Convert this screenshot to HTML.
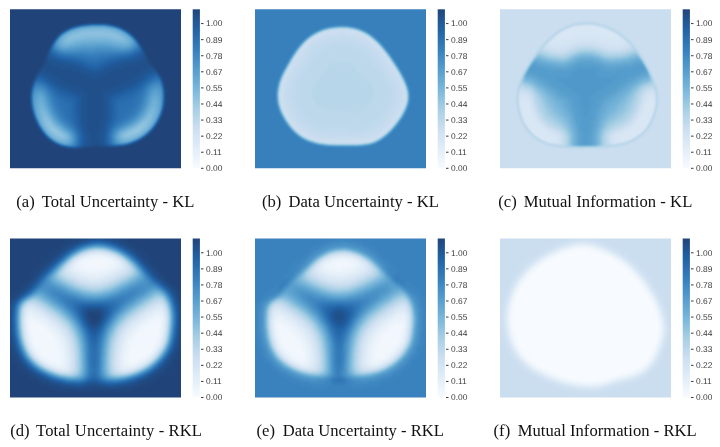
<!DOCTYPE html>
<html lang="en"><head><meta charset="utf-8"><title>Uncertainty heatmaps</title>
<style>
html,body{margin:0;padding:0;background:#fff}
svg{display:block}
.t{font-family:"Liberation Sans",sans-serif;font-size:8.4px;fill:#3a3a3a;text-rendering:geometricPrecision}
text{opacity:.999}
.c{font-family:"Liberation Serif",serif;font-size:16.6px;fill:#111}
</style></head>
<body>
<svg width="720" height="447" viewBox="0 0 720 447">
<defs>
<filter id="cm" filterUnits="userSpaceOnUse" x="-20" y="-20" width="215" height="200" color-interpolation-filters="sRGB"><feGaussianBlur stdDeviation="1.7"/><feComponentTransfer><feFuncR type="table" tableValues="0.9718 0.8835 0.7988 0.6541 0.4741 0.3294 0.2129 0.1282 0.1282"/><feFuncG type="table" tableValues="0.9859 0.9294 0.8729 0.8129 0.7141 0.6118 0.4953 0.3824 0.2694"/><feFuncB type="table" tableValues="1.0000 0.9718 0.9435 0.8941 0.8553 0.7988 0.7353 0.6471 0.4776"/><feFuncA type="linear" slope="0" intercept="1"/></feComponentTransfer></filter>
<filter id="cm_a" filterUnits="userSpaceOnUse" x="-20" y="-20" width="215" height="200" color-interpolation-filters="sRGB"><feGaussianBlur stdDeviation="1.8"/><feComponentTransfer><feFuncR type="table" tableValues="0.9718 0.8835 0.7988 0.6541 0.4741 0.3294 0.2129 0.1282 0.1282"/><feFuncG type="table" tableValues="0.9859 0.9294 0.8729 0.8129 0.7141 0.6118 0.4953 0.3824 0.2694"/><feFuncB type="table" tableValues="1.0000 0.9718 0.9435 0.8941 0.8553 0.7988 0.7353 0.6471 0.4776"/><feFuncA type="linear" slope="0" intercept="1"/></feComponentTransfer></filter>
<filter id="cm_b" filterUnits="userSpaceOnUse" x="-20" y="-20" width="215" height="200" color-interpolation-filters="sRGB"><feGaussianBlur stdDeviation="1.5"/><feComponentTransfer><feFuncR type="table" tableValues="0.9718 0.8835 0.7988 0.6541 0.4741 0.3294 0.2129 0.1282 0.1282"/><feFuncG type="table" tableValues="0.9859 0.9294 0.8729 0.8129 0.7141 0.6118 0.4953 0.3824 0.2694"/><feFuncB type="table" tableValues="1.0000 0.9718 0.9435 0.8941 0.8553 0.7988 0.7353 0.6471 0.4776"/><feFuncA type="linear" slope="0" intercept="1"/></feComponentTransfer></filter>
<filter id="cm_c" filterUnits="userSpaceOnUse" x="-20" y="-20" width="215" height="200" color-interpolation-filters="sRGB"><feGaussianBlur stdDeviation="1.1"/><feComponentTransfer><feFuncR type="table" tableValues="0.9718 0.8835 0.7988 0.6541 0.4741 0.3294 0.2129 0.1282 0.1282"/><feFuncG type="table" tableValues="0.9859 0.9294 0.8729 0.8129 0.7141 0.6118 0.4953 0.3824 0.2694"/><feFuncB type="table" tableValues="1.0000 0.9718 0.9435 0.8941 0.8553 0.7988 0.7353 0.6471 0.4776"/><feFuncA type="linear" slope="0" intercept="1"/></feComponentTransfer></filter>
<filter id="cm_f" filterUnits="userSpaceOnUse" x="-20" y="-20" width="215" height="200" color-interpolation-filters="sRGB"><feGaussianBlur stdDeviation="3.6"/><feComponentTransfer><feFuncR type="table" tableValues="0.9718 0.8835 0.7988 0.6541 0.4741 0.3294 0.2129 0.1282 0.1282"/><feFuncG type="table" tableValues="0.9859 0.9294 0.8729 0.8129 0.7141 0.6118 0.4953 0.3824 0.2694"/><feFuncB type="table" tableValues="1.0000 0.9718 0.9435 0.8941 0.8553 0.7988 0.7353 0.6471 0.4776"/><feFuncA type="linear" slope="0" intercept="1"/></feComponentTransfer></filter>
<filter id="cellblur" filterUnits="userSpaceOnUse" x="-20" y="-20" width="215" height="200" color-interpolation-filters="sRGB"><feGaussianBlur stdDeviation="1.7"/></filter>
<linearGradient id="cb" x1="0" y1="0" x2="0" y2="1"><stop offset="0.0000" stop-color="rgb(33,69,122)"/><stop offset="0.1250" stop-color="rgb(33,98,165)"/><stop offset="0.2500" stop-color="rgb(54,126,188)"/><stop offset="0.3750" stop-color="rgb(84,156,204)"/><stop offset="0.5000" stop-color="rgb(121,182,218)"/><stop offset="0.6250" stop-color="rgb(167,207,228)"/><stop offset="0.7500" stop-color="rgb(204,223,241)"/><stop offset="0.8750" stop-color="rgb(225,237,248)"/><stop offset="1.0000" stop-color="rgb(248,251,255)"/></linearGradient>
<clipPath id="cp"><rect x="0" y="0" width="171.0" height="159.0"/></clipPath>
</defs>
<g transform="translate(10.0,9.3)">
<g clip-path="url(#cp)"><g transform="translate(-0,-0.3)">
<g filter="url(#cm_a)">
<rect x="-12" y="-12" width="195" height="183" fill="#ffffff"/>
<clipPath id="o_a"><path d="M152.7 77.3L153.4 81.7L153.6 86.3L153.5 90.8L153 95.4L152.1 99.9L150.8 104.3L149 108.6L146.8 112.7L144.3 116.6L141.4 120.2L138.1 123.4L134.6 126.4L130.8 129L126.8 131.2L122.7 133L118.4 134.4L114.1 135.4L109.9 136.1L105.6 136.5L101.4 136.8L97.4 136.9L93.4 137L89.4 137L85.5 137.2L81.6 137.5L77.5 137.8L73.4 138.1L69.2 138.2L64.8 138.2L60.4 137.8L56 137.1L51.7 135.9L47.5 134.2L43.5 132L39.9 129.3L36.6 126.2L33.7 122.7L31.1 119L28.8 115.2L26.9 111.2L25.2 107L23.9 102.8L22.8 98.6L22.1 94.3L21.8 90L21.8 85.7L22.3 81.4L23.2 77.3L24.5 73.3L26 69.5L27.7 65.8L29.7 62.3L32 59.2L34.1 56L35.5 52.7L36.7 49.1L38.1 45.6L39.7 42.2L41.5 38.7L43.5 35.3L45.7 31.9L48.2 28.7L51.1 25.8L54.4 23.4L57.9 21.4L61.7 19.8L65.6 18.6L69.5 17.6L73.5 16.9L77.5 16.4L81.5 16.1L85.5 15.9L89.5 15.9L93.6 16.1L97.6 16.5L101.6 17.2L105.6 18.2L109.4 19.6L113.1 21.3L116.6 23.4L119.9 25.8L122.9 28.6L125.6 31.5L128.1 34.7L130.4 37.9L132.5 41.2L134.5 44.6L136.2 48L137.8 51.5L139.8 54.8L142.6 57.9L145.5 61.2L148 64.9L150 68.8L151.6 73Z"/></clipPath>
<g clip-path="url(#o_a)"><g filter="url(#cellblur)">
<g fill="none" stroke-width="3.6"><rect x="-11" y="-11" width="196" height="184" stroke="none" fill="#f3f3f3"/>
<path stroke="#646464" d="M41.7 121.5h3.6M125.7 121.5h3.6"/>
<path stroke="#686868" d="M131.7 115.5h3.6M38.7 118.5h3.6M128.7 118.5h3.6M44.7 121.5h3.6M122.7 121.5h3.6M44.7 124.5h6.6M116.7 124.5h9.6"/>
<path stroke="#6c6c6c" d="M65.7 25.5h3.6M35.7 112.5h3.6M134.7 112.5h3.6M35.7 115.5h6.6M41.7 118.5h3.6M125.7 118.5h3.6M131.7 118.5h3.6M119.7 121.5h3.6M128.7 121.5h3.6M47.7 127.5h6.6M113.7 127.5h6.6"/>
<path stroke="#707070" d="M71.7 22.5h27.6M62.7 25.5h3.6M68.7 25.5h39.6M56.7 28.5h9.6M104.7 28.5h6.6M32.7 109.5h3.6M137.7 109.5h3.6M128.7 115.5h3.6M134.7 115.5h3.6M38.7 121.5h3.6M41.7 124.5h3.6M50.7 124.5h3.6M113.7 124.5h3.6M125.7 124.5h3.6M53.7 127.5h3.6"/>
<path stroke="#747474" d="M68.7 22.5h3.6M98.7 22.5h3.6M59.7 25.5h3.6M107.7 25.5h3.6M65.7 28.5h9.6M98.7 28.5h6.6M110.7 28.5h3.6M53.7 31.5h9.6M110.7 31.5h3.6M32.7 106.5h3.6M137.7 106.5h3.6M35.7 109.5h3.6M134.7 109.5h3.6M32.7 112.5h3.6M38.7 112.5h3.6M131.7 112.5h3.6M137.7 112.5h3.6M35.7 118.5h3.6M122.7 118.5h3.6M47.7 121.5h3.6M44.7 127.5h3.6M110.7 127.5h3.6M119.7 127.5h3.6"/>
<path stroke="#787878" d="M101.7 22.5h3.6M74.7 28.5h24.6M62.7 31.5h3.6M104.7 31.5h6.6M113.7 31.5h3.6M32.7 103.5h3.6M140.7 103.5h3.6M140.7 106.5h3.6M41.7 115.5h3.6M44.7 118.5h3.6M134.7 118.5h3.6M116.7 121.5h3.6M131.7 121.5h3.6M110.7 124.5h3.6M122.7 127.5h3.6M50.7 130.5h6.6"/>
<path stroke="#7c7c7c" d="M65.7 22.5h3.6M53.7 28.5h3.6M113.7 28.5h3.6M65.7 31.5h6.6M101.7 31.5h3.6M53.7 34.5h6.6M29.7 97.5h3.6M29.7 100.5h3.6M140.7 100.5h3.6M29.7 103.5h3.6M137.7 103.5h3.6M29.7 106.5h3.6M35.7 106.5h3.6M140.7 109.5h3.6M32.7 115.5h3.6M125.7 115.5h3.6M137.7 115.5h3.6M35.7 121.5h3.6M38.7 124.5h3.6M53.7 124.5h3.6M128.7 124.5h3.6M41.7 127.5h3.6M47.7 130.5h3.6M113.7 130.5h3.6"/>
<path stroke="#808080" d="M77.7 19.5h18.6M62.7 22.5h3.6M104.7 22.5h3.6M56.7 25.5h3.6M110.7 25.5h3.6M50.7 31.5h3.6M71.7 31.5h9.6M95.7 31.5h6.6M116.7 31.5h3.6M50.7 34.5h3.6M59.7 34.5h3.6M110.7 34.5h6.6M140.7 97.5h6.6M32.7 100.5h3.6M143.7 100.5h3.6M134.7 106.5h3.6M29.7 109.5h3.6M38.7 109.5h3.6M131.7 109.5h3.6M128.7 112.5h3.6M32.7 118.5h3.6M119.7 118.5h3.6M50.7 121.5h3.6M113.7 121.5h3.6M56.7 127.5h3.6M107.7 127.5h3.6M125.7 127.5h3.6M56.7 130.5h3.6M110.7 130.5h3.6M116.7 130.5h3.6"/>
<path stroke="#838383" d="M71.7 19.5h6.6M95.7 19.5h3.6M80.7 31.5h15.6M62.7 34.5h3.6M107.7 34.5h3.6M116.7 34.5h3.6M143.7 91.5h3.6M29.7 94.5h3.6M140.7 94.5h6.6M137.7 100.5h3.6M35.7 103.5h3.6M143.7 103.5h3.6M29.7 112.5h3.6M41.7 112.5h3.6M140.7 112.5h3.6M47.7 118.5h3.6M137.7 118.5h3.6M134.7 121.5h3.6M44.7 130.5h3.6M119.7 130.5h3.6"/>
<path stroke="#878787" d="M68.7 19.5h3.6M98.7 19.5h3.6M59.7 22.5h3.6M107.7 22.5h3.6M53.7 25.5h3.6M50.7 28.5h3.6M116.7 28.5h3.6M65.7 34.5h3.6M101.7 34.5h6.6M53.7 37.5h3.6M143.7 88.5h3.6M29.7 91.5h3.6M140.7 91.5h3.6M26.7 94.5h3.6M26.7 97.5h3.6M32.7 97.5h3.6M26.7 100.5h3.6M26.7 103.5h3.6M134.7 103.5h3.6M143.7 106.5h3.6M29.7 115.5h3.6M44.7 115.5h3.6M122.7 115.5h3.6M35.7 124.5h3.6M107.7 124.5h3.6M131.7 124.5h3.6M38.7 127.5h3.6M107.7 130.5h3.6M50.7 133.5h6.6"/>
<path stroke="#8b8b8b" d="M101.7 19.5h3.6M113.7 25.5h3.6M47.7 34.5h3.6M68.7 34.5h9.6M98.7 34.5h3.6M50.7 37.5h3.6M56.7 37.5h3.6M29.7 88.5h3.6M26.7 91.5h3.6M32.7 94.5h3.6M137.7 97.5h3.6M26.7 106.5h3.6M38.7 106.5h3.6M143.7 109.5h3.6M140.7 115.5h3.6M116.7 118.5h3.6M32.7 121.5h3.6M110.7 121.5h3.6M56.7 124.5h3.6M128.7 127.5h3.6M41.7 130.5h3.6M122.7 130.5h3.6M47.7 133.5h3.6M56.7 133.5h3.6"/>
<path stroke="#8f8f8f" d="M65.7 19.5h3.6M104.7 19.5h3.6M56.7 22.5h3.6M110.7 22.5h3.6M47.7 31.5h3.6M119.7 31.5h3.6M77.7 34.5h21.6M119.7 34.5h3.6M59.7 37.5h3.6M110.7 37.5h9.6M143.7 85.5h3.6M26.7 88.5h3.6M140.7 88.5h3.6M146.7 91.5h3.6M146.7 94.5h3.6M146.7 97.5h3.6M35.7 100.5h3.6M146.7 100.5h3.6M146.7 103.5h3.6M131.7 106.5h3.6M26.7 109.5h3.6M128.7 109.5h3.6M125.7 112.5h3.6M143.7 112.5h3.6M29.7 118.5h3.6M140.7 118.5h3.6M53.7 121.5h3.6M137.7 121.5h3.6M134.7 124.5h3.6M131.7 127.5h3.6M59.7 130.5h3.6M125.7 130.5h3.6M44.7 133.5h3.6M110.7 133.5h9.6"/>
<path stroke="#939393" d="M74.7 16.5h24.6M62.7 19.5h3.6M50.7 25.5h3.6M116.7 25.5h3.6M47.7 37.5h3.6M62.7 37.5h3.6M104.7 37.5h6.6M143.7 82.5h3.6M26.7 85.5h6.6M140.7 85.5h3.6M146.7 88.5h3.6M32.7 91.5h3.6M23.7 94.5h3.6M137.7 94.5h3.6M23.7 97.5h3.6M23.7 100.5h3.6M134.7 100.5h3.6M146.7 106.5h3.6M41.7 109.5h3.6M26.7 112.5h3.6M26.7 115.5h3.6M143.7 115.5h3.6M20.7 118.5h9.6M50.7 118.5h3.6M143.7 118.5h9.6M23.7 121.5h9.6M140.7 121.5h9.6M26.7 124.5h9.6M137.7 124.5h9.6M26.7 127.5h12.6M59.7 127.5h3.6M104.7 127.5h3.6M134.7 127.5h9.6M29.7 130.5h12.6M128.7 130.5h12.6M32.7 133.5h12.6M119.7 133.5h18.6M35.7 136.5h18.6M116.7 136.5h15.6M41.7 139.5h9.6M116.7 139.5h9.6M47.7 142.5h3.6"/>
<path stroke="#979797" d="M65.7 10.5h39.6M56.7 13.5h57.6M50.7 16.5h24.6M98.7 16.5h21.6M47.7 19.5h15.6M107.7 19.5h15.6M44.7 22.5h12.6M113.7 22.5h9.6M47.7 28.5h3.6M119.7 28.5h3.6M65.7 37.5h6.6M101.7 37.5h3.6M119.7 37.5h3.6M146.7 85.5h3.6M23.7 88.5h3.6M32.7 88.5h3.6M23.7 91.5h3.6M137.7 91.5h3.6M35.7 97.5h3.6M23.7 103.5h3.6M38.7 103.5h3.6M23.7 106.5h3.6M17.7 109.5h9.6M146.7 109.5h9.6M17.7 112.5h9.6M44.7 112.5h3.6M146.7 112.5h9.6M20.7 115.5h6.6M47.7 115.5h3.6M119.7 115.5h3.6M146.7 115.5h6.6M113.7 118.5h3.6M104.7 130.5h3.6M107.7 133.5h3.6M53.7 136.5h3.6M113.7 136.5h3.6M50.7 139.5h3.6M113.7 139.5h3.6M50.7 142.5h3.6M113.7 142.5h3.6"/>
<path stroke="#9b9b9b" d="M122.7 22.5h3.6M41.7 25.5h9.6M119.7 25.5h9.6M44.7 28.5h3.6M71.7 37.5h15.6M95.7 37.5h6.6M53.7 40.5h3.6M140.7 82.5h3.6M146.7 82.5h3.6M137.7 88.5h3.6M149.7 91.5h3.6M35.7 94.5h3.6M149.7 94.5h3.6M134.7 97.5h3.6M149.7 97.5h3.6M149.7 100.5h3.6M14.7 103.5h9.6M131.7 103.5h3.6M149.7 103.5h9.6M17.7 106.5h6.6M149.7 106.5h9.6M107.7 121.5h3.6M104.7 124.5h3.6M59.7 133.5h3.6M56.7 136.5h3.6M110.7 136.5h3.6M53.7 139.5h3.6M110.7 139.5h3.6M53.7 142.5h3.6M110.7 142.5h3.6"/>
<path stroke="#9f9f9f" d="M38.7 28.5h6.6M122.7 28.5h6.6M44.7 31.5h3.6M122.7 31.5h3.6M44.7 34.5h3.6M122.7 34.5h3.6M86.7 37.5h9.6M50.7 40.5h3.6M56.7 40.5h6.6M143.7 79.5h3.6M26.7 82.5h6.6M23.7 85.5h3.6M32.7 85.5h3.6M149.7 85.5h3.6M149.7 88.5h3.6M20.7 94.5h3.6M14.7 97.5h9.6M152.7 97.5h6.6M14.7 100.5h9.6M38.7 100.5h3.6M152.7 100.5h6.6M41.7 106.5h3.6M128.7 106.5h3.6M125.7 109.5h3.6M122.7 112.5h3.6M56.7 121.5h3.6M59.7 124.5h3.6M56.7 139.5h3.6M56.7 142.5h3.6"/>
<path stroke="#a3a3a3" d="M128.7 28.5h3.6M41.7 31.5h3.6M44.7 37.5h3.6M47.7 40.5h3.6M62.7 40.5h6.6M107.7 40.5h9.6M140.7 79.5h3.6M146.7 79.5h3.6M23.7 82.5h3.6M149.7 82.5h3.6M137.7 85.5h3.6M20.7 88.5h3.6M14.7 91.5h9.6M35.7 91.5h3.6M152.7 91.5h9.6M14.7 94.5h6.6M134.7 94.5h3.6M152.7 94.5h9.6M131.7 100.5h3.6M116.7 115.5h3.6M53.7 118.5h3.6M110.7 118.5h3.6M104.7 133.5h3.6M107.7 136.5h3.6M107.7 139.5h3.6M107.7 142.5h3.6"/>
<path stroke="#a7a7a7" d="M38.7 31.5h3.6M125.7 31.5h3.6M68.7 40.5h15.6M101.7 40.5h6.6M116.7 40.5h3.6M137.7 82.5h3.6M14.7 85.5h3.6M20.7 85.5h3.6M152.7 85.5h9.6M14.7 88.5h6.6M35.7 88.5h3.6M152.7 88.5h9.6M134.7 91.5h3.6M38.7 97.5h3.6M44.7 109.5h3.6M47.7 112.5h3.6M50.7 115.5h3.6M62.7 130.5h3.6M59.7 136.5h3.6"/>
<path stroke="#ababab" d="M35.7 31.5h3.6M128.7 31.5h3.6M41.7 34.5h3.6M122.7 37.5h3.6M83.7 40.5h18.6M143.7 76.5h6.6M26.7 79.5h6.6M149.7 79.5h3.6M158.7 79.5h3.6M14.7 82.5h9.6M32.7 82.5h3.6M152.7 82.5h9.6M17.7 85.5h3.6M134.7 88.5h3.6M131.7 97.5h3.6M41.7 103.5h3.6M128.7 103.5h3.6M119.7 112.5h3.6M113.7 115.5h3.6M104.7 121.5h3.6M62.7 127.5h3.6M101.7 127.5h3.6M59.7 139.5h3.6M59.7 142.5h3.6"/>
<path stroke="#afafaf" d="M131.7 31.5h3.6M125.7 34.5h3.6M119.7 40.5h3.6M140.7 76.5h3.6M149.7 76.5h3.6M155.7 76.5h3.6M14.7 79.5h6.6M23.7 79.5h3.6M137.7 79.5h3.6M152.7 79.5h6.6M35.7 85.5h3.6M38.7 94.5h3.6M44.7 106.5h3.6M125.7 106.5h3.6M122.7 109.5h3.6M107.7 118.5h3.6M59.7 121.5h3.6M101.7 130.5h3.6M62.7 133.5h3.6M104.7 136.5h3.6M104.7 139.5h3.6M104.7 142.5h3.6"/>
<path stroke="#b3b3b3" d="M38.7 34.5h3.6M44.7 40.5h3.6M53.7 43.5h15.6M74.7 43.5h12.6M155.7 73.5h3.6M14.7 76.5h3.6M152.7 76.5h3.6M20.7 79.5h3.6M134.7 85.5h3.6M38.7 91.5h3.6M131.7 94.5h3.6M41.7 100.5h3.6M128.7 100.5h3.6M47.7 109.5h3.6M116.7 112.5h3.6M53.7 115.5h3.6M56.7 118.5h3.6M62.7 124.5h3.6M101.7 124.5h3.6"/>
<path stroke="#b7b7b7" d="M35.7 34.5h3.6M128.7 34.5h3.6M41.7 37.5h3.6M50.7 43.5h3.6M68.7 43.5h6.6M86.7 43.5h27.6M143.7 73.5h6.6M152.7 73.5h3.6M17.7 76.5h3.6M26.7 76.5h3.6M32.7 79.5h3.6M35.7 82.5h3.6M134.7 82.5h3.6M38.7 88.5h3.6M131.7 91.5h3.6M41.7 97.5h3.6M44.7 103.5h3.6M125.7 103.5h3.6M119.7 109.5h3.6M50.7 112.5h3.6M110.7 115.5h3.6M101.7 133.5h3.6M62.7 136.5h3.6"/>
<path stroke="#bbbbbb" d="M125.7 37.5h3.6M122.7 40.5h3.6M47.7 43.5h3.6M113.7 43.5h3.6M155.7 70.5h3.6M149.7 73.5h3.6M20.7 76.5h6.6M29.7 76.5h3.6M137.7 76.5h3.6M131.7 88.5h3.6M41.7 94.5h3.6M128.7 97.5h3.6M47.7 106.5h3.6M122.7 106.5h3.6M113.7 112.5h3.6M104.7 118.5h3.6M101.7 121.5h3.6M62.7 139.5h3.6M62.7 142.5h3.6"/>
<path stroke="#bfbfbf" d="M131.7 34.5h3.6M38.7 37.5h3.6M116.7 43.5h3.6M74.7 46.5h15.6M152.7 70.5h3.6M17.7 73.5h3.6M140.7 73.5h3.6M134.7 79.5h3.6M38.7 85.5h3.6M131.7 85.5h3.6M41.7 91.5h3.6M128.7 94.5h3.6M44.7 100.5h3.6M125.7 100.5h3.6M50.7 109.5h3.6M116.7 109.5h3.6M53.7 112.5h3.6M56.7 115.5h3.6M107.7 115.5h3.6M59.7 118.5h3.6M62.7 121.5h3.6M101.7 136.5h3.6M101.7 139.5h3.6M101.7 142.5h3.6"/>
<path stroke="#c3c3c3" d="M41.7 40.5h3.6M59.7 46.5h15.6M89.7 46.5h9.6M152.7 67.5h3.6M20.7 73.5h3.6M32.7 76.5h3.6M35.7 79.5h3.6M131.7 82.5h3.6M41.7 88.5h3.6M128.7 91.5h3.6M44.7 97.5h3.6M125.7 97.5h3.6M47.7 103.5h3.6M122.7 103.5h3.6M119.7 106.5h3.6M110.7 112.5h3.6M65.7 127.5h3.6M98.7 127.5h3.6M65.7 130.5h3.6"/>
<path stroke="#c7c7c7" d="M134.7 34.5h3.6M35.7 37.5h3.6M128.7 37.5h3.6M125.7 40.5h3.6M44.7 43.5h3.6M119.7 43.5h3.6M53.7 46.5h6.6M98.7 46.5h6.6M77.7 49.5h12.6M146.7 70.5h6.6M23.7 73.5h3.6M137.7 73.5h3.6M134.7 76.5h3.6M38.7 82.5h3.6M128.7 85.5h3.6M128.7 88.5h3.6M44.7 91.5h3.6M44.7 94.5h3.6M125.7 94.5h3.6M47.7 97.5h3.6M47.7 100.5h3.6M122.7 100.5h3.6M50.7 103.5h3.6M119.7 103.5h3.6M50.7 106.5h3.6M116.7 106.5h3.6M53.7 109.5h3.6M113.7 109.5h3.6M56.7 112.5h3.6M107.7 112.5h3.6M59.7 115.5h3.6M104.7 115.5h3.6M101.7 118.5h3.6M98.7 124.5h3.6M98.7 130.5h3.6M65.7 133.5h3.6"/>
<path stroke="#cbcbcb" d="M50.7 46.5h3.6M104.7 46.5h6.6M71.7 49.5h6.6M89.7 49.5h6.6M149.7 67.5h3.6M17.7 70.5h3.6M143.7 70.5h3.6M26.7 73.5h6.6M131.7 79.5h3.6M41.7 85.5h3.6M44.7 88.5h3.6M125.7 88.5h3.6M122.7 91.5h6.6M47.7 94.5h3.6M122.7 94.5h3.6M50.7 97.5h3.6M119.7 97.5h6.6M50.7 100.5h3.6M116.7 100.5h6.6M53.7 103.5h3.6M113.7 103.5h6.6M53.7 106.5h3.6M110.7 106.5h6.6M56.7 109.5h3.6M110.7 109.5h3.6M62.7 118.5h3.6M65.7 124.5h3.6M98.7 133.5h3.6M65.7 136.5h3.6"/>
<path stroke="#cfcfcf" d="M32.7 37.5h3.6M131.7 37.5h3.6M38.7 40.5h3.6M122.7 43.5h3.6M110.7 46.5h6.6M65.7 49.5h6.6M95.7 49.5h3.6M77.7 52.5h12.6M146.7 67.5h3.6M20.7 70.5h3.6M140.7 70.5h3.6M35.7 76.5h3.6M38.7 79.5h3.6M41.7 82.5h3.6M128.7 82.5h3.6M125.7 85.5h3.6M47.7 88.5h3.6M122.7 88.5h3.6M47.7 91.5h6.6M116.7 91.5h6.6M50.7 94.5h9.6M110.7 94.5h12.6M53.7 97.5h6.6M107.7 97.5h12.6M53.7 100.5h6.6M107.7 100.5h9.6M56.7 103.5h3.6M107.7 103.5h6.6M56.7 106.5h3.6M107.7 106.5h3.6M107.7 109.5h3.6M59.7 112.5h3.6M104.7 112.5h3.6M98.7 121.5h3.6M98.7 136.5h3.6M65.7 139.5h3.6M65.7 142.5h3.6"/>
<path stroke="#d3d3d3" d="M128.7 40.5h3.6M41.7 43.5h3.6M47.7 46.5h3.6M116.7 46.5h3.6M62.7 49.5h3.6M98.7 49.5h3.6M74.7 52.5h3.6M89.7 52.5h3.6M83.7 55.5h3.6M152.7 64.5h3.6M17.7 67.5h3.6M143.7 67.5h3.6M32.7 73.5h3.6M134.7 73.5h3.6M131.7 76.5h3.6M128.7 79.5h3.6M125.7 82.5h3.6M44.7 85.5h3.6M122.7 85.5h3.6M50.7 88.5h3.6M113.7 88.5h9.6M53.7 91.5h6.6M107.7 91.5h9.6M59.7 94.5h3.6M104.7 94.5h6.6M59.7 97.5h3.6M104.7 97.5h3.6M59.7 100.5h3.6M104.7 100.5h3.6M59.7 103.5h3.6M104.7 103.5h3.6M59.7 106.5h3.6M104.7 106.5h3.6M59.7 109.5h3.6M104.7 109.5h3.6M62.7 115.5h3.6M101.7 115.5h3.6M65.7 121.5h3.6M98.7 139.5h3.6M98.7 142.5h3.6"/>
<path stroke="#d7d7d7" d="M134.7 37.5h3.6M35.7 40.5h3.6M125.7 43.5h3.6M44.7 46.5h3.6M119.7 46.5h3.6M56.7 49.5h6.6M101.7 49.5h6.6M71.7 52.5h3.6M92.7 52.5h3.6M77.7 55.5h6.6M86.7 55.5h3.6M20.7 67.5h3.6M140.7 67.5h3.6M23.7 70.5h6.6M137.7 70.5h3.6M44.7 82.5h3.6M122.7 82.5h3.6M47.7 85.5h3.6M116.7 85.5h6.6M53.7 88.5h3.6M110.7 88.5h3.6M59.7 91.5h3.6M104.7 91.5h3.6M62.7 109.5h3.6M101.7 109.5h3.6M62.7 112.5h3.6M101.7 112.5h3.6M65.7 118.5h3.6M98.7 118.5h3.6M68.7 127.5h3.6M95.7 127.5h3.6M68.7 130.5h3.6"/>
<path stroke="#dbdbdb" d="M131.7 40.5h3.6M38.7 43.5h3.6M50.7 49.5h6.6M107.7 49.5h3.6M65.7 52.5h6.6M95.7 52.5h3.6M74.7 55.5h3.6M89.7 55.5h3.6M83.7 58.5h3.6M149.7 64.5h3.6M29.7 70.5h3.6M35.7 73.5h3.6M131.7 73.5h3.6M38.7 76.5h3.6M128.7 76.5h3.6M41.7 79.5h3.6M125.7 79.5h3.6M119.7 82.5h3.6M50.7 85.5h3.6M113.7 85.5h3.6M56.7 88.5h6.6M107.7 88.5h3.6M62.7 91.5h3.6M101.7 91.5h3.6M62.7 94.5h3.6M101.7 94.5h3.6M62.7 97.5h3.6M101.7 97.5h3.6M62.7 100.5h3.6M101.7 100.5h3.6M62.7 103.5h3.6M101.7 103.5h3.6M62.7 106.5h3.6M101.7 106.5h3.6M98.7 115.5h3.6M68.7 124.5h3.6M95.7 124.5h3.6M95.7 130.5h3.6M68.7 133.5h3.6M95.7 133.5h3.6M68.7 136.5h3.6"/>
<path stroke="#dfdfdf" d="M32.7 40.5h3.6M128.7 43.5h3.6M41.7 46.5h3.6M122.7 46.5h3.6M47.7 49.5h3.6M110.7 49.5h6.6M62.7 52.5h3.6M98.7 52.5h6.6M71.7 55.5h3.6M92.7 55.5h3.6M77.7 58.5h6.6M86.7 58.5h3.6M146.7 64.5h3.6M23.7 67.5h3.6M137.7 67.5h3.6M32.7 70.5h3.6M134.7 70.5h3.6M44.7 79.5h3.6M122.7 79.5h3.6M47.7 82.5h3.6M116.7 82.5h3.6M53.7 85.5h6.6M110.7 85.5h3.6M62.7 88.5h3.6M101.7 88.5h6.6M65.7 106.5h3.6M65.7 109.5h3.6M65.7 112.5h3.6M98.7 112.5h3.6M65.7 115.5h3.6M68.7 121.5h3.6M95.7 121.5h3.6M95.7 136.5h3.6M68.7 139.5h3.6M95.7 139.5h3.6M68.7 142.5h3.6M95.7 142.5h3.6"/>
<path stroke="#e3e3e3" d="M134.7 40.5h3.6M35.7 43.5h3.6M125.7 46.5h3.6M44.7 49.5h3.6M116.7 49.5h3.6M56.7 52.5h6.6M104.7 52.5h3.6M68.7 55.5h3.6M95.7 55.5h3.6M74.7 58.5h3.6M89.7 58.5h3.6M83.7 61.5h3.6M149.7 61.5h3.6M20.7 64.5h3.6M143.7 64.5h3.6M26.7 67.5h6.6M134.7 67.5h3.6M38.7 73.5h3.6M128.7 73.5h3.6M41.7 76.5h3.6M125.7 76.5h3.6M47.7 79.5h3.6M119.7 79.5h3.6M50.7 82.5h6.6M113.7 82.5h3.6M59.7 85.5h3.6M104.7 85.5h6.6M65.7 88.5h3.6M98.7 88.5h3.6M65.7 91.5h3.6M98.7 91.5h3.6M65.7 94.5h3.6M98.7 94.5h3.6M65.7 97.5h3.6M98.7 97.5h3.6M65.7 100.5h3.6M98.7 100.5h3.6M65.7 103.5h3.6M98.7 103.5h3.6M98.7 106.5h3.6M98.7 109.5h3.6M68.7 118.5h3.6M95.7 118.5h3.6M71.7 130.5h3.6"/>
<path stroke="#e7e7e7" d="M137.7 40.5h3.6M32.7 43.5h3.6M131.7 43.5h3.6M38.7 46.5h3.6M128.7 46.5h3.6M41.7 49.5h3.6M119.7 49.5h6.6M50.7 52.5h6.6M107.7 52.5h6.6M62.7 55.5h6.6M98.7 55.5h6.6M71.7 58.5h3.6M92.7 58.5h3.6M77.7 61.5h6.6M86.7 61.5h3.6M146.7 61.5h3.6M23.7 64.5h3.6M137.7 64.5h6.6M32.7 67.5h3.6M35.7 70.5h3.6M131.7 70.5h3.6M41.7 73.5h3.6M125.7 73.5h3.6M44.7 76.5h3.6M122.7 76.5h3.6M50.7 79.5h3.6M113.7 79.5h6.6M56.7 82.5h3.6M107.7 82.5h6.6M62.7 85.5h3.6M101.7 85.5h3.6M68.7 88.5h3.6M68.7 91.5h3.6M68.7 94.5h3.6M68.7 97.5h3.6M68.7 100.5h3.6M68.7 103.5h3.6M68.7 106.5h3.6M68.7 109.5h3.6M68.7 112.5h3.6M95.7 112.5h3.6M68.7 115.5h3.6M95.7 115.5h3.6M71.7 124.5h3.6M92.7 124.5h3.6M71.7 127.5h3.6M92.7 127.5h3.6M92.7 130.5h3.6M71.7 133.5h3.6M92.7 133.5h3.6M71.7 136.5h3.6M71.7 139.5h3.6M71.7 142.5h3.6"/>
<path stroke="#ebebeb" d="M29.7 43.5h3.6M134.7 43.5h6.6M32.7 46.5h6.6M131.7 46.5h3.6M38.7 49.5h3.6M125.7 49.5h3.6M44.7 52.5h6.6M113.7 52.5h9.6M53.7 55.5h9.6M104.7 55.5h6.6M65.7 58.5h6.6M95.7 58.5h6.6M149.7 58.5h3.6M20.7 61.5h3.6M71.7 61.5h6.6M89.7 61.5h6.6M140.7 61.5h6.6M26.7 64.5h6.6M80.7 64.5h6.6M134.7 64.5h3.6M35.7 67.5h6.6M128.7 67.5h6.6M38.7 70.5h3.6M128.7 70.5h3.6M44.7 73.5h3.6M122.7 73.5h3.6M47.7 76.5h3.6M116.7 76.5h6.6M53.7 79.5h3.6M110.7 79.5h3.6M59.7 82.5h6.6M101.7 82.5h6.6M65.7 85.5h6.6M95.7 85.5h6.6M95.7 88.5h3.6M95.7 91.5h3.6M95.7 94.5h3.6M95.7 97.5h3.6M95.7 100.5h3.6M95.7 103.5h3.6M95.7 106.5h3.6M95.7 109.5h3.6M71.7 115.5h3.6M92.7 115.5h3.6M71.7 118.5h3.6M92.7 118.5h3.6M71.7 121.5h3.6M92.7 121.5h3.6M74.7 127.5h3.6M89.7 127.5h3.6M74.7 130.5h3.6M92.7 136.5h3.6M92.7 139.5h3.6M92.7 142.5h3.6"/>
<path stroke="#efefef" d="M29.7 46.5h3.6M134.7 46.5h9.6M32.7 49.5h6.6M128.7 49.5h9.6M38.7 52.5h6.6M122.7 52.5h9.6M41.7 55.5h12.6M110.7 55.5h15.6M146.7 55.5h3.6M23.7 58.5h3.6M50.7 58.5h15.6M101.7 58.5h12.6M137.7 58.5h12.6M23.7 61.5h12.6M62.7 61.5h9.6M95.7 61.5h9.6M131.7 61.5h9.6M32.7 64.5h9.6M71.7 64.5h9.6M86.7 64.5h9.6M128.7 64.5h6.6M41.7 67.5h6.6M77.7 67.5h12.6M122.7 67.5h6.6M41.7 70.5h9.6M119.7 70.5h9.6M47.7 73.5h6.6M113.7 73.5h9.6M50.7 76.5h9.6M107.7 76.5h9.6M56.7 79.5h12.6M101.7 79.5h9.6M65.7 82.5h9.6M92.7 82.5h9.6M71.7 85.5h6.6M92.7 85.5h3.6M71.7 88.5h6.6M92.7 88.5h3.6M71.7 91.5h6.6M92.7 91.5h3.6M71.7 94.5h6.6M92.7 94.5h3.6M71.7 97.5h6.6M92.7 97.5h3.6M71.7 100.5h6.6M92.7 100.5h3.6M71.7 103.5h6.6M92.7 103.5h3.6M71.7 106.5h6.6M92.7 106.5h3.6M71.7 109.5h6.6M92.7 109.5h3.6M71.7 112.5h6.6M89.7 112.5h6.6M74.7 115.5h3.6M89.7 115.5h3.6M74.7 118.5h3.6M89.7 118.5h3.6M74.7 121.5h3.6M89.7 121.5h3.6M74.7 124.5h6.6M86.7 124.5h6.6M77.7 127.5h3.6M86.7 127.5h3.6M77.7 130.5h3.6M86.7 130.5h6.6M74.7 133.5h6.6M86.7 133.5h6.6M74.7 136.5h6.6M89.7 136.5h3.6M74.7 139.5h3.6M89.7 139.5h3.6M74.7 142.5h3.6M89.7 142.5h3.6"/></g>
</g></g>
</g>
</g></g>
<rect x="182.7" y="0" width="7.2" height="159.0" fill="url(#cb)"/>
<rect x="191" y="158.50" width="2.5" height="1" fill="#3a3a3a"/><text class="t" x="196" y="161.90">0.00</text>
<rect x="191" y="142.42" width="2.5" height="1" fill="#3a3a3a"/><text class="t" x="196" y="145.82">0.11</text>
<rect x="191" y="126.34" width="2.5" height="1" fill="#3a3a3a"/><text class="t" x="196" y="129.74">0.22</text>
<rect x="191" y="110.26" width="2.5" height="1" fill="#3a3a3a"/><text class="t" x="196" y="113.66">0.33</text>
<rect x="191" y="94.18" width="2.5" height="1" fill="#3a3a3a"/><text class="t" x="196" y="97.58">0.44</text>
<rect x="191" y="78.09" width="2.5" height="1" fill="#3a3a3a"/><text class="t" x="196" y="81.49">0.55</text>
<rect x="191" y="62.01" width="2.5" height="1" fill="#3a3a3a"/><text class="t" x="196" y="65.41">0.67</text>
<rect x="191" y="45.93" width="2.5" height="1" fill="#3a3a3a"/><text class="t" x="196" y="49.33">0.78</text>
<rect x="191" y="29.85" width="2.5" height="1" fill="#3a3a3a"/><text class="t" x="196" y="33.25">0.89</text>
<rect x="191" y="13.77" width="2.5" height="1" fill="#3a3a3a"/><text class="t" x="196" y="17.17">1.00</text>
</g>
<g transform="translate(255.0,9.3)">
<g clip-path="url(#cp)"><g transform="translate(-0,-0.3)">
<g filter="url(#cm_b)">
<rect x="-12" y="-12" width="195" height="183" fill="#bdbdbd"/>
<clipPath id="o_b"><path d="M151.4 77.3L152.7 81.7L153.3 86.2L153.1 90.7L152.2 95.2L150.6 99.4L148.7 103.5L146.5 107.4L144.1 111.1L141.5 114.7L138.7 118.1L135.7 121.4L132.6 124.4L129.3 127.3L125.8 129.8L122 132L118.1 133.7L113.9 134.9L109.7 135.6L105.4 136L101.3 136.2L97.2 136.2L93.3 136.2L89.4 136.2L85.5 136.2L81.6 136.2L77.8 136.1L73.8 135.9L69.9 135.5L65.9 135L61.9 134.2L58 133.1L54 131.8L50.2 130.1L46.6 128L43.2 125.5L40 122.8L37.1 119.8L34.4 116.5L31.9 113.1L29.7 109.5L27.7 105.8L25.9 102L24.5 98L23.5 93.9L23 89.7L22.8 85.5L23.2 81.4L23.9 77.3L24.9 73.3L26.3 69.5L27.9 65.8L29.7 62.3L31.5 59L33.3 55.7L35.2 52.5L37 49.3L39 46.2L41 43.2L43.2 40.2L45.5 37.3L48 34.5L50.6 31.8L53.5 29.3L56.5 27L59.7 25L63.1 23.2L66.6 21.7L70.3 20.5L74 19.6L77.8 18.9L81.6 18.5L85.5 18.3L89.4 18.3L93.2 18.6L97.1 19.2L100.8 20.1L104.5 21.2L108.1 22.7L111.5 24.6L114.7 26.6L117.8 29L120.7 31.4L123.4 34.1L126 36.8L128.4 39.7L130.7 42.6L133 45.6L135.2 48.6L137.3 51.7L139.5 54.9L141.6 58.2L143.7 61.7L145.8 65.3L147.8 69.1L149.7 73.1Z"/></clipPath>
<g clip-path="url(#o_b)"><g filter="url(#cellblur)">
<g fill="none" stroke-width="3.6"><rect x="-11" y="-11" width="196" height="184" stroke="none" fill="#3c3c3c"/>
<path stroke="#404040" d="M80.7 22.5h9.6M68.7 25.5h15.6M89.7 25.5h15.6M62.7 28.5h6.6M101.7 28.5h9.6M56.7 31.5h6.6M107.7 31.5h6.6M53.7 34.5h3.6M113.7 34.5h3.6M50.7 37.5h3.6M116.7 37.5h3.6M47.7 40.5h3.6M119.7 40.5h3.6M44.7 43.5h6.6M122.7 43.5h3.6M44.7 46.5h3.6M125.7 46.5h3.6M41.7 49.5h3.6M125.7 49.5h6.6M38.7 52.5h3.6M128.7 52.5h3.6M38.7 55.5h3.6M131.7 55.5h3.6M35.7 58.5h3.6M131.7 58.5h6.6M35.7 61.5h3.6M134.7 61.5h3.6M32.7 64.5h3.6M137.7 64.5h3.6M29.7 67.5h6.6M137.7 67.5h6.6M29.7 70.5h3.6M140.7 70.5h3.6M29.7 73.5h3.6M143.7 73.5h3.6M26.7 76.5h3.6M143.7 76.5h3.6M26.7 79.5h3.6M143.7 79.5h3.6M26.7 82.5h3.6M146.7 82.5h3.6M26.7 85.5h3.6M146.7 85.5h3.6M26.7 88.5h3.6M146.7 88.5h3.6M26.7 91.5h3.6M146.7 91.5h3.6M26.7 94.5h3.6M143.7 94.5h3.6M29.7 97.5h3.6M143.7 97.5h3.6M29.7 100.5h3.6M140.7 100.5h6.6M29.7 103.5h6.6M140.7 103.5h3.6M32.7 106.5h3.6M137.7 106.5h3.6M32.7 109.5h6.6M134.7 109.5h6.6M35.7 112.5h3.6M134.7 112.5h3.6M38.7 115.5h3.6M131.7 115.5h3.6M41.7 118.5h3.6M128.7 118.5h3.6M44.7 121.5h6.6M125.7 121.5h3.6M47.7 124.5h6.6M119.7 124.5h6.6M53.7 127.5h9.6M113.7 127.5h9.6M62.7 130.5h51.6"/>
<path stroke="#444444" d="M83.7 25.5h6.6M68.7 28.5h33.6M62.7 31.5h9.6M98.7 31.5h9.6M56.7 34.5h9.6M104.7 34.5h9.6M53.7 37.5h6.6M110.7 37.5h6.6M50.7 40.5h6.6M113.7 40.5h6.6M50.7 43.5h3.6M116.7 43.5h6.6M47.7 46.5h6.6M119.7 46.5h6.6M44.7 49.5h6.6M122.7 49.5h3.6M41.7 52.5h6.6M122.7 52.5h6.6M41.7 55.5h6.6M125.7 55.5h6.6M38.7 58.5h6.6M128.7 58.5h3.6M38.7 61.5h3.6M128.7 61.5h6.6M35.7 64.5h6.6M131.7 64.5h6.6M35.7 67.5h3.6M134.7 67.5h3.6M32.7 70.5h6.6M134.7 70.5h6.6M32.7 73.5h3.6M137.7 73.5h6.6M29.7 76.5h6.6M140.7 76.5h3.6M29.7 79.5h6.6M140.7 79.5h3.6M29.7 82.5h3.6M140.7 82.5h6.6M29.7 85.5h3.6M140.7 85.5h6.6M29.7 88.5h3.6M140.7 88.5h6.6M29.7 91.5h6.6M140.7 91.5h6.6M29.7 94.5h6.6M140.7 94.5h3.6M32.7 97.5h3.6M137.7 97.5h6.6M32.7 100.5h6.6M137.7 100.5h3.6M35.7 103.5h3.6M134.7 103.5h6.6M35.7 106.5h6.6M131.7 106.5h6.6M38.7 109.5h3.6M131.7 109.5h3.6M38.7 112.5h6.6M128.7 112.5h6.6M41.7 115.5h6.6M125.7 115.5h6.6M44.7 118.5h9.6M122.7 118.5h6.6M50.7 121.5h9.6M116.7 121.5h9.6M53.7 124.5h18.6M107.7 124.5h12.6M62.7 127.5h51.6"/>
<path stroke="#484848" d="M71.7 31.5h27.6M65.7 34.5h39.6M59.7 37.5h18.6M95.7 37.5h15.6M56.7 40.5h12.6M101.7 40.5h12.6M53.7 43.5h12.6M107.7 43.5h9.6M53.7 46.5h6.6M110.7 46.5h9.6M50.7 49.5h9.6M113.7 49.5h9.6M47.7 52.5h9.6M113.7 52.5h9.6M47.7 55.5h6.6M116.7 55.5h9.6M44.7 58.5h9.6M119.7 58.5h9.6M41.7 61.5h9.6M122.7 61.5h6.6M41.7 64.5h6.6M125.7 64.5h6.6M38.7 67.5h9.6M125.7 67.5h9.6M38.7 70.5h6.6M128.7 70.5h6.6M35.7 73.5h6.6M131.7 73.5h6.6M35.7 76.5h6.6M131.7 76.5h9.6M35.7 79.5h6.6M134.7 79.5h6.6M32.7 82.5h9.6M134.7 82.5h6.6M32.7 85.5h9.6M134.7 85.5h6.6M32.7 88.5h9.6M134.7 88.5h6.6M35.7 91.5h6.6M134.7 91.5h6.6M35.7 94.5h6.6M131.7 94.5h9.6M35.7 97.5h9.6M131.7 97.5h6.6M38.7 100.5h6.6M128.7 100.5h9.6M38.7 103.5h9.6M125.7 103.5h9.6M41.7 106.5h9.6M125.7 106.5h6.6M41.7 109.5h9.6M122.7 109.5h9.6M44.7 112.5h12.6M119.7 112.5h9.6M47.7 115.5h12.6M113.7 115.5h12.6M53.7 118.5h39.6M107.7 118.5h15.6M59.7 121.5h57.6M71.7 124.5h36.6"/>
<path stroke="#4c4c4c" d="M77.7 37.5h18.6M68.7 40.5h33.6M65.7 43.5h42.6M59.7 46.5h51.6M59.7 49.5h54.6M56.7 52.5h57.6M53.7 55.5h21.6M95.7 55.5h21.6M53.7 58.5h18.6M98.7 58.5h21.6M50.7 61.5h18.6M101.7 61.5h21.6M47.7 64.5h21.6M104.7 64.5h21.6M47.7 67.5h18.6M107.7 67.5h18.6M44.7 70.5h18.6M110.7 70.5h18.6M41.7 73.5h18.6M113.7 73.5h18.6M41.7 76.5h18.6M116.7 76.5h15.6M41.7 79.5h15.6M116.7 79.5h18.6M41.7 82.5h15.6M119.7 82.5h15.6M41.7 85.5h15.6M119.7 85.5h15.6M41.7 88.5h15.6M116.7 88.5h18.6M41.7 91.5h18.6M116.7 91.5h18.6M41.7 94.5h18.6M113.7 94.5h18.6M44.7 97.5h18.6M110.7 97.5h21.6M44.7 100.5h24.6M107.7 100.5h21.6M47.7 103.5h48.6M101.7 103.5h24.6M50.7 106.5h75.6M50.7 109.5h72.6M56.7 112.5h63.6M59.7 115.5h54.6M92.7 118.5h15.6"/>
<path stroke="#505050" d="M74.7 55.5h21.6M71.7 58.5h27.6M68.7 61.5h33.6M68.7 64.5h36.6M65.7 67.5h42.6M62.7 70.5h48.6M59.7 73.5h54.6M59.7 76.5h57.6M56.7 79.5h60.6M56.7 82.5h63.6M56.7 85.5h63.6M56.7 88.5h60.6M59.7 91.5h57.6M59.7 94.5h54.6M62.7 97.5h48.6M68.7 100.5h39.6M95.7 103.5h6.6"/></g>
</g></g>
</g>
</g></g>
<rect x="182.7" y="0" width="7.2" height="159.0" fill="url(#cb)"/>
<rect x="191" y="158.50" width="2.5" height="1" fill="#3a3a3a"/><text class="t" x="196" y="161.90">0.00</text>
<rect x="191" y="142.42" width="2.5" height="1" fill="#3a3a3a"/><text class="t" x="196" y="145.82">0.11</text>
<rect x="191" y="126.34" width="2.5" height="1" fill="#3a3a3a"/><text class="t" x="196" y="129.74">0.22</text>
<rect x="191" y="110.26" width="2.5" height="1" fill="#3a3a3a"/><text class="t" x="196" y="113.66">0.33</text>
<rect x="191" y="94.18" width="2.5" height="1" fill="#3a3a3a"/><text class="t" x="196" y="97.58">0.44</text>
<rect x="191" y="78.09" width="2.5" height="1" fill="#3a3a3a"/><text class="t" x="196" y="81.49">0.55</text>
<rect x="191" y="62.01" width="2.5" height="1" fill="#3a3a3a"/><text class="t" x="196" y="65.41">0.67</text>
<rect x="191" y="45.93" width="2.5" height="1" fill="#3a3a3a"/><text class="t" x="196" y="49.33">0.78</text>
<rect x="191" y="29.85" width="2.5" height="1" fill="#3a3a3a"/><text class="t" x="196" y="33.25">0.89</text>
<rect x="191" y="13.77" width="2.5" height="1" fill="#3a3a3a"/><text class="t" x="196" y="17.17">1.00</text>
</g>
<g transform="translate(500.0,9.3)">
<g clip-path="url(#cp)"><g transform="translate(-0,-0.3)">
<g filter="url(#cm_c)">
<rect x="-12" y="-12" width="195" height="183" fill="#404040"/>
<clipPath id="o_c"><path d="M154.9 77.3L156 81.9L156.7 86.7L156.8 91.5L156.4 96.3L155.4 101L154 105.7L152.3 110.2L150.1 114.6L147.5 118.7L144.4 122.5L140.9 125.8L136.9 128.7L132.7 131.2L128.3 133.1L123.8 134.6L119.2 135.6L114.6 136.4L110.2 136.9L105.9 137.3L101.6 137.5L97.5 137.8L93.5 138L89.5 138.1L85.5 138.2L81.5 138.3L77.5 138.2L73.4 138.2L69.2 138L65 137.7L60.7 137.2L56.3 136.6L51.8 135.7L47.3 134.5L42.9 132.8L38.8 130.6L34.9 127.9L31.3 124.8L28.1 121.3L25.4 117.4L23.2 113.3L21.3 108.9L19.9 104.5L18.8 99.9L18.1 95.4L17.8 90.8L17.9 86.2L18.4 81.7L19.4 77.3L20.7 73.1L22.3 69L24 65.1L26 61.4L28.1 57.8L30.2 54.4L32.5 51.1L34.7 48L37 44.9L39.4 41.9L41.8 39L44.3 36.1L46.9 33.3L49.6 30.6L52.5 27.9L55.5 25.4L58.7 23L62.1 20.9L65.7 19.1L69.5 17.5L73.4 16.3L77.3 15.3L81.4 14.8L85.5 14.5L89.6 14.6L93.7 15L97.8 15.7L101.7 16.7L105.6 18L109.4 19.5L113.1 21.4L116.6 23.4L120 25.7L123.2 28.1L126.3 30.7L129.3 33.5L132 36.5L134.7 39.6L137.2 42.8L139.5 46.1L141.8 49.5L144 53.1L146.1 56.7L148.1 60.5L150 64.5L151.8 68.6L153.4 72.8Z"/></clipPath>
<g clip-path="url(#o_c)"><g filter="url(#cellblur)">
<g fill="none" stroke-width="3.6"><rect x="-11" y="-11" width="196" height="184" stroke="none" fill="#2c2c2c"/>
<path stroke="#303030" d="M41.7 28.5h3.6M71.7 28.5h30.6M125.7 28.5h9.6M38.7 31.5h18.6M59.7 31.5h18.6M95.7 31.5h36.6M47.7 34.5h21.6M107.7 34.5h15.6M11.7 85.5h6.6M152.7 85.5h12.6M11.7 88.5h15.6M146.7 88.5h12.6M20.7 91.5h9.6M143.7 91.5h6.6M29.7 100.5h3.6M140.7 100.5h3.6M32.7 106.5h3.6M137.7 106.5h3.6M35.7 112.5h3.6M134.7 112.5h3.6M38.7 115.5h3.6M131.7 115.5h3.6M41.7 118.5h3.6M128.7 118.5h3.6M122.7 121.5h3.6M50.7 124.5h3.6M116.7 124.5h3.6M50.7 127.5h6.6M113.7 127.5h6.6M50.7 130.5h6.6M113.7 130.5h6.6M50.7 133.5h6.6M113.7 133.5h6.6M50.7 136.5h6.6M113.7 136.5h6.6M50.7 139.5h6.6M113.7 139.5h6.6M50.7 142.5h6.6M113.7 142.5h6.6"/>
<path stroke="#343434" d="M77.7 31.5h18.6M131.7 31.5h6.6M41.7 34.5h6.6M68.7 34.5h6.6M98.7 34.5h9.6M122.7 34.5h9.6M50.7 37.5h15.6M107.7 37.5h12.6M11.7 82.5h3.6M155.7 82.5h6.6M17.7 85.5h6.6M146.7 85.5h6.6M26.7 88.5h3.6M143.7 88.5h3.6M29.7 94.5h3.6M29.7 97.5h3.6M140.7 97.5h3.6M125.7 118.5h3.6M47.7 121.5h3.6M53.7 124.5h3.6M113.7 124.5h3.6M56.7 127.5h3.6M110.7 127.5h3.6M56.7 130.5h3.6M110.7 130.5h3.6M56.7 133.5h3.6M110.7 133.5h3.6M56.7 136.5h3.6M110.7 136.5h3.6M56.7 139.5h3.6M110.7 139.5h3.6M56.7 142.5h3.6M110.7 142.5h3.6"/>
<path stroke="#383838" d="M35.7 34.5h6.6M74.7 34.5h9.6M89.7 34.5h9.6M131.7 34.5h3.6M44.7 37.5h6.6M65.7 37.5h6.6M101.7 37.5h6.6M119.7 37.5h6.6M53.7 40.5h9.6M158.7 79.5h3.6M14.7 82.5h6.6M149.7 82.5h6.6M23.7 85.5h6.6M143.7 85.5h3.6M29.7 91.5h3.6M140.7 94.5h3.6M32.7 103.5h3.6M137.7 103.5h3.6M35.7 109.5h3.6M134.7 109.5h3.6M131.7 112.5h3.6M128.7 115.5h3.6M44.7 118.5h3.6M50.7 121.5h3.6M119.7 121.5h3.6M56.7 124.5h3.6"/>
<path stroke="#3c3c3c" d="M83.7 34.5h6.6M134.7 34.5h6.6M38.7 37.5h6.6M71.7 37.5h3.6M98.7 37.5h3.6M125.7 37.5h6.6M47.7 40.5h6.6M62.7 40.5h6.6M107.7 40.5h15.6M11.7 79.5h6.6M155.7 79.5h3.6M20.7 82.5h3.6M146.7 82.5h3.6M29.7 88.5h3.6M140.7 91.5h3.6M32.7 100.5h3.6M137.7 100.5h3.6M35.7 106.5h3.6M134.7 106.5h3.6M38.7 112.5h3.6M41.7 115.5h3.6M122.7 118.5h3.6M116.7 121.5h3.6M110.7 124.5h3.6M59.7 127.5h3.6M59.7 130.5h3.6M59.7 133.5h3.6M59.7 136.5h3.6M59.7 139.5h3.6M59.7 142.5h3.6"/>
<path stroke="#404040" d="M35.7 37.5h3.6M74.7 37.5h3.6M92.7 37.5h6.6M131.7 37.5h3.6M44.7 40.5h3.6M68.7 40.5h3.6M104.7 40.5h3.6M122.7 40.5h3.6M56.7 43.5h6.6M158.7 76.5h3.6M17.7 79.5h3.6M152.7 79.5h3.6M23.7 82.5h3.6M143.7 82.5h3.6M140.7 88.5h3.6M32.7 97.5h3.6M137.7 97.5h3.6M131.7 109.5h3.6M125.7 115.5h3.6M47.7 118.5h3.6M53.7 121.5h3.6M113.7 121.5h3.6M59.7 124.5h3.6M107.7 127.5h3.6M107.7 130.5h3.6M107.7 133.5h3.6M107.7 136.5h3.6M107.7 139.5h3.6M107.7 142.5h3.6"/>
<path stroke="#444444" d="M32.7 37.5h3.6M77.7 37.5h15.6M134.7 37.5h3.6M41.7 40.5h3.6M101.7 40.5h3.6M125.7 40.5h3.6M50.7 43.5h6.6M62.7 43.5h3.6M11.7 76.5h3.6M155.7 76.5h3.6M20.7 79.5h3.6M149.7 79.5h3.6M26.7 82.5h3.6M29.7 85.5h3.6M140.7 85.5h3.6M32.7 94.5h3.6M137.7 94.5h3.6M35.7 103.5h3.6M134.7 103.5h3.6M38.7 109.5h3.6M41.7 112.5h3.6M128.7 112.5h3.6M44.7 115.5h3.6M50.7 118.5h3.6M119.7 118.5h3.6M107.7 124.5h3.6"/>
<path stroke="#484848" d="M137.7 37.5h3.6M38.7 40.5h3.6M71.7 40.5h3.6M98.7 40.5h3.6M128.7 40.5h3.6M47.7 43.5h3.6M65.7 43.5h3.6M107.7 43.5h12.6M14.7 76.5h3.6M146.7 79.5h3.6M32.7 91.5h3.6M137.7 91.5h3.6M35.7 100.5h3.6M134.7 100.5h3.6M38.7 106.5h3.6M131.7 106.5h3.6M122.7 115.5h3.6M116.7 118.5h3.6M56.7 121.5h3.6M110.7 121.5h3.6M62.7 127.5h3.6M62.7 130.5h3.6M62.7 133.5h3.6M62.7 136.5h3.6M62.7 139.5h3.6M62.7 142.5h3.6"/>
<path stroke="#4c4c4c" d="M74.7 40.5h3.6M95.7 40.5h3.6M131.7 40.5h3.6M104.7 43.5h3.6M119.7 43.5h6.6M152.7 76.5h3.6M23.7 79.5h3.6M143.7 79.5h3.6M29.7 82.5h3.6M140.7 82.5h3.6M32.7 88.5h3.6M137.7 88.5h3.6M35.7 97.5h3.6M134.7 97.5h3.6M38.7 103.5h3.6M131.7 103.5h3.6M41.7 109.5h3.6M128.7 109.5h3.6M44.7 112.5h3.6M125.7 112.5h3.6M47.7 115.5h3.6M119.7 115.5h3.6M53.7 118.5h3.6M113.7 118.5h3.6M104.7 127.5h3.6M104.7 130.5h3.6M104.7 133.5h3.6M104.7 136.5h3.6M104.7 139.5h3.6M104.7 142.5h3.6"/>
<path stroke="#505050" d="M140.7 37.5h3.6M35.7 40.5h3.6M77.7 40.5h3.6M92.7 40.5h3.6M44.7 43.5h3.6M68.7 43.5h3.6M101.7 43.5h3.6M56.7 46.5h9.6M158.7 73.5h3.6M17.7 76.5h3.6M149.7 76.5h3.6M26.7 79.5h3.6M32.7 85.5h3.6M137.7 85.5h3.6M35.7 94.5h3.6M134.7 94.5h3.6M41.7 106.5h3.6M128.7 106.5h3.6M122.7 112.5h3.6M50.7 115.5h3.6M56.7 118.5h3.6M59.7 121.5h3.6M107.7 121.5h3.6M62.7 124.5h3.6M104.7 124.5h3.6"/>
<path stroke="#545454" d="M32.7 40.5h3.6M80.7 40.5h12.6M134.7 40.5h3.6M41.7 43.5h3.6M71.7 43.5h3.6M125.7 43.5h3.6M50.7 46.5h6.6M11.7 73.5h3.6M155.7 73.5h3.6M20.7 76.5h3.6M146.7 76.5h3.6M140.7 79.5h3.6M35.7 91.5h3.6M134.7 91.5h3.6M38.7 100.5h3.6M131.7 100.5h3.6M44.7 109.5h3.6M125.7 109.5h3.6M47.7 112.5h3.6M116.7 115.5h3.6M110.7 118.5h3.6"/>
<path stroke="#585858" d="M137.7 40.5h3.6M38.7 43.5h3.6M98.7 43.5h3.6M128.7 43.5h3.6M47.7 46.5h3.6M65.7 46.5h3.6M107.7 46.5h9.6M14.7 73.5h3.6M29.7 79.5h3.6M137.7 82.5h3.6M35.7 88.5h3.6M134.7 88.5h3.6M38.7 94.5h3.6M38.7 97.5h3.6M131.7 97.5h3.6M41.7 103.5h3.6M128.7 103.5h3.6M125.7 106.5h3.6M122.7 109.5h3.6M50.7 112.5h3.6M119.7 112.5h3.6M53.7 115.5h3.6M113.7 115.5h3.6M59.7 118.5h3.6M62.7 121.5h3.6M65.7 127.5h3.6M65.7 130.5h3.6M65.7 133.5h3.6M65.7 136.5h3.6M65.7 139.5h3.6M65.7 142.5h3.6"/>
<path stroke="#5c5c5c" d="M29.7 40.5h3.6M74.7 43.5h3.6M95.7 43.5h3.6M104.7 46.5h3.6M116.7 46.5h6.6M152.7 73.5h3.6M23.7 76.5h3.6M143.7 76.5h3.6M32.7 82.5h3.6M134.7 85.5h3.6M38.7 91.5h3.6M131.7 94.5h3.6M41.7 100.5h3.6M128.7 100.5h3.6M44.7 106.5h3.6M47.7 109.5h3.6M116.7 112.5h3.6M56.7 115.5h3.6M110.7 115.5h3.6M107.7 118.5h3.6M104.7 121.5h3.6M101.7 127.5h3.6M101.7 130.5h3.6M101.7 133.5h3.6M101.7 136.5h3.6M101.7 139.5h3.6M101.7 142.5h3.6"/>
<path stroke="#606060" d="M140.7 40.5h3.6M35.7 43.5h3.6M131.7 43.5h3.6M44.7 46.5h3.6M68.7 46.5h3.6M101.7 46.5h3.6M122.7 46.5h3.6M59.7 49.5h3.6M17.7 73.5h3.6M149.7 73.5h3.6M26.7 76.5h3.6M35.7 85.5h3.6M131.7 91.5h3.6M41.7 97.5h3.6M128.7 97.5h3.6M44.7 103.5h3.6M125.7 103.5h3.6M47.7 106.5h3.6M122.7 106.5h3.6M50.7 109.5h3.6M119.7 109.5h3.6M53.7 112.5h3.6M113.7 112.5h3.6M65.7 124.5h3.6M101.7 124.5h3.6"/>
<path stroke="#646464" d="M77.7 43.5h3.6M92.7 43.5h3.6M134.7 43.5h3.6M41.7 46.5h3.6M125.7 46.5h3.6M53.7 49.5h6.6M62.7 49.5h3.6M140.7 76.5h3.6M137.7 79.5h3.6M134.7 82.5h3.6M38.7 88.5h3.6M131.7 88.5h3.6M41.7 94.5h3.6M128.7 94.5h3.6M44.7 100.5h3.6M125.7 100.5h3.6M122.7 103.5h3.6M119.7 106.5h3.6M116.7 109.5h3.6M56.7 112.5h3.6M59.7 115.5h3.6M107.7 115.5h3.6M62.7 118.5h3.6M104.7 118.5h3.6"/>
<path stroke="#686868" d="M32.7 43.5h3.6M80.7 43.5h12.6M71.7 46.5h3.6M98.7 46.5h3.6M50.7 49.5h3.6M65.7 49.5h3.6M155.7 70.5h3.6M20.7 73.5h3.6M146.7 73.5h3.6M29.7 76.5h3.6M32.7 79.5h3.6M35.7 82.5h3.6M38.7 85.5h3.6M131.7 85.5h3.6M41.7 91.5h3.6M128.7 91.5h3.6M44.7 97.5h3.6M125.7 97.5h3.6M47.7 103.5h3.6M50.7 106.5h3.6M53.7 109.5h3.6M113.7 109.5h3.6M110.7 112.5h3.6M65.7 121.5h3.6M101.7 121.5h3.6"/>
<path stroke="#6c6c6c" d="M29.7 43.5h3.6M137.7 43.5h3.6M38.7 46.5h3.6M128.7 46.5h3.6M47.7 49.5h3.6M107.7 49.5h9.6M14.7 70.5h3.6M152.7 70.5h3.6M23.7 73.5h3.6M41.7 88.5h3.6M128.7 88.5h3.6M44.7 94.5h3.6M125.7 94.5h3.6M47.7 100.5h3.6M122.7 100.5h3.6M50.7 103.5h3.6M119.7 103.5h3.6M53.7 106.5h3.6M116.7 106.5h3.6M56.7 109.5h3.6M59.7 112.5h3.6M107.7 112.5h3.6M62.7 115.5h3.6M104.7 115.5h3.6M68.7 127.5h3.6M68.7 130.5h3.6M68.7 133.5h3.6M68.7 136.5h3.6M68.7 139.5h3.6M68.7 142.5h3.6"/>
<path stroke="#707070" d="M74.7 46.5h3.6M95.7 46.5h3.6M131.7 46.5h3.6M44.7 49.5h3.6M68.7 49.5h3.6M104.7 49.5h3.6M116.7 49.5h6.6M143.7 73.5h3.6M137.7 76.5h3.6M134.7 79.5h3.6M131.7 82.5h3.6M44.7 91.5h3.6M125.7 91.5h3.6M47.7 97.5h3.6M122.7 97.5h3.6M50.7 100.5h3.6M119.7 100.5h3.6M116.7 103.5h3.6M113.7 106.5h3.6M59.7 109.5h3.6M110.7 109.5h3.6M65.7 118.5h3.6M101.7 118.5h3.6M68.7 124.5h3.6M98.7 127.5h3.6M98.7 130.5h3.6M98.7 133.5h3.6M98.7 136.5h3.6M98.7 139.5h3.6M98.7 142.5h3.6"/>
<path stroke="#747474" d="M140.7 43.5h3.6M35.7 46.5h3.6M92.7 46.5h3.6M101.7 49.5h3.6M122.7 49.5h3.6M59.7 52.5h6.6M17.7 70.5h3.6M149.7 70.5h3.6M26.7 73.5h3.6M140.7 73.5h3.6M32.7 76.5h3.6M35.7 79.5h3.6M38.7 82.5h3.6M41.7 85.5h3.6M128.7 85.5h3.6M44.7 88.5h3.6M125.7 88.5h3.6M47.7 94.5h3.6M122.7 94.5h3.6M50.7 97.5h3.6M119.7 97.5h3.6M116.7 100.5h3.6M53.7 103.5h3.6M113.7 103.5h3.6M56.7 106.5h3.6M110.7 106.5h3.6M107.7 109.5h3.6M62.7 112.5h3.6M104.7 112.5h3.6M65.7 115.5h3.6M98.7 124.5h3.6"/>
<path stroke="#787878" d="M143.7 43.5h3.6M32.7 46.5h3.6M77.7 46.5h3.6M89.7 46.5h3.6M134.7 46.5h3.6M41.7 49.5h3.6M125.7 49.5h3.6M53.7 52.5h6.6M155.7 67.5h3.6M20.7 70.5h3.6M131.7 79.5h3.6M128.7 82.5h3.6M47.7 91.5h3.6M122.7 91.5h3.6M50.7 94.5h3.6M119.7 94.5h3.6M116.7 97.5h3.6M53.7 100.5h3.6M56.7 103.5h3.6M59.7 106.5h3.6M107.7 106.5h3.6M62.7 109.5h3.6M101.7 115.5h3.6M68.7 121.5h3.6M98.7 121.5h3.6"/>
<path stroke="#7c7c7c" d="M80.7 46.5h9.6M137.7 46.5h3.6M38.7 49.5h3.6M71.7 49.5h3.6M98.7 49.5h3.6M128.7 49.5h3.6M50.7 52.5h3.6M65.7 52.5h3.6M110.7 52.5h3.6M14.7 67.5h3.6M146.7 70.5h3.6M29.7 73.5h3.6M134.7 76.5h3.6M38.7 79.5h3.6M41.7 82.5h3.6M44.7 85.5h3.6M125.7 85.5h3.6M47.7 88.5h3.6M122.7 88.5h3.6M50.7 91.5h3.6M119.7 91.5h3.6M53.7 97.5h3.6M56.7 100.5h3.6M113.7 100.5h3.6M59.7 103.5h3.6M110.7 103.5h3.6M104.7 109.5h3.6M65.7 112.5h3.6M101.7 112.5h3.6M68.7 118.5h3.6"/>
<path stroke="#808080" d="M29.7 46.5h3.6M47.7 52.5h3.6M104.7 52.5h6.6M113.7 52.5h6.6M152.7 67.5h3.6M23.7 70.5h3.6M143.7 70.5h3.6M137.7 73.5h3.6M35.7 76.5h3.6M53.7 94.5h3.6M116.7 94.5h3.6M56.7 97.5h3.6M113.7 97.5h3.6M59.7 100.5h3.6M110.7 100.5h3.6M107.7 103.5h3.6M62.7 106.5h3.6M104.7 106.5h3.6M65.7 109.5h3.6M68.7 115.5h3.6M98.7 118.5h3.6M71.7 124.5h3.6M71.7 127.5h3.6M71.7 130.5h3.6M71.7 133.5h3.6M71.7 136.5h3.6M71.7 139.5h3.6M71.7 142.5h3.6M71.7 145.5h3.6"/>
<path stroke="#838383" d="M26.7 46.5h3.6M140.7 46.5h3.6M35.7 49.5h3.6M74.7 49.5h3.6M95.7 49.5h3.6M131.7 49.5h3.6M44.7 52.5h3.6M68.7 52.5h3.6M119.7 52.5h3.6M17.7 67.5h3.6M149.7 67.5h3.6M26.7 70.5h3.6M140.7 70.5h3.6M32.7 73.5h3.6M131.7 76.5h3.6M41.7 79.5h3.6M128.7 79.5h3.6M44.7 82.5h3.6M125.7 82.5h3.6M47.7 85.5h3.6M122.7 85.5h3.6M50.7 88.5h3.6M119.7 88.5h3.6M53.7 91.5h3.6M116.7 91.5h3.6M56.7 94.5h3.6M113.7 94.5h3.6M59.7 97.5h3.6M110.7 97.5h3.6M107.7 100.5h3.6M62.7 103.5h3.6M104.7 103.5h3.6M65.7 106.5h3.6M101.7 109.5h3.6M68.7 112.5h3.6M98.7 115.5h3.6M71.7 121.5h3.6M95.7 124.5h3.6M95.7 127.5h3.6M95.7 130.5h3.6M95.7 133.5h3.6M95.7 136.5h3.6M95.7 139.5h3.6M95.7 142.5h3.6"/>
<path stroke="#878787" d="M143.7 46.5h3.6M32.7 49.5h3.6M77.7 49.5h3.6M92.7 49.5h3.6M134.7 49.5h3.6M41.7 52.5h3.6M71.7 52.5h3.6M101.7 52.5h3.6M122.7 52.5h6.6M56.7 55.5h9.6M155.7 64.5h3.6M20.7 67.5h3.6M146.7 67.5h3.6M29.7 70.5h3.6M134.7 73.5h3.6M38.7 76.5h3.6M122.7 82.5h3.6M50.7 85.5h3.6M119.7 85.5h3.6M53.7 88.5h3.6M116.7 88.5h3.6M56.7 91.5h3.6M113.7 91.5h3.6M59.7 94.5h3.6M110.7 94.5h3.6M107.7 97.5h3.6M62.7 100.5h3.6M104.7 100.5h3.6M65.7 103.5h3.6M101.7 106.5h3.6M68.7 109.5h3.6M98.7 112.5h3.6M71.7 118.5h3.6M95.7 121.5h3.6"/>
<path stroke="#8b8b8b" d="M146.7 46.5h3.6M29.7 49.5h3.6M80.7 49.5h12.6M137.7 49.5h3.6M38.7 52.5h3.6M98.7 52.5h3.6M128.7 52.5h3.6M50.7 55.5h6.6M65.7 55.5h3.6M107.7 55.5h6.6M14.7 64.5h3.6M152.7 64.5h3.6M23.7 67.5h3.6M143.7 67.5h3.6M32.7 70.5h3.6M137.7 70.5h3.6M35.7 73.5h3.6M128.7 76.5h3.6M44.7 79.5h3.6M125.7 79.5h3.6M47.7 82.5h3.6M116.7 85.5h3.6M113.7 88.5h3.6M59.7 91.5h3.6M110.7 91.5h3.6M62.7 94.5h3.6M107.7 94.5h3.6M62.7 97.5h3.6M104.7 97.5h3.6M65.7 100.5h3.6M101.7 103.5h3.6M68.7 106.5h3.6M98.7 109.5h3.6M71.7 115.5h3.6M95.7 118.5h3.6M74.7 127.5h3.6M74.7 130.5h3.6M74.7 133.5h3.6M74.7 136.5h3.6M74.7 139.5h3.6M74.7 142.5h3.6M74.7 145.5h3.6"/>
<path stroke="#8f8f8f" d="M26.7 49.5h3.6M140.7 49.5h3.6M35.7 52.5h3.6M74.7 52.5h3.6M95.7 52.5h3.6M131.7 52.5h3.6M44.7 55.5h6.6M68.7 55.5h3.6M104.7 55.5h3.6M113.7 55.5h9.6M17.7 64.5h3.6M149.7 64.5h3.6M26.7 67.5h3.6M140.7 67.5h3.6M134.7 70.5h3.6M38.7 73.5h3.6M131.7 73.5h3.6M41.7 76.5h3.6M125.7 76.5h3.6M47.7 79.5h3.6M122.7 79.5h3.6M50.7 82.5h3.6M119.7 82.5h3.6M53.7 85.5h3.6M56.7 88.5h3.6M110.7 88.5h3.6M62.7 91.5h3.6M107.7 91.5h3.6M104.7 94.5h3.6M65.7 97.5h3.6M101.7 97.5h3.6M101.7 100.5h3.6M68.7 103.5h3.6M98.7 103.5h3.6M98.7 106.5h3.6M71.7 112.5h3.6M95.7 112.5h3.6M95.7 115.5h3.6M74.7 121.5h3.6M74.7 124.5h3.6M92.7 124.5h3.6M92.7 127.5h3.6M92.7 130.5h3.6M92.7 133.5h3.6M92.7 136.5h3.6M92.7 139.5h3.6M92.7 142.5h3.6"/>
<path stroke="#939393" d="M23.7 49.5h3.6M143.7 49.5h3.6M32.7 52.5h3.6M77.7 52.5h3.6M92.7 52.5h3.6M134.7 52.5h6.6M38.7 55.5h6.6M71.7 55.5h3.6M101.7 55.5h3.6M122.7 55.5h9.6M53.7 58.5h15.6M20.7 64.5h3.6M146.7 64.5h3.6M29.7 67.5h3.6M137.7 67.5h3.6M35.7 70.5h3.6M41.7 73.5h3.6M128.7 73.5h3.6M44.7 76.5h3.6M119.7 79.5h3.6M53.7 82.5h3.6M116.7 82.5h3.6M56.7 85.5h3.6M113.7 85.5h3.6M59.7 88.5h6.6M107.7 88.5h3.6M65.7 91.5h3.6M104.7 91.5h3.6M65.7 94.5h3.6M101.7 94.5h3.6M68.7 97.5h3.6M68.7 100.5h3.6M98.7 100.5h3.6M71.7 106.5h3.6M95.7 106.5h3.6M71.7 109.5h3.6M95.7 109.5h3.6M74.7 115.5h3.6M74.7 118.5h3.6M92.7 118.5h3.6M92.7 121.5h3.6"/>
<path stroke="#979797" d="M146.7 49.5h3.6M26.7 52.5h6.6M80.7 52.5h12.6M140.7 52.5h3.6M35.7 55.5h3.6M74.7 55.5h3.6M95.7 55.5h6.6M131.7 55.5h3.6M44.7 58.5h9.6M68.7 58.5h3.6M101.7 58.5h21.6M17.7 61.5h3.6M149.7 61.5h6.6M23.7 64.5h6.6M140.7 64.5h6.6M32.7 67.5h6.6M134.7 67.5h3.6M38.7 70.5h3.6M128.7 70.5h6.6M44.7 73.5h3.6M125.7 73.5h3.6M47.7 76.5h3.6M119.7 76.5h6.6M50.7 79.5h6.6M116.7 79.5h3.6M56.7 82.5h3.6M113.7 82.5h3.6M59.7 85.5h3.6M107.7 85.5h6.6M65.7 88.5h3.6M104.7 88.5h3.6M68.7 91.5h3.6M101.7 91.5h3.6M68.7 94.5h3.6M98.7 94.5h3.6M98.7 97.5h3.6M71.7 100.5h3.6M95.7 100.5h3.6M71.7 103.5h3.6M95.7 103.5h3.6M74.7 109.5h3.6M74.7 112.5h3.6M92.7 112.5h3.6M92.7 115.5h3.6M77.7 121.5h3.6M77.7 124.5h3.6M89.7 124.5h3.6M77.7 127.5h3.6M89.7 127.5h3.6M77.7 130.5h3.6M89.7 130.5h3.6M77.7 133.5h3.6M89.7 133.5h3.6M77.7 136.5h3.6M89.7 136.5h3.6M77.7 139.5h3.6M89.7 139.5h3.6M77.7 142.5h3.6M89.7 142.5h3.6M77.7 145.5h3.6M89.7 145.5h3.6"/>
<path stroke="#9b9b9b" d="M23.7 52.5h3.6M143.7 52.5h9.6M26.7 55.5h9.6M77.7 55.5h18.6M134.7 55.5h9.6M17.7 58.5h3.6M35.7 58.5h9.6M71.7 58.5h3.6M98.7 58.5h3.6M122.7 58.5h12.6M149.7 58.5h6.6M20.7 61.5h9.6M47.7 61.5h21.6M101.7 61.5h15.6M140.7 61.5h9.6M29.7 64.5h9.6M134.7 64.5h6.6M38.7 67.5h3.6M128.7 67.5h6.6M41.7 70.5h6.6M125.7 70.5h3.6M47.7 73.5h3.6M119.7 73.5h6.6M50.7 76.5h6.6M116.7 76.5h3.6M56.7 79.5h3.6M110.7 79.5h6.6M59.7 82.5h6.6M107.7 82.5h6.6M62.7 85.5h6.6M101.7 85.5h6.6M68.7 88.5h6.6M98.7 88.5h6.6M71.7 91.5h3.6M95.7 91.5h6.6M71.7 94.5h3.6M95.7 94.5h3.6M71.7 97.5h6.6M95.7 97.5h3.6M74.7 100.5h3.6M92.7 100.5h3.6M74.7 103.5h3.6M92.7 103.5h3.6M74.7 106.5h3.6M92.7 106.5h3.6M77.7 109.5h3.6M92.7 109.5h3.6M77.7 112.5h3.6M89.7 112.5h3.6M77.7 115.5h3.6M89.7 115.5h3.6M77.7 118.5h3.6M89.7 118.5h3.6M89.7 121.5h3.6M80.7 124.5h3.6M80.7 127.5h3.6M86.7 127.5h3.6M80.7 130.5h3.6M86.7 130.5h3.6M80.7 133.5h3.6M86.7 133.5h3.6M80.7 136.5h3.6M86.7 136.5h3.6M80.7 139.5h3.6M86.7 139.5h3.6M80.7 142.5h3.6M86.7 142.5h3.6M80.7 145.5h3.6M86.7 145.5h3.6"/>
<path stroke="#9f9f9f" d="M20.7 55.5h6.6M143.7 55.5h9.6M20.7 58.5h15.6M74.7 58.5h24.6M134.7 58.5h15.6M29.7 61.5h18.6M68.7 61.5h9.6M95.7 61.5h6.6M116.7 61.5h24.6M38.7 64.5h33.6M95.7 64.5h39.6M41.7 67.5h30.6M95.7 67.5h18.6M116.7 67.5h12.6M47.7 70.5h9.6M113.7 70.5h12.6M50.7 73.5h12.6M110.7 73.5h9.6M56.7 76.5h9.6M104.7 76.5h12.6M59.7 79.5h12.6M101.7 79.5h9.6M65.7 82.5h9.6M95.7 82.5h12.6M68.7 85.5h9.6M92.7 85.5h9.6M74.7 88.5h6.6M89.7 88.5h9.6M74.7 91.5h6.6M89.7 91.5h6.6M74.7 94.5h6.6M89.7 94.5h6.6M77.7 97.5h6.6M89.7 97.5h6.6M77.7 100.5h6.6M86.7 100.5h6.6M77.7 103.5h6.6M86.7 103.5h6.6M77.7 106.5h6.6M86.7 106.5h6.6M80.7 109.5h12.6M80.7 112.5h9.6M80.7 115.5h9.6M80.7 118.5h9.6M80.7 121.5h9.6M83.7 124.5h6.6M83.7 127.5h3.6M83.7 130.5h3.6M83.7 133.5h3.6M83.7 136.5h3.6M83.7 139.5h3.6M83.7 142.5h3.6M83.7 145.5h3.6"/>
<path stroke="#a3a3a3" d="M77.7 61.5h18.6M71.7 64.5h24.6M71.7 67.5h24.6M113.7 67.5h3.6M56.7 70.5h57.6M62.7 73.5h48.6M65.7 76.5h39.6M71.7 79.5h30.6M74.7 82.5h21.6M77.7 85.5h15.6M80.7 88.5h9.6M80.7 91.5h9.6M80.7 94.5h9.6M83.7 97.5h6.6M83.7 100.5h3.6M83.7 103.5h3.6M83.7 106.5h3.6"/></g>
</g></g>
<path d="M154.9 77.3L156 81.9L156.7 86.7L156.8 91.5L156.4 96.3L155.4 101L154 105.7L152.3 110.2L150.1 114.6L147.5 118.7L144.4 122.5L140.9 125.8L136.9 128.7L132.7 131.2L128.3 133.1L123.8 134.6L119.2 135.6L114.6 136.4L110.2 136.9L105.9 137.3L101.6 137.5L97.5 137.8L93.5 138L89.5 138.1L85.5 138.2L81.5 138.3L77.5 138.2L73.4 138.2L69.2 138L65 137.7L60.7 137.2L56.3 136.6L51.8 135.7L47.3 134.5L42.9 132.8L38.8 130.6L34.9 127.9L31.3 124.8L28.1 121.3L25.4 117.4L23.2 113.3L21.3 108.9L19.9 104.5L18.8 99.9L18.1 95.4L17.8 90.8L17.9 86.2L18.4 81.7L19.4 77.3L20.7 73.1L22.3 69L24 65.1L26 61.4L28.1 57.8L30.2 54.4L32.5 51.1L34.7 48L37 44.9L39.4 41.9L41.8 39L44.3 36.1L46.9 33.3L49.6 30.6L52.5 27.9L55.5 25.4L58.7 23L62.1 20.9L65.7 19.1L69.5 17.5L73.4 16.3L77.3 15.3L81.4 14.8L85.5 14.5L89.6 14.6L93.7 15L97.8 15.7L101.7 16.7L105.6 18L109.4 19.5L113.1 21.4L116.6 23.4L120 25.7L123.2 28.1L126.3 30.7L129.3 33.5L132 36.5L134.7 39.6L137.2 42.8L139.5 46.1L141.8 49.5L144 53.1L146.1 56.7L148.1 60.5L150 64.5L151.8 68.6L153.4 72.8Z" fill="none" stroke="#575757" stroke-width="2.2"/>
</g>
</g></g>
<rect x="182.7" y="0" width="7.2" height="159.0" fill="url(#cb)"/>
<rect x="191" y="158.50" width="2.5" height="1" fill="#3a3a3a"/><text class="t" x="196" y="161.90">0.00</text>
<rect x="191" y="142.42" width="2.5" height="1" fill="#3a3a3a"/><text class="t" x="196" y="145.82">0.11</text>
<rect x="191" y="126.34" width="2.5" height="1" fill="#3a3a3a"/><text class="t" x="196" y="129.74">0.22</text>
<rect x="191" y="110.26" width="2.5" height="1" fill="#3a3a3a"/><text class="t" x="196" y="113.66">0.33</text>
<rect x="191" y="94.18" width="2.5" height="1" fill="#3a3a3a"/><text class="t" x="196" y="97.58">0.44</text>
<rect x="191" y="78.09" width="2.5" height="1" fill="#3a3a3a"/><text class="t" x="196" y="81.49">0.55</text>
<rect x="191" y="62.01" width="2.5" height="1" fill="#3a3a3a"/><text class="t" x="196" y="65.41">0.67</text>
<rect x="191" y="45.93" width="2.5" height="1" fill="#3a3a3a"/><text class="t" x="196" y="49.33">0.78</text>
<rect x="191" y="29.85" width="2.5" height="1" fill="#3a3a3a"/><text class="t" x="196" y="33.25">0.89</text>
<rect x="191" y="13.77" width="2.5" height="1" fill="#3a3a3a"/><text class="t" x="196" y="17.17">1.00</text>
</g>
<text class="c" x="16.3" y="207.1">(a)</text><text class="c" x="41.7" y="207.1" textLength="152.6" lengthAdjust="spacing">Total Uncertainty - KL</text>
<text class="c" x="262.0" y="207.1">(b)</text><text class="c" x="288.4" y="207.1" textLength="150.6" lengthAdjust="spacing">Data Uncertainty - KL</text>
<text class="c" x="498.3" y="207.1">(c)</text><text class="c" x="523.7" y="207.1" textLength="168.6" lengthAdjust="spacing">Mutual Information - KL</text>
<g transform="translate(10.0,238.5)">
<g clip-path="url(#cp)"><g transform="translate(-0,-0.5)">
<g filter="url(#cm)"><g fill="none" stroke-width="3.6"><rect x="-11" y="-11" width="196" height="184" stroke="none" fill="#ffffff"/>
<path stroke="#080808" d="M77.7 22.5h18.6M71.7 25.5h27.6M74.7 28.5h21.6M146.7 82.5h3.6M20.7 85.5h6.6M140.7 85.5h9.6M20.7 88.5h12.6M137.7 88.5h12.6M20.7 91.5h15.6M131.7 91.5h18.6M20.7 94.5h18.6M128.7 94.5h18.6M20.7 97.5h21.6M125.7 97.5h21.6M23.7 100.5h21.6M125.7 100.5h21.6M23.7 103.5h21.6M122.7 103.5h24.6M23.7 106.5h24.6M122.7 106.5h21.6M26.7 109.5h21.6M119.7 109.5h24.6M29.7 112.5h18.6M119.7 112.5h21.6M29.7 115.5h18.6M119.7 115.5h18.6M32.7 118.5h18.6M119.7 118.5h15.6M38.7 121.5h12.6M119.7 121.5h9.6M44.7 124.5h3.6M119.7 124.5h3.6"/>
<path stroke="#0c0c0c" d="M80.7 19.5h12.6M71.7 22.5h6.6M95.7 22.5h6.6M68.7 25.5h3.6M98.7 25.5h6.6M68.7 28.5h6.6M95.7 28.5h6.6M74.7 31.5h18.6M146.7 79.5h3.6M17.7 82.5h9.6M140.7 82.5h6.6M149.7 82.5h3.6M17.7 85.5h3.6M26.7 85.5h3.6M137.7 85.5h3.6M17.7 88.5h3.6M32.7 88.5h3.6M131.7 88.5h6.6M17.7 91.5h3.6M35.7 91.5h3.6M128.7 91.5h3.6M38.7 94.5h3.6M125.7 94.5h3.6M146.7 94.5h3.6M41.7 97.5h3.6M122.7 97.5h3.6M146.7 97.5h3.6M20.7 100.5h3.6M122.7 100.5h3.6M146.7 100.5h3.6M20.7 103.5h3.6M44.7 103.5h3.6M119.7 103.5h3.6M119.7 106.5h3.6M143.7 106.5h3.6M23.7 109.5h3.6M47.7 109.5h3.6M116.7 109.5h3.6M26.7 112.5h3.6M47.7 112.5h3.6M116.7 112.5h3.6M140.7 112.5h3.6M26.7 115.5h3.6M47.7 115.5h3.6M116.7 115.5h3.6M137.7 115.5h3.6M29.7 118.5h3.6M116.7 118.5h3.6M134.7 118.5h3.6M35.7 121.5h3.6M116.7 121.5h3.6M128.7 121.5h3.6M38.7 124.5h6.6M47.7 124.5h3.6M116.7 124.5h3.6M122.7 124.5h6.6M47.7 127.5h3.6"/>
<path stroke="#101010" d="M77.7 19.5h3.6M92.7 19.5h6.6M68.7 22.5h3.6M101.7 22.5h3.6M65.7 25.5h3.6M65.7 28.5h3.6M101.7 28.5h3.6M68.7 31.5h6.6M92.7 31.5h6.6M77.7 34.5h12.6M17.7 79.5h6.6M143.7 79.5h3.6M149.7 79.5h3.6M26.7 82.5h3.6M137.7 82.5h3.6M29.7 85.5h3.6M134.7 85.5h3.6M149.7 85.5h3.6M35.7 88.5h3.6M128.7 88.5h3.6M149.7 88.5h3.6M38.7 91.5h3.6M125.7 91.5h3.6M149.7 91.5h3.6M17.7 94.5h3.6M41.7 94.5h3.6M122.7 94.5h3.6M149.7 94.5h3.6M17.7 97.5h3.6M44.7 97.5h3.6M44.7 100.5h3.6M119.7 100.5h3.6M47.7 103.5h3.6M116.7 103.5h3.6M146.7 103.5h3.6M20.7 106.5h3.6M47.7 106.5h3.6M116.7 106.5h3.6M143.7 109.5h3.6M23.7 112.5h3.6M50.7 112.5h3.6M50.7 115.5h3.6M113.7 115.5h3.6M50.7 118.5h3.6M113.7 118.5h3.6M32.7 121.5h3.6M50.7 121.5h3.6M113.7 121.5h3.6M131.7 121.5h3.6M35.7 124.5h3.6M50.7 124.5h3.6M113.7 124.5h3.6M128.7 124.5h3.6M44.7 127.5h3.6M50.7 127.5h3.6M116.7 127.5h9.6"/>
<path stroke="#141414" d="M74.7 19.5h3.6M98.7 19.5h3.6M104.7 25.5h3.6M104.7 28.5h3.6M65.7 31.5h3.6M98.7 31.5h3.6M71.7 34.5h6.6M89.7 34.5h6.6M17.7 76.5h3.6M143.7 76.5h9.6M23.7 79.5h3.6M140.7 79.5h3.6M29.7 82.5h3.6M134.7 82.5h3.6M32.7 85.5h3.6M131.7 85.5h3.6M41.7 91.5h3.6M119.7 97.5h3.6M149.7 97.5h3.6M17.7 100.5h3.6M47.7 100.5h3.6M116.7 100.5h3.6M17.7 103.5h3.6M50.7 106.5h3.6M146.7 106.5h3.6M20.7 109.5h3.6M50.7 109.5h3.6M113.7 109.5h3.6M113.7 112.5h3.6M143.7 112.5h3.6M23.7 115.5h3.6M140.7 115.5h3.6M26.7 118.5h3.6M137.7 118.5h3.6M29.7 121.5h3.6M134.7 121.5h3.6M41.7 127.5h3.6M113.7 127.5h3.6"/>
<path stroke="#181818" d="M83.7 16.5h9.6M71.7 19.5h3.6M104.7 22.5h3.6M62.7 25.5h3.6M107.7 25.5h3.6M62.7 28.5h3.6M62.7 31.5h3.6M101.7 31.5h3.6M68.7 34.5h3.6M95.7 34.5h3.6M77.7 37.5h12.6M20.7 76.5h6.6M14.7 79.5h3.6M26.7 79.5h3.6M137.7 79.5h3.6M14.7 82.5h3.6M32.7 82.5h3.6M14.7 85.5h3.6M35.7 85.5h3.6M128.7 85.5h3.6M14.7 88.5h3.6M38.7 88.5h3.6M125.7 88.5h3.6M14.7 91.5h3.6M122.7 91.5h3.6M44.7 94.5h3.6M119.7 94.5h3.6M47.7 97.5h3.6M116.7 97.5h3.6M149.7 100.5h3.6M50.7 103.5h3.6M113.7 103.5h3.6M113.7 106.5h3.6M53.7 112.5h3.6M53.7 115.5h3.6M110.7 115.5h3.6M53.7 118.5h3.6M110.7 118.5h3.6M53.7 121.5h3.6M110.7 121.5h3.6M32.7 124.5h3.6M53.7 124.5h3.6M110.7 124.5h3.6M131.7 124.5h3.6M38.7 127.5h3.6M53.7 127.5h3.6M110.7 127.5h3.6M125.7 127.5h3.6M47.7 130.5h6.6M113.7 130.5h6.6"/>
<path stroke="#1c1c1c" d="M80.7 16.5h3.6M92.7 16.5h3.6M101.7 19.5h3.6M65.7 22.5h3.6M107.7 28.5h3.6M104.7 31.5h3.6M65.7 34.5h3.6M98.7 34.5h3.6M71.7 37.5h6.6M89.7 37.5h6.6M17.7 73.5h6.6M143.7 73.5h9.6M14.7 76.5h3.6M140.7 76.5h3.6M29.7 79.5h3.6M134.7 79.5h3.6M152.7 79.5h3.6M131.7 82.5h3.6M152.7 82.5h3.6M38.7 85.5h3.6M152.7 85.5h3.6M41.7 88.5h3.6M122.7 88.5h3.6M152.7 88.5h3.6M44.7 91.5h3.6M119.7 91.5h3.6M14.7 94.5h3.6M47.7 94.5h3.6M50.7 100.5h3.6M113.7 100.5h3.6M149.7 103.5h3.6M17.7 106.5h3.6M53.7 106.5h3.6M53.7 109.5h3.6M110.7 109.5h3.6M146.7 109.5h3.6M20.7 112.5h3.6M110.7 112.5h3.6M44.7 130.5h3.6M53.7 130.5h3.6M119.7 130.5h3.6"/>
<path stroke="#202020" d="M77.7 16.5h3.6M107.7 22.5h3.6M59.7 28.5h3.6M110.7 28.5h3.6M59.7 31.5h3.6M107.7 31.5h3.6M62.7 34.5h3.6M101.7 34.5h3.6M68.7 37.5h3.6M95.7 37.5h3.6M77.7 40.5h12.6M26.7 76.5h3.6M137.7 76.5h3.6M152.7 76.5h3.6M32.7 79.5h3.6M35.7 82.5h3.6M128.7 82.5h3.6M125.7 85.5h3.6M152.7 91.5h3.6M116.7 94.5h3.6M14.7 97.5h3.6M50.7 97.5h3.6M113.7 97.5h3.6M53.7 103.5h3.6M110.7 106.5h3.6M56.7 118.5h3.6M140.7 118.5h3.6M56.7 121.5h3.6M137.7 121.5h3.6M56.7 124.5h3.6M56.7 127.5h3.6M128.7 127.5h3.6M110.7 130.5h3.6"/>
<path stroke="#242424" d="M95.7 16.5h3.6M68.7 19.5h3.6M110.7 25.5h3.6M104.7 34.5h3.6M65.7 37.5h3.6M98.7 37.5h3.6M74.7 40.5h3.6M89.7 40.5h3.6M17.7 70.5h3.6M146.7 70.5h6.6M14.7 73.5h3.6M23.7 73.5h3.6M140.7 73.5h3.6M152.7 73.5h3.6M29.7 76.5h3.6M134.7 76.5h3.6M131.7 79.5h3.6M41.7 85.5h3.6M122.7 85.5h3.6M44.7 88.5h3.6M119.7 88.5h3.6M47.7 91.5h3.6M116.7 91.5h3.6M152.7 94.5h3.6M14.7 100.5h3.6M53.7 100.5h3.6M110.7 103.5h3.6M149.7 106.5h3.6M17.7 109.5h3.6M56.7 112.5h3.6M56.7 115.5h3.6M107.7 115.5h3.6M143.7 115.5h3.6M23.7 118.5h3.6M107.7 118.5h3.6M26.7 121.5h3.6M107.7 121.5h3.6M107.7 124.5h3.6M35.7 127.5h3.6M107.7 127.5h3.6M41.7 130.5h3.6M56.7 130.5h3.6M122.7 130.5h3.6"/>
<path stroke="#282828" d="M74.7 16.5h3.6M104.7 19.5h3.6M62.7 22.5h3.6M59.7 25.5h3.6M56.7 31.5h3.6M110.7 31.5h3.6M59.7 34.5h3.6M101.7 37.5h3.6M71.7 40.5h3.6M92.7 40.5h3.6M20.7 70.5h3.6M143.7 70.5h3.6M26.7 73.5h3.6M137.7 73.5h3.6M35.7 79.5h3.6M128.7 79.5h3.6M38.7 82.5h3.6M125.7 82.5h3.6M50.7 94.5h3.6M113.7 94.5h3.6M152.7 97.5h3.6M110.7 100.5h3.6M56.7 106.5h3.6M56.7 109.5h3.6M107.7 109.5h3.6M107.7 112.5h3.6M146.7 112.5h3.6M20.7 115.5h3.6M29.7 124.5h3.6M134.7 124.5h3.6M107.7 130.5h3.6"/>
<path stroke="#2c2c2c" d="M98.7 16.5h3.6M113.7 28.5h3.6M107.7 34.5h3.6M62.7 37.5h3.6M68.7 40.5h3.6M95.7 40.5h3.6M77.7 43.5h12.6M146.7 67.5h6.6M14.7 70.5h3.6M23.7 70.5h3.6M140.7 70.5h3.6M32.7 76.5h3.6M131.7 76.5h3.6M44.7 85.5h3.6M119.7 85.5h3.6M47.7 88.5h3.6M116.7 88.5h3.6M50.7 91.5h3.6M53.7 97.5h3.6M110.7 97.5h3.6M14.7 103.5h3.6M56.7 103.5h3.6M107.7 106.5h3.6M59.7 124.5h3.6M50.7 133.5h6.6M110.7 133.5h6.6"/>
<path stroke="#303030" d="M56.7 28.5h3.6M113.7 31.5h3.6M56.7 34.5h3.6M110.7 34.5h3.6M59.7 37.5h3.6M104.7 37.5h3.6M65.7 40.5h3.6M98.7 40.5h3.6M74.7 43.5h3.6M89.7 43.5h3.6M152.7 70.5h3.6M29.7 73.5h3.6M134.7 73.5h3.6M11.7 79.5h3.6M38.7 79.5h3.6M11.7 82.5h3.6M41.7 82.5h3.6M122.7 82.5h3.6M11.7 85.5h3.6M113.7 91.5h3.6M53.7 94.5h3.6M56.7 100.5h3.6M152.7 100.5h3.6M107.7 103.5h3.6M59.7 115.5h3.6M59.7 118.5h3.6M104.7 118.5h3.6M59.7 121.5h3.6M104.7 121.5h3.6M104.7 124.5h3.6M59.7 127.5h3.6M104.7 127.5h3.6M131.7 127.5h3.6M59.7 130.5h3.6M125.7 130.5h3.6M47.7 133.5h3.6M56.7 133.5h3.6M116.7 133.5h3.6"/>
<path stroke="#343434" d="M83.7 13.5h6.6M71.7 16.5h3.6M65.7 19.5h3.6M110.7 22.5h3.6M113.7 25.5h3.6M71.7 43.5h3.6M92.7 43.5h3.6M17.7 67.5h6.6M143.7 67.5h3.6M26.7 70.5h3.6M137.7 70.5h3.6M11.7 76.5h3.6M35.7 76.5h3.6M128.7 76.5h3.6M125.7 79.5h3.6M11.7 88.5h3.6M110.7 94.5h3.6M107.7 100.5h3.6M59.7 109.5h3.6M149.7 109.5h3.6M17.7 112.5h3.6M59.7 112.5h3.6M104.7 112.5h3.6M104.7 115.5h3.6M32.7 127.5h3.6M38.7 130.5h3.6M104.7 130.5h3.6M107.7 133.5h3.6"/>
<path stroke="#383838" d="M80.7 13.5h3.6M89.7 13.5h3.6M101.7 16.5h3.6M107.7 19.5h3.6M53.7 31.5h3.6M53.7 34.5h3.6M113.7 34.5h3.6M56.7 37.5h3.6M107.7 37.5h3.6M62.7 40.5h3.6M101.7 40.5h3.6M68.7 43.5h3.6M95.7 43.5h3.6M11.7 73.5h3.6M32.7 73.5h3.6M155.7 79.5h3.6M44.7 82.5h3.6M119.7 82.5h3.6M155.7 82.5h3.6M47.7 85.5h3.6M116.7 85.5h3.6M50.7 88.5h3.6M113.7 88.5h3.6M11.7 91.5h3.6M53.7 91.5h3.6M56.7 97.5h3.6M107.7 97.5h3.6M152.7 103.5h3.6M14.7 106.5h3.6M59.7 106.5h3.6M104.7 106.5h3.6M104.7 109.5h3.6M143.7 118.5h3.6M140.7 121.5h3.6M119.7 133.5h3.6"/>
<path stroke="#3c3c3c" d="M92.7 13.5h3.6M116.7 28.5h3.6M116.7 31.5h3.6M104.7 40.5h3.6M77.7 46.5h12.6M146.7 64.5h6.6M14.7 67.5h3.6M23.7 67.5h3.6M140.7 67.5h3.6M152.7 67.5h3.6M29.7 70.5h3.6M131.7 73.5h3.6M155.7 76.5h3.6M41.7 79.5h3.6M122.7 79.5h3.6M155.7 85.5h3.6M110.7 91.5h3.6M11.7 94.5h3.6M59.7 103.5h3.6M23.7 121.5h3.6M137.7 124.5h3.6M44.7 133.5h3.6M59.7 133.5h3.6M104.7 133.5h3.6"/>
<path stroke="#404040" d="M77.7 13.5h3.6M53.7 37.5h3.6M110.7 37.5h3.6M59.7 40.5h3.6M65.7 43.5h3.6M98.7 43.5h3.6M74.7 46.5h3.6M89.7 46.5h3.6M143.7 64.5h3.6M134.7 70.5h3.6M38.7 76.5h3.6M125.7 76.5h3.6M155.7 88.5h3.6M56.7 94.5h3.6M107.7 94.5h3.6M59.7 100.5h3.6M104.7 103.5h3.6M62.7 115.5h3.6M146.7 115.5h3.6M20.7 118.5h3.6M62.7 118.5h3.6M62.7 121.5h3.6M101.7 121.5h3.6M26.7 124.5h3.6M62.7 124.5h3.6M101.7 124.5h3.6M62.7 127.5h3.6M101.7 127.5h3.6M62.7 130.5h3.6"/>
<path stroke="#444444" d="M68.7 16.5h3.6M59.7 22.5h3.6M56.7 25.5h3.6M116.7 34.5h3.6M107.7 40.5h3.6M101.7 43.5h3.6M71.7 46.5h3.6M92.7 46.5h3.6M20.7 64.5h3.6M26.7 67.5h3.6M137.7 67.5h3.6M11.7 70.5h3.6M35.7 73.5h3.6M128.7 73.5h3.6M155.7 73.5h3.6M44.7 79.5h3.6M47.7 82.5h3.6M116.7 82.5h3.6M50.7 85.5h3.6M113.7 85.5h3.6M53.7 88.5h3.6M155.7 91.5h3.6M11.7 97.5h3.6M104.7 100.5h3.6M62.7 112.5h3.6M101.7 115.5h3.6M101.7 118.5h3.6M35.7 130.5h3.6M101.7 130.5h3.6M128.7 130.5h3.6"/>
<path stroke="#484848" d="M95.7 13.5h3.6M53.7 28.5h3.6M50.7 34.5h3.6M113.7 37.5h3.6M56.7 40.5h3.6M62.7 43.5h3.6M68.7 46.5h3.6M95.7 46.5h3.6M17.7 64.5h3.6M32.7 70.5h3.6M131.7 70.5h3.6M41.7 76.5h3.6M119.7 79.5h3.6M110.7 88.5h3.6M56.7 91.5h3.6M155.7 94.5h3.6M59.7 97.5h3.6M62.7 106.5h3.6M152.7 106.5h3.6M14.7 109.5h3.6M62.7 109.5h3.6M101.7 109.5h3.6M101.7 112.5h3.6M134.7 127.5h3.6M62.7 133.5h3.6M101.7 133.5h3.6M122.7 133.5h3.6"/>
<path stroke="#4c4c4c" d="M104.7 16.5h3.6M62.7 19.5h3.6M113.7 22.5h3.6M116.7 25.5h3.6M119.7 31.5h3.6M50.7 37.5h3.6M77.7 49.5h12.6M146.7 61.5h6.6M23.7 64.5h3.6M140.7 64.5h3.6M152.7 64.5h3.6M29.7 67.5h3.6M38.7 73.5h3.6M122.7 76.5h3.6M107.7 91.5h3.6M104.7 97.5h3.6M11.7 100.5h3.6M101.7 106.5h3.6M149.7 112.5h3.6M17.7 115.5h3.6M29.7 127.5h3.6M41.7 133.5h3.6M56.7 136.5h3.6"/>
<path stroke="#505050" d="M74.7 13.5h3.6M50.7 31.5h3.6M119.7 34.5h3.6M116.7 37.5h3.6M53.7 40.5h3.6M110.7 40.5h3.6M59.7 43.5h3.6M104.7 43.5h3.6M65.7 46.5h3.6M98.7 46.5h3.6M74.7 49.5h3.6M89.7 49.5h3.6M143.7 61.5h3.6M134.7 67.5h3.6M155.7 70.5h3.6M125.7 73.5h3.6M50.7 82.5h3.6M53.7 85.5h3.6M59.7 94.5h3.6M62.7 103.5h3.6M101.7 103.5h3.6M53.7 136.5h3.6M59.7 136.5h3.6M107.7 136.5h6.6"/>
<path stroke="#545454" d="M110.7 19.5h3.6M119.7 28.5h3.6M92.7 49.5h3.6M14.7 64.5h3.6M26.7 64.5h3.6M137.7 64.5h3.6M35.7 70.5h3.6M128.7 70.5h3.6M44.7 76.5h3.6M47.7 79.5h3.6M116.7 79.5h3.6M113.7 82.5h3.6M110.7 85.5h3.6M56.7 88.5h3.6M104.7 94.5h3.6M155.7 97.5h3.6M62.7 100.5h3.6M65.7 118.5h3.6M65.7 121.5h3.6M65.7 124.5h3.6M98.7 124.5h3.6M65.7 127.5h3.6M98.7 127.5h3.6M65.7 130.5h3.6M50.7 136.5h3.6M104.7 136.5h3.6M113.7 136.5h3.6"/>
<path stroke="#585858" d="M98.7 13.5h3.6M113.7 40.5h3.6M56.7 43.5h3.6M107.7 43.5h3.6M62.7 46.5h3.6M101.7 46.5h3.6M71.7 49.5h3.6M11.7 67.5h3.6M32.7 67.5h3.6M41.7 73.5h3.6M119.7 76.5h3.6M107.7 88.5h3.6M101.7 100.5h3.6M65.7 112.5h3.6M65.7 115.5h3.6M98.7 115.5h3.6M98.7 118.5h3.6M98.7 121.5h3.6M98.7 130.5h3.6M65.7 133.5h3.6"/>
<path stroke="#5c5c5c" d="M47.7 34.5h3.6M47.7 37.5h3.6M119.7 37.5h3.6M50.7 40.5h3.6M68.7 49.5h3.6M95.7 49.5h3.6M140.7 61.5h3.6M131.7 67.5h3.6M155.7 67.5h3.6M122.7 73.5h3.6M59.7 91.5h3.6M104.7 91.5h3.6M62.7 97.5h3.6M155.7 100.5h3.6M11.7 103.5h3.6M65.7 109.5h3.6M98.7 112.5h3.6M143.7 121.5h3.6M131.7 130.5h3.6M98.7 133.5h3.6M62.7 136.5h3.6M101.7 136.5h3.6"/>
<path stroke="#606060" d="M71.7 13.5h3.6M65.7 16.5h3.6M122.7 31.5h3.6M122.7 34.5h3.6M104.7 46.5h3.6M80.7 52.5h6.6M146.7 58.5h3.6M20.7 61.5h6.6M152.7 61.5h3.6M29.7 64.5h3.6M134.7 64.5h3.6M38.7 70.5h3.6M125.7 70.5h3.6M8.7 79.5h3.6M50.7 79.5h3.6M8.7 82.5h3.6M53.7 82.5h3.6M56.7 85.5h3.6M101.7 97.5h3.6M65.7 106.5h3.6M98.7 109.5h3.6M152.7 109.5h3.6M14.7 112.5h3.6M146.7 118.5h3.6M140.7 124.5h3.6M32.7 130.5h3.6M125.7 133.5h3.6M47.7 136.5h3.6M116.7 136.5h3.6"/>
<path stroke="#646464" d="M53.7 25.5h3.6M116.7 40.5h3.6M53.7 43.5h3.6M110.7 43.5h3.6M59.7 46.5h3.6M65.7 49.5h3.6M98.7 49.5h3.6M77.7 52.5h3.6M86.7 52.5h6.6M143.7 58.5h3.6M149.7 58.5h3.6M35.7 67.5h3.6M8.7 76.5h3.6M47.7 76.5h3.6M116.7 76.5h3.6M113.7 79.5h3.6M110.7 82.5h3.6M8.7 85.5h3.6M107.7 85.5h3.6M8.7 88.5h3.6M62.7 94.5h3.6M65.7 103.5h3.6M98.7 106.5h3.6M20.7 121.5h3.6M23.7 124.5h3.6M38.7 133.5h3.6"/>
<path stroke="#686868" d="M83.7 10.5h6.6M107.7 16.5h3.6M56.7 22.5h3.6M50.7 28.5h3.6M47.7 40.5h3.6M74.7 52.5h3.6M26.7 61.5h3.6M137.7 61.5h3.6M128.7 67.5h3.6M8.7 73.5h3.6M44.7 73.5h3.6M119.7 73.5h3.6M59.7 88.5h3.6M104.7 88.5h3.6M101.7 94.5h3.6M98.7 103.5h3.6M65.7 136.5h3.6M98.7 136.5h3.6"/>
<path stroke="#6c6c6c" d="M89.7 10.5h3.6M101.7 13.5h3.6M119.7 25.5h3.6M122.7 37.5h3.6M50.7 43.5h3.6M113.7 43.5h3.6M56.7 46.5h3.6M107.7 46.5h3.6M62.7 49.5h3.6M101.7 49.5h3.6M71.7 52.5h3.6M92.7 52.5h3.6M17.7 61.5h3.6M32.7 64.5h3.6M131.7 64.5h3.6M41.7 70.5h3.6M8.7 91.5h3.6M65.7 100.5h3.6M98.7 100.5h3.6M155.7 103.5h3.6M11.7 106.5h3.6M149.7 115.5h3.6M17.7 118.5h3.6M68.7 121.5h3.6M68.7 124.5h3.6M26.7 127.5h3.6M68.7 127.5h3.6M137.7 127.5h3.6M68.7 130.5h3.6"/>
<path stroke="#707070" d="M80.7 10.5h3.6M59.7 19.5h3.6M116.7 22.5h3.6M47.7 31.5h3.6M44.7 37.5h3.6M119.7 40.5h3.6M95.7 52.5h3.6M140.7 58.5h3.6M155.7 64.5h3.6M122.7 70.5h3.6M53.7 79.5h3.6M158.7 79.5h3.6M56.7 82.5h3.6M158.7 82.5h3.6M62.7 91.5h3.6M68.7 115.5h3.6M68.7 118.5h3.6M95.7 118.5h3.6M95.7 121.5h3.6M95.7 124.5h3.6M95.7 127.5h3.6M95.7 130.5h3.6M68.7 133.5h3.6M119.7 136.5h3.6"/>
<path stroke="#747474" d="M92.7 10.5h3.6M122.7 28.5h3.6M125.7 34.5h3.6M44.7 40.5h3.6M68.7 52.5h3.6M146.7 55.5h3.6M29.7 61.5h3.6M134.7 61.5h3.6M38.7 67.5h3.6M125.7 67.5h3.6M8.7 70.5h3.6M47.7 73.5h3.6M50.7 76.5h3.6M113.7 76.5h3.6M158.7 76.5h3.6M110.7 79.5h3.6M107.7 82.5h3.6M59.7 85.5h3.6M158.7 85.5h3.6M101.7 91.5h3.6M8.7 94.5h3.6M65.7 97.5h3.6M98.7 97.5h3.6M68.7 109.5h3.6M68.7 112.5h3.6M95.7 112.5h3.6M95.7 115.5h3.6M95.7 133.5h3.6M44.7 136.5h3.6"/>
<path stroke="#787878" d="M77.7 10.5h3.6M113.7 19.5h3.6M44.7 34.5h3.6M125.7 37.5h3.6M47.7 43.5h3.6M116.7 43.5h3.6M53.7 46.5h3.6M110.7 46.5h3.6M59.7 49.5h3.6M104.7 49.5h3.6M98.7 52.5h3.6M80.7 55.5h9.6M143.7 55.5h3.6M152.7 58.5h3.6M11.7 64.5h3.6M35.7 64.5h3.6M116.7 73.5h3.6M158.7 73.5h3.6M104.7 85.5h3.6M158.7 88.5h3.6M68.7 106.5h3.6M95.7 109.5h3.6M128.7 133.5h3.6"/>
<path stroke="#7c7c7c" d="M68.7 13.5h3.6M122.7 40.5h3.6M65.7 52.5h3.6M77.7 55.5h3.6M89.7 55.5h3.6M23.7 58.5h6.6M137.7 58.5h3.6M128.7 64.5h3.6M44.7 70.5h3.6M119.7 70.5h3.6M62.7 88.5h3.6M158.7 91.5h3.6M65.7 94.5h3.6M8.7 97.5h3.6M95.7 106.5h3.6M134.7 130.5h3.6M35.7 133.5h3.6M68.7 136.5h3.6M95.7 136.5h3.6M59.7 139.5h3.6M104.7 139.5h3.6"/>
<path stroke="#808080" d="M95.7 10.5h3.6M62.7 16.5h3.6M125.7 31.5h3.6M50.7 46.5h3.6M113.7 46.5h3.6M56.7 49.5h3.6M107.7 49.5h3.6M74.7 55.5h3.6M140.7 55.5h3.6M149.7 55.5h3.6M32.7 61.5h3.6M131.7 61.5h3.6M41.7 67.5h3.6M122.7 67.5h3.6M101.7 88.5h3.6M98.7 94.5h3.6M68.7 103.5h3.6M95.7 103.5h3.6M155.7 106.5h3.6M152.7 112.5h3.6M14.7 115.5h3.6M29.7 130.5h3.6M56.7 139.5h3.6M62.7 139.5h3.6M101.7 139.5h3.6M107.7 139.5h3.6"/>
<path stroke="#838383" d="M104.7 13.5h3.6M41.7 40.5h3.6M44.7 43.5h3.6M119.7 43.5h3.6M62.7 52.5h3.6M101.7 52.5h3.6M71.7 55.5h3.6M92.7 55.5h3.6M20.7 58.5h3.6M29.7 58.5h3.6M14.7 61.5h3.6M38.7 64.5h3.6M158.7 70.5h3.6M50.7 73.5h3.6M53.7 76.5h3.6M110.7 76.5h3.6M56.7 79.5h3.6M107.7 79.5h3.6M59.7 82.5h3.6M68.7 100.5h3.6M11.7 109.5h3.6M122.7 136.5h3.6"/>
<path stroke="#878787" d="M110.7 16.5h3.6M41.7 37.5h3.6M125.7 40.5h3.6M95.7 55.5h3.6M134.7 58.5h3.6M155.7 61.5h3.6M125.7 64.5h3.6M8.7 67.5h3.6M47.7 70.5h3.6M113.7 73.5h3.6M104.7 82.5h3.6M65.7 91.5h3.6M158.7 94.5h3.6M8.7 100.5h3.6M95.7 100.5h3.6M71.7 127.5h3.6M92.7 127.5h3.6M71.7 130.5h3.6M92.7 130.5h3.6M41.7 136.5h3.6M53.7 139.5h3.6M65.7 139.5h3.6M98.7 139.5h3.6M110.7 139.5h3.6"/>
<path stroke="#8b8b8b" d="M74.7 10.5h3.6M128.7 37.5h3.6M122.7 43.5h3.6M47.7 46.5h3.6M116.7 46.5h3.6M53.7 49.5h3.6M110.7 49.5h3.6M59.7 52.5h3.6M104.7 52.5h3.6M143.7 52.5h3.6M68.7 55.5h3.6M137.7 55.5h3.6M35.7 61.5h3.6M128.7 61.5h3.6M44.7 67.5h3.6M116.7 70.5h3.6M62.7 85.5h3.6M98.7 91.5h3.6M68.7 97.5h3.6M71.7 115.5h3.6M71.7 118.5h3.6M92.7 118.5h3.6M71.7 121.5h3.6M92.7 121.5h3.6M146.7 121.5h3.6M71.7 124.5h3.6M92.7 124.5h3.6M143.7 124.5h3.6M71.7 133.5h3.6M92.7 133.5h3.6"/>
<path stroke="#8f8f8f" d="M50.7 25.5h3.6M47.7 28.5h3.6M128.7 34.5h3.6M41.7 43.5h3.6M146.7 52.5h3.6M98.7 55.5h3.6M32.7 58.5h3.6M119.7 67.5h3.6M101.7 85.5h3.6M95.7 97.5h3.6M158.7 97.5h3.6M71.7 112.5h3.6M92.7 112.5h3.6M92.7 115.5h3.6M20.7 124.5h3.6M113.7 139.5h3.6"/>
<path stroke="#939393" d="M98.7 10.5h3.6M53.7 22.5h3.6M122.7 25.5h3.6M44.7 31.5h3.6M128.7 40.5h3.6M44.7 46.5h3.6M113.7 49.5h3.6M140.7 52.5h3.6M26.7 55.5h3.6M65.7 55.5h3.6M77.7 58.5h12.6M131.7 58.5h3.6M41.7 64.5h3.6M122.7 64.5h3.6M158.7 67.5h3.6M53.7 73.5h3.6M56.7 76.5h3.6M65.7 88.5h3.6M71.7 106.5h3.6M71.7 109.5h3.6M92.7 109.5h3.6M149.7 118.5h3.6M17.7 121.5h3.6M140.7 127.5h3.6M71.7 136.5h3.6M92.7 136.5h3.6M50.7 139.5h3.6M68.7 139.5h3.6M95.7 139.5h3.6"/>
<path stroke="#979797" d="M65.7 13.5h3.6M56.7 19.5h3.6M119.7 22.5h3.6M38.7 40.5h3.6M125.7 43.5h3.6M119.7 46.5h3.6M50.7 49.5h3.6M56.7 52.5h3.6M107.7 52.5h3.6M29.7 55.5h3.6M101.7 55.5h3.6M134.7 55.5h3.6M152.7 55.5h3.6M74.7 58.5h3.6M89.7 58.5h3.6M38.7 61.5h3.6M125.7 61.5h3.6M50.7 70.5h3.6M113.7 70.5h3.6M110.7 73.5h3.6M107.7 76.5h3.6M59.7 79.5h3.6M104.7 79.5h3.6M98.7 88.5h3.6M68.7 94.5h3.6M95.7 94.5h3.6M8.7 103.5h3.6M92.7 106.5h3.6M23.7 127.5h3.6M131.7 133.5h3.6"/>
<path stroke="#9b9b9b" d="M116.7 19.5h3.6M125.7 28.5h3.6M41.7 34.5h3.6M38.7 43.5h3.6M41.7 46.5h3.6M137.7 52.5h3.6M23.7 55.5h3.6M62.7 55.5h3.6M17.7 58.5h3.6M35.7 58.5h3.6M71.7 58.5h3.6M92.7 58.5h3.6M47.7 67.5h3.6M116.7 67.5h3.6M62.7 82.5h3.6M158.7 100.5h3.6M71.7 103.5h3.6M92.7 103.5h3.6M155.7 109.5h3.6M11.7 112.5h3.6M32.7 133.5h3.6M125.7 136.5h3.6"/>
<path stroke="#9f9f9f" d="M71.7 10.5h3.6M107.7 13.5h3.6M38.7 37.5h3.6M131.7 37.5h3.6M131.7 40.5h3.6M128.7 43.5h3.6M122.7 46.5h3.6M47.7 49.5h3.6M116.7 49.5h3.6M53.7 52.5h3.6M110.7 52.5h3.6M149.7 52.5h3.6M32.7 55.5h3.6M104.7 55.5h3.6M95.7 58.5h3.6M128.7 58.5h3.6M44.7 64.5h3.6M119.7 64.5h3.6M5.7 79.5h3.6M5.7 82.5h3.6M101.7 82.5h3.6M68.7 91.5h3.6M71.7 100.5h3.6M152.7 115.5h3.6M14.7 118.5h3.6M137.7 130.5h3.6M38.7 136.5h3.6M47.7 139.5h3.6M116.7 139.5h3.6"/>
<path stroke="#a3a3a3" d="M59.7 16.5h3.6M128.7 31.5h3.6M131.7 43.5h3.6M38.7 46.5h3.6M125.7 46.5h3.6M44.7 49.5h3.6M140.7 49.5h6.6M29.7 52.5h3.6M134.7 52.5h3.6M59.7 55.5h3.6M131.7 55.5h3.6M38.7 58.5h3.6M68.7 58.5h3.6M155.7 58.5h3.6M41.7 61.5h3.6M122.7 61.5h3.6M158.7 64.5h3.6M56.7 73.5h3.6M5.7 76.5h3.6M5.7 85.5h3.6M65.7 85.5h3.6M5.7 88.5h3.6M95.7 91.5h3.6M92.7 100.5h3.6M26.7 130.5h3.6M89.7 130.5h3.6M71.7 139.5h3.6M92.7 139.5h3.6"/>
<path stroke="#a7a7a7" d="M83.7 7.5h6.6M101.7 10.5h3.6M35.7 43.5h3.6M119.7 49.5h3.6M137.7 49.5h3.6M26.7 52.5h3.6M32.7 52.5h3.6M50.7 52.5h3.6M113.7 52.5h3.6M35.7 55.5h3.6M56.7 55.5h3.6M107.7 55.5h3.6M65.7 58.5h3.6M98.7 58.5h3.6M125.7 58.5h3.6M8.7 64.5h3.6M50.7 67.5h3.6M113.7 67.5h3.6M53.7 70.5h3.6M110.7 70.5h3.6M5.7 73.5h3.6M107.7 73.5h3.6M59.7 76.5h3.6M104.7 76.5h3.6M98.7 85.5h3.6M71.7 97.5h3.6M8.7 106.5h3.6M89.7 118.5h3.6M74.7 121.5h3.6M89.7 121.5h3.6M74.7 124.5h3.6M89.7 124.5h3.6M74.7 127.5h3.6M89.7 127.5h3.6M74.7 130.5h3.6M74.7 133.5h3.6M89.7 133.5h3.6"/>
<path stroke="#ababab" d="M80.7 7.5h3.6M89.7 7.5h3.6M113.7 16.5h3.6M35.7 40.5h3.6M134.7 43.5h3.6M35.7 46.5h3.6M128.7 46.5h9.6M32.7 49.5h12.6M122.7 49.5h3.6M134.7 49.5h3.6M35.7 52.5h3.6M47.7 52.5h3.6M116.7 52.5h3.6M131.7 52.5h3.6M128.7 55.5h3.6M101.7 58.5h3.6M11.7 61.5h3.6M44.7 61.5h3.6M80.7 61.5h6.6M47.7 64.5h3.6M116.7 64.5h3.6M62.7 79.5h3.6M101.7 79.5h3.6M68.7 88.5h3.6M5.7 91.5h3.6M92.7 97.5h3.6M158.7 103.5h3.6M74.7 112.5h3.6M89.7 112.5h3.6M74.7 115.5h3.6M89.7 115.5h3.6M74.7 118.5h3.6M74.7 136.5h3.6M89.7 136.5h3.6"/>
<path stroke="#afafaf" d="M131.7 34.5h3.6M134.7 40.5h3.6M32.7 46.5h3.6M137.7 46.5h3.6M29.7 49.5h3.6M125.7 49.5h9.6M146.7 49.5h3.6M38.7 52.5h3.6M44.7 52.5h3.6M128.7 52.5h3.6M20.7 55.5h3.6M38.7 55.5h3.6M53.7 55.5h3.6M110.7 55.5h3.6M125.7 55.5h3.6M41.7 58.5h3.6M62.7 58.5h3.6M122.7 58.5h3.6M74.7 61.5h6.6M86.7 61.5h6.6M119.7 61.5h3.6M5.7 70.5h3.6M161.7 76.5h3.6M161.7 79.5h3.6M65.7 82.5h3.6M161.7 82.5h3.6M161.7 85.5h3.6M95.7 88.5h3.6M5.7 94.5h3.6M71.7 94.5h3.6M74.7 106.5h3.6M74.7 109.5h3.6M89.7 109.5h3.6M44.7 139.5h3.6M119.7 139.5h3.6"/>
<path stroke="#b3b3b3" d="M92.7 7.5h3.6M68.7 10.5h3.6M32.7 43.5h3.6M137.7 43.5h3.6M140.7 46.5h3.6M41.7 52.5h3.6M119.7 52.5h9.6M41.7 55.5h3.6M50.7 55.5h3.6M113.7 55.5h3.6M44.7 58.5h3.6M59.7 58.5h3.6M104.7 58.5h3.6M47.7 61.5h3.6M71.7 61.5h3.6M92.7 61.5h3.6M50.7 64.5h3.6M113.7 64.5h3.6M53.7 67.5h3.6M110.7 67.5h3.6M56.7 70.5h3.6M98.7 82.5h3.6M161.7 88.5h3.6M92.7 94.5h3.6M74.7 103.5h3.6M89.7 106.5h3.6M155.7 112.5h3.6M11.7 115.5h3.6M134.7 133.5h3.6M128.7 136.5h3.6M59.7 142.5h9.6M98.7 142.5h9.6"/>
<path stroke="#b7b7b7" d="M77.7 7.5h3.6M62.7 13.5h3.6M47.7 25.5h3.6M44.7 28.5h3.6M41.7 31.5h3.6M23.7 52.5h3.6M44.7 55.5h6.6M116.7 55.5h9.6M47.7 58.5h3.6M56.7 58.5h3.6M107.7 58.5h3.6M119.7 58.5h3.6M68.7 61.5h3.6M95.7 61.5h3.6M116.7 61.5h3.6M158.7 61.5h3.6M107.7 70.5h3.6M59.7 73.5h3.6M104.7 73.5h3.6M161.7 73.5h3.6M62.7 76.5h3.6M5.7 97.5h3.6M89.7 103.5h3.6M149.7 121.5h3.6M146.7 124.5h3.6M143.7 127.5h3.6M29.7 133.5h3.6M35.7 136.5h3.6M74.7 139.5h3.6M89.7 139.5h3.6M56.7 142.5h3.6M68.7 142.5h3.6M95.7 142.5h3.6M107.7 142.5h3.6"/>
<path stroke="#bbbbbb" d="M95.7 7.5h3.6M104.7 10.5h3.6M110.7 13.5h3.6M50.7 22.5h3.6M122.7 22.5h3.6M125.7 25.5h3.6M38.7 34.5h3.6M35.7 37.5h3.6M134.7 37.5h3.6M29.7 46.5h3.6M143.7 46.5h3.6M26.7 49.5h3.6M152.7 52.5h3.6M14.7 58.5h3.6M50.7 58.5h6.6M110.7 58.5h9.6M50.7 61.5h3.6M65.7 61.5h3.6M98.7 61.5h3.6M113.7 61.5h3.6M53.7 64.5h3.6M110.7 64.5h3.6M5.7 67.5h3.6M101.7 76.5h3.6M68.7 85.5h3.6M71.7 91.5h3.6M92.7 91.5h3.6M161.7 91.5h3.6M74.7 100.5h3.6M89.7 100.5h3.6M158.7 106.5h3.6M8.7 109.5h3.6M17.7 124.5h3.6M20.7 127.5h3.6"/>
<path stroke="#bfbfbf" d="M53.7 19.5h3.6M119.7 19.5h3.6M128.7 28.5h3.6M137.7 40.5h3.6M155.7 55.5h3.6M53.7 61.5h12.6M101.7 61.5h12.6M56.7 67.5h3.6M107.7 67.5h3.6M59.7 70.5h3.6M161.7 70.5h3.6M65.7 79.5h3.6M95.7 85.5h3.6M161.7 94.5h3.6M74.7 97.5h3.6M152.7 118.5h3.6M14.7 121.5h3.6M86.7 121.5h3.6M77.7 124.5h3.6M86.7 124.5h3.6M77.7 127.5h3.6M86.7 127.5h3.6M77.7 130.5h3.6M86.7 130.5h3.6M140.7 130.5h3.6M77.7 133.5h3.6M86.7 133.5h3.6M86.7 136.5h3.6M122.7 139.5h3.6M53.7 142.5h3.6M110.7 142.5h3.6"/>
<path stroke="#c3c3c3" d="M74.7 7.5h3.6M32.7 40.5h3.6M140.7 43.5h3.6M149.7 49.5h3.6M56.7 64.5h3.6M107.7 64.5h3.6M104.7 70.5h3.6M62.7 73.5h3.6M98.7 79.5h3.6M89.7 97.5h3.6M5.7 100.5h3.6M77.7 109.5h3.6M86.7 109.5h3.6M77.7 112.5h3.6M86.7 112.5h3.6M77.7 115.5h3.6M86.7 115.5h3.6M77.7 118.5h3.6M86.7 118.5h3.6M77.7 121.5h3.6M23.7 130.5h3.6M77.7 136.5h3.6M41.7 139.5h3.6M71.7 142.5h3.6M92.7 142.5h3.6"/>
<path stroke="#c7c7c7" d="M98.7 7.5h3.6M56.7 16.5h3.6M116.7 16.5h3.6M131.7 31.5h3.6M29.7 43.5h3.6M59.7 64.5h3.6M74.7 64.5h18.6M104.7 64.5h3.6M59.7 67.5h3.6M104.7 67.5h3.6M161.7 67.5h3.6M101.7 73.5h3.6M68.7 82.5h3.6M71.7 88.5h3.6M92.7 88.5h3.6M74.7 94.5h3.6M161.7 97.5h3.6M77.7 106.5h3.6M86.7 106.5h3.6M131.7 136.5h3.6M86.7 139.5h3.6M113.7 142.5h3.6"/>
<path stroke="#cbcbcb" d="M65.7 10.5h3.6M146.7 46.5h3.6M17.7 55.5h3.6M158.7 58.5h3.6M62.7 64.5h12.6M92.7 64.5h12.6M62.7 70.5h3.6M65.7 76.5h3.6M95.7 82.5h3.6M89.7 94.5h3.6M5.7 103.5h3.6M77.7 103.5h3.6M86.7 103.5h3.6M158.7 109.5h3.6M8.7 112.5h3.6M155.7 115.5h3.6M11.7 118.5h3.6M80.7 130.5h6.6M80.7 133.5h6.6M137.7 133.5h3.6M32.7 136.5h3.6M77.7 139.5h3.6M50.7 142.5h3.6M89.7 142.5h3.6"/>
<path stroke="#cfcfcf" d="M71.7 7.5h3.6M107.7 10.5h3.6M59.7 13.5h3.6M134.7 34.5h3.6M26.7 46.5h3.6M23.7 49.5h3.6M20.7 52.5h3.6M8.7 61.5h3.6M62.7 67.5h3.6M101.7 67.5h3.6M101.7 70.5h3.6M98.7 76.5h3.6M74.7 91.5h3.6M77.7 100.5h3.6M86.7 100.5h3.6M161.7 100.5h3.6M80.7 112.5h6.6M80.7 115.5h6.6M80.7 118.5h6.6M80.7 121.5h6.6M80.7 124.5h6.6M80.7 127.5h6.6M26.7 133.5h3.6M80.7 136.5h6.6M38.7 139.5h3.6M125.7 139.5h3.6M74.7 142.5h3.6"/>
<path stroke="#d3d3d3" d="M101.7 7.5h3.6M113.7 13.5h3.6M137.7 37.5h3.6M143.7 43.5h3.6M5.7 64.5h3.6M161.7 64.5h3.6M65.7 67.5h3.6M98.7 67.5h3.6M65.7 73.5h3.6M2.7 76.5h3.6M2.7 79.5h3.6M68.7 79.5h3.6M2.7 82.5h3.6M2.7 85.5h3.6M71.7 85.5h3.6M92.7 85.5h3.6M89.7 91.5h3.6M77.7 97.5h3.6M86.7 97.5h3.6M80.7 106.5h6.6M80.7 109.5h6.6M80.7 139.5h6.6M47.7 142.5h3.6M116.7 142.5h3.6"/>
<path stroke="#d7d7d7" d="M83.7 4.5h9.6M47.7 22.5h3.6M125.7 22.5h3.6M44.7 25.5h3.6M41.7 28.5h3.6M38.7 31.5h3.6M35.7 34.5h3.6M32.7 37.5h3.6M140.7 40.5h3.6M155.7 52.5h3.6M11.7 58.5h3.6M68.7 67.5h3.6M95.7 67.5h3.6M65.7 70.5h3.6M98.7 70.5h3.6M2.7 73.5h3.6M98.7 73.5h3.6M95.7 79.5h3.6M2.7 88.5h3.6M2.7 91.5h3.6M80.7 103.5h6.6M161.7 103.5h3.6M5.7 106.5h3.6M149.7 124.5h3.6M146.7 127.5h3.6M86.7 142.5h3.6"/>
<path stroke="#dbdbdb" d="M80.7 4.5h3.6M92.7 4.5h3.6M68.7 7.5h3.6M62.7 10.5h3.6M50.7 19.5h3.6M122.7 19.5h3.6M128.7 25.5h3.6M131.7 28.5h3.6M29.7 40.5h3.6M152.7 49.5h3.6M71.7 67.5h6.6M89.7 67.5h6.6M2.7 70.5h3.6M68.7 76.5h3.6M164.7 76.5h3.6M164.7 79.5h3.6M71.7 82.5h3.6M164.7 82.5h3.6M164.7 85.5h3.6M74.7 88.5h3.6M2.7 94.5h3.6M77.7 94.5h3.6M86.7 94.5h3.6M80.7 100.5h6.6M158.7 112.5h3.6M8.7 115.5h3.6M152.7 121.5h3.6M14.7 124.5h3.6M17.7 127.5h3.6M20.7 130.5h3.6M143.7 130.5h3.6M134.7 136.5h3.6M128.7 139.5h3.6M44.7 142.5h3.6M77.7 142.5h3.6M119.7 142.5h3.6M62.7 145.5h9.6M95.7 145.5h12.6"/>
<path stroke="#dfdfdf" d="M77.7 4.5h3.6M104.7 7.5h3.6M110.7 10.5h3.6M53.7 16.5h3.6M119.7 16.5h3.6M134.7 31.5h3.6M26.7 43.5h3.6M149.7 46.5h3.6M14.7 55.5h3.6M158.7 55.5h3.6M161.7 61.5h3.6M77.7 67.5h12.6M68.7 70.5h3.6M95.7 70.5h3.6M68.7 73.5h3.6M164.7 73.5h3.6M95.7 76.5h3.6M92.7 82.5h3.6M89.7 88.5h3.6M164.7 88.5h3.6M2.7 97.5h3.6M80.7 97.5h6.6M161.7 106.5h3.6M5.7 109.5h3.6M155.7 118.5h3.6M11.7 121.5h3.6M140.7 133.5h3.6M29.7 136.5h3.6M35.7 139.5h3.6M80.7 142.5h6.6M56.7 145.5h6.6M71.7 145.5h3.6M92.7 145.5h3.6M107.7 145.5h3.6"/>
<path stroke="#e3e3e3" d="M95.7 4.5h3.6M56.7 13.5h3.6M116.7 13.5h3.6M137.7 34.5h3.6M146.7 43.5h3.6M23.7 46.5h3.6M20.7 49.5h3.6M17.7 52.5h3.6M2.7 67.5h3.6M164.7 70.5h3.6M95.7 73.5h3.6M77.7 91.5h3.6M86.7 91.5h3.6M164.7 91.5h3.6M80.7 94.5h3.6M164.7 94.5h3.6M23.7 133.5h3.6M41.7 142.5h3.6M122.7 142.5h3.6M53.7 145.5h3.6M89.7 145.5h3.6M110.7 145.5h3.6"/>
<path stroke="#e7e7e7" d="M74.7 4.5h3.6M98.7 4.5h3.6M65.7 7.5h3.6M38.7 28.5h3.6M35.7 31.5h3.6M32.7 34.5h3.6M29.7 37.5h3.6M140.7 37.5h3.6M143.7 40.5h3.6M161.7 58.5h3.6M5.7 61.5h3.6M164.7 67.5h3.6M71.7 70.5h3.6M92.7 70.5h3.6M71.7 79.5h3.6M92.7 79.5h3.6M74.7 85.5h3.6M89.7 85.5h3.6M83.7 94.5h3.6M164.7 97.5h3.6M2.7 100.5h3.6M161.7 109.5h3.6M5.7 112.5h3.6M158.7 115.5h3.6M8.7 118.5h3.6M137.7 136.5h3.6M131.7 139.5h3.6M74.7 145.5h3.6M113.7 145.5h3.6"/>
<path stroke="#ebebeb" d="M71.7 4.5h3.6M107.7 7.5h3.6M59.7 10.5h3.6M113.7 10.5h3.6M50.7 16.5h3.6M122.7 16.5h3.6M47.7 19.5h3.6M125.7 19.5h3.6M44.7 22.5h3.6M128.7 22.5h3.6M41.7 25.5h3.6M131.7 25.5h3.6M26.7 40.5h3.6M155.7 49.5h3.6M158.7 52.5h3.6M8.7 58.5h3.6M2.7 64.5h3.6M164.7 64.5h3.6M74.7 70.5h3.6M89.7 70.5h3.6M71.7 73.5h3.6M92.7 73.5h3.6M71.7 76.5h3.6M92.7 76.5h3.6M77.7 88.5h3.6M86.7 88.5h3.6M80.7 91.5h6.6M164.7 100.5h3.6M2.7 103.5h3.6M152.7 124.5h3.6M14.7 127.5h3.6M149.7 127.5h3.6M17.7 130.5h3.6M146.7 130.5h3.6M26.7 136.5h3.6M32.7 139.5h3.6M38.7 142.5h3.6M125.7 142.5h3.6M50.7 145.5h3.6M77.7 145.5h3.6M86.7 145.5h3.6M116.7 145.5h3.6"/>
<path stroke="#efefef" d="M80.7 1.5h12.6M101.7 4.5h3.6M62.7 7.5h3.6M53.7 13.5h3.6M119.7 13.5h3.6M134.7 28.5h3.6M137.7 31.5h3.6M23.7 43.5h3.6M149.7 43.5h3.6M20.7 46.5h3.6M152.7 46.5h3.6M11.7 55.5h3.6M161.7 55.5h3.6M-0.3 70.5h3.6M77.7 70.5h12.6M-0.3 73.5h3.6M-0.3 76.5h3.6M-0.3 79.5h3.6M-0.3 82.5h3.6M74.7 82.5h3.6M89.7 82.5h3.6M-0.3 85.5h3.6M-0.3 88.5h3.6M-0.3 91.5h3.6M164.7 103.5h3.6M2.7 106.5h3.6M161.7 112.5h3.6M5.7 115.5h3.6M155.7 121.5h3.6M11.7 124.5h3.6M20.7 133.5h3.6M143.7 133.5h3.6M29.7 139.5h3.6M134.7 139.5h3.6M47.7 145.5h3.6M80.7 145.5h6.6M119.7 145.5h3.6M62.7 148.5h9.6M95.7 148.5h9.6"/>
<path stroke="#f3f3f3" d="M77.7 1.5h3.6M92.7 1.5h6.6M68.7 4.5h3.6M104.7 4.5h3.6M110.7 7.5h3.6M56.7 10.5h3.6M116.7 10.5h3.6M44.7 19.5h3.6M41.7 22.5h3.6M38.7 25.5h3.6M35.7 28.5h3.6M32.7 31.5h3.6M29.7 34.5h3.6M140.7 34.5h3.6M26.7 37.5h3.6M143.7 37.5h3.6M146.7 40.5h3.6M17.7 49.5h3.6M14.7 52.5h3.6M164.7 61.5h3.6M-0.3 67.5h3.6M167.7 70.5h3.6M74.7 73.5h3.6M89.7 73.5h3.6M167.7 73.5h3.6M167.7 76.5h3.6M74.7 79.5h3.6M167.7 79.5h3.6M167.7 82.5h3.6M77.7 85.5h3.6M167.7 85.5h3.6M80.7 88.5h6.6M167.7 88.5h3.6M167.7 91.5h3.6M-0.3 94.5h3.6M-0.3 97.5h3.6M164.7 106.5h3.6M2.7 109.5h3.6M158.7 118.5h3.6M8.7 121.5h3.6M152.7 127.5h3.6M149.7 130.5h3.6M23.7 136.5h3.6M140.7 136.5h3.6M35.7 142.5h3.6M128.7 142.5h3.6M44.7 145.5h3.6M122.7 145.5h3.6M56.7 148.5h6.6M71.7 148.5h6.6M89.7 148.5h6.6M104.7 148.5h9.6"/>
<path stroke="#f7f7f7" d="M71.7 1.5h6.6M98.7 1.5h6.6M65.7 4.5h3.6M107.7 4.5h3.6M59.7 7.5h3.6M113.7 7.5h3.6M53.7 10.5h3.6M119.7 10.5h3.6M50.7 13.5h3.6M122.7 13.5h3.6M47.7 16.5h3.6M125.7 16.5h3.6M128.7 19.5h3.6M131.7 22.5h3.6M134.7 25.5h3.6M137.7 28.5h3.6M140.7 31.5h3.6M143.7 34.5h3.6M23.7 40.5h3.6M149.7 40.5h3.6M20.7 43.5h3.6M152.7 43.5h3.6M17.7 46.5h3.6M155.7 46.5h3.6M14.7 49.5h3.6M158.7 49.5h3.6M11.7 52.5h3.6M161.7 52.5h3.6M8.7 55.5h3.6M5.7 58.5h3.6M164.7 58.5h3.6M2.7 61.5h3.6M-0.3 64.5h3.6M167.7 64.5h3.6M167.7 67.5h3.6M-3.3 76.5h3.6M74.7 76.5h3.6M89.7 76.5h3.6M-3.3 79.5h3.6M89.7 79.5h3.6M-3.3 82.5h3.6M-3.3 85.5h3.6M86.7 85.5h3.6M167.7 94.5h3.6M167.7 97.5h3.6M-0.3 100.5h3.6M167.7 100.5h3.6M-0.3 103.5h3.6M-0.3 106.5h3.6M164.7 109.5h3.6M2.7 112.5h3.6M161.7 115.5h3.6M5.7 118.5h3.6M158.7 121.5h3.6M8.7 124.5h3.6M155.7 124.5h3.6M11.7 127.5h3.6M14.7 130.5h3.6M17.7 133.5h3.6M146.7 133.5h3.6M20.7 136.5h3.6M143.7 136.5h3.6M26.7 139.5h3.6M137.7 139.5h3.6M32.7 142.5h3.6M131.7 142.5h3.6M38.7 145.5h6.6M125.7 145.5h3.6M47.7 148.5h9.6M77.7 148.5h12.6M113.7 148.5h6.6"/>
<path stroke="#fbfbfb" d="M71.7 -1.5h33.6M62.7 1.5h9.6M104.7 1.5h9.6M56.7 4.5h9.6M110.7 4.5h6.6M53.7 7.5h6.6M116.7 7.5h6.6M50.7 10.5h3.6M122.7 10.5h3.6M44.7 13.5h6.6M125.7 13.5h6.6M41.7 16.5h6.6M128.7 16.5h6.6M38.7 19.5h6.6M131.7 19.5h6.6M35.7 22.5h6.6M134.7 22.5h6.6M32.7 25.5h6.6M137.7 25.5h3.6M29.7 28.5h6.6M140.7 28.5h3.6M26.7 31.5h6.6M143.7 31.5h3.6M23.7 34.5h6.6M146.7 34.5h3.6M20.7 37.5h6.6M146.7 37.5h6.6M20.7 40.5h3.6M152.7 40.5h3.6M17.7 43.5h3.6M155.7 43.5h3.6M14.7 46.5h3.6M158.7 46.5h3.6M11.7 49.5h3.6M161.7 49.5h3.6M8.7 52.5h3.6M164.7 52.5h3.6M5.7 55.5h3.6M164.7 55.5h6.6M2.7 58.5h3.6M167.7 58.5h3.6M-0.3 61.5h3.6M167.7 61.5h3.6M-3.3 64.5h3.6M170.7 64.5h3.6M-3.3 67.5h3.6M170.7 67.5h3.6M-3.3 70.5h3.6M170.7 70.5h3.6M-6.3 73.5h6.6M77.7 73.5h12.6M170.7 73.5h3.6M-6.3 76.5h3.6M170.7 76.5h3.6M-6.3 79.5h3.6M170.7 79.5h3.6M-6.3 82.5h3.6M77.7 82.5h3.6M86.7 82.5h3.6M170.7 82.5h3.6M-6.3 85.5h3.6M80.7 85.5h6.6M170.7 85.5h3.6M-3.3 88.5h3.6M170.7 88.5h3.6M-3.3 91.5h3.6M170.7 91.5h3.6M-3.3 94.5h3.6M170.7 94.5h3.6M-3.3 97.5h3.6M170.7 97.5h3.6M-3.3 100.5h3.6M170.7 100.5h3.6M-3.3 103.5h3.6M167.7 103.5h6.6M-3.3 106.5h3.6M167.7 106.5h3.6M-0.3 109.5h3.6M167.7 109.5h3.6M-0.3 112.5h3.6M164.7 112.5h6.6M-0.3 115.5h6.6M164.7 115.5h3.6M2.7 118.5h3.6M161.7 118.5h6.6M2.7 121.5h6.6M161.7 121.5h3.6M5.7 124.5h3.6M158.7 124.5h3.6M8.7 127.5h3.6M155.7 127.5h6.6M8.7 130.5h6.6M152.7 130.5h6.6M11.7 133.5h6.6M149.7 133.5h6.6M17.7 136.5h3.6M146.7 136.5h6.6M20.7 139.5h6.6M140.7 139.5h6.6M26.7 142.5h6.6M134.7 142.5h9.6M29.7 145.5h9.6M128.7 145.5h9.6M38.7 148.5h9.6M119.7 148.5h9.6M47.7 151.5h72.6"/></g></g>
</g></g>
<rect x="182.7" y="0" width="7.2" height="159.0" fill="url(#cb)"/>
<rect x="191" y="158.50" width="2.5" height="1" fill="#3a3a3a"/><text class="t" x="196" y="161.90">0.00</text>
<rect x="191" y="142.42" width="2.5" height="1" fill="#3a3a3a"/><text class="t" x="196" y="145.82">0.11</text>
<rect x="191" y="126.34" width="2.5" height="1" fill="#3a3a3a"/><text class="t" x="196" y="129.74">0.22</text>
<rect x="191" y="110.26" width="2.5" height="1" fill="#3a3a3a"/><text class="t" x="196" y="113.66">0.33</text>
<rect x="191" y="94.18" width="2.5" height="1" fill="#3a3a3a"/><text class="t" x="196" y="97.58">0.44</text>
<rect x="191" y="78.09" width="2.5" height="1" fill="#3a3a3a"/><text class="t" x="196" y="81.49">0.55</text>
<rect x="191" y="62.01" width="2.5" height="1" fill="#3a3a3a"/><text class="t" x="196" y="65.41">0.67</text>
<rect x="191" y="45.93" width="2.5" height="1" fill="#3a3a3a"/><text class="t" x="196" y="49.33">0.78</text>
<rect x="191" y="29.85" width="2.5" height="1" fill="#3a3a3a"/><text class="t" x="196" y="33.25">0.89</text>
<rect x="191" y="13.77" width="2.5" height="1" fill="#3a3a3a"/><text class="t" x="196" y="17.17">1.00</text>
</g>
<g transform="translate(255.0,238.5)">
<g clip-path="url(#cp)"><g transform="translate(-0,-0.5)">
<g filter="url(#cm)"><g fill="none" stroke-width="3.6"><rect x="-11" y="-11" width="196" height="184" stroke="none" fill="#bbbbbb"/>
<path stroke="#080808" d="M77.7 25.5h15.6M80.7 28.5h6.6M23.7 88.5h6.6M137.7 88.5h9.6M23.7 91.5h9.6M134.7 91.5h12.6M23.7 94.5h12.6M131.7 94.5h12.6M23.7 97.5h15.6M128.7 97.5h15.6M26.7 100.5h15.6M125.7 100.5h18.6M26.7 103.5h18.6M125.7 103.5h18.6M26.7 106.5h18.6M122.7 106.5h18.6M29.7 109.5h15.6M122.7 109.5h15.6M32.7 112.5h15.6M119.7 112.5h15.6M35.7 115.5h12.6M119.7 115.5h12.6M38.7 118.5h9.6M119.7 118.5h9.6M44.7 121.5h3.6"/>
<path stroke="#0c0c0c" d="M80.7 22.5h12.6M74.7 25.5h3.6M92.7 25.5h6.6M74.7 28.5h6.6M86.7 28.5h9.6M80.7 31.5h6.6M20.7 85.5h9.6M137.7 85.5h12.6M20.7 88.5h3.6M29.7 88.5h3.6M134.7 88.5h3.6M146.7 88.5h3.6M20.7 91.5h3.6M32.7 91.5h3.6M131.7 91.5h3.6M20.7 94.5h3.6M35.7 94.5h3.6M128.7 94.5h3.6M143.7 94.5h3.6M38.7 97.5h3.6M125.7 97.5h3.6M143.7 97.5h3.6M23.7 100.5h3.6M41.7 100.5h3.6M122.7 100.5h3.6M143.7 100.5h3.6M23.7 103.5h3.6M122.7 103.5h3.6M44.7 106.5h3.6M119.7 106.5h3.6M140.7 106.5h3.6M26.7 109.5h3.6M44.7 109.5h3.6M119.7 109.5h3.6M137.7 109.5h3.6M29.7 112.5h3.6M47.7 112.5h3.6M134.7 112.5h3.6M32.7 115.5h3.6M47.7 115.5h3.6M116.7 115.5h3.6M131.7 115.5h6.6M35.7 118.5h3.6M47.7 118.5h3.6M116.7 118.5h3.6M128.7 118.5h3.6M38.7 121.5h6.6M47.7 121.5h3.6M116.7 121.5h12.6"/>
<path stroke="#101010" d="M74.7 22.5h6.6M92.7 22.5h6.6M71.7 25.5h3.6M98.7 25.5h3.6M68.7 28.5h6.6M95.7 28.5h6.6M71.7 31.5h9.6M86.7 31.5h9.6M20.7 82.5h6.6M140.7 82.5h9.6M29.7 85.5h3.6M134.7 85.5h3.6M32.7 88.5h3.6M131.7 88.5h3.6M35.7 91.5h3.6M128.7 91.5h3.6M146.7 91.5h3.6M38.7 94.5h3.6M125.7 94.5h3.6M146.7 94.5h3.6M20.7 97.5h3.6M41.7 97.5h3.6M122.7 97.5h3.6M146.7 97.5h3.6M20.7 100.5h3.6M44.7 100.5h3.6M119.7 100.5h3.6M44.7 103.5h3.6M119.7 103.5h3.6M143.7 103.5h3.6M23.7 106.5h3.6M47.7 106.5h3.6M116.7 106.5h3.6M47.7 109.5h3.6M116.7 109.5h3.6M140.7 109.5h3.6M26.7 112.5h3.6M116.7 112.5h3.6M137.7 112.5h3.6M29.7 115.5h3.6M32.7 118.5h3.6M131.7 118.5h3.6M35.7 121.5h3.6M128.7 121.5h3.6M41.7 124.5h9.6M116.7 124.5h9.6"/>
<path stroke="#141414" d="M83.7 19.5h6.6M98.7 22.5h3.6M68.7 25.5h3.6M101.7 25.5h3.6M101.7 28.5h3.6M68.7 31.5h3.6M95.7 31.5h3.6M74.7 34.5h18.6M20.7 79.5h6.6M140.7 79.5h9.6M26.7 82.5h3.6M137.7 82.5h3.6M17.7 85.5h3.6M32.7 85.5h3.6M131.7 85.5h3.6M17.7 88.5h3.6M35.7 88.5h3.6M128.7 88.5h3.6M38.7 91.5h3.6M125.7 91.5h3.6M41.7 94.5h3.6M122.7 94.5h3.6M44.7 97.5h3.6M119.7 97.5h3.6M146.7 100.5h3.6M20.7 103.5h3.6M47.7 103.5h3.6M116.7 103.5h3.6M143.7 106.5h3.6M23.7 109.5h3.6M50.7 109.5h3.6M50.7 112.5h3.6M113.7 112.5h3.6M50.7 115.5h3.6M113.7 115.5h3.6M137.7 115.5h3.6M50.7 118.5h3.6M113.7 118.5h3.6M134.7 118.5h3.6M50.7 121.5h3.6M113.7 121.5h3.6M50.7 124.5h3.6M113.7 124.5h3.6"/>
<path stroke="#181818" d="M80.7 19.5h3.6M89.7 19.5h6.6M71.7 22.5h3.6M65.7 28.5h3.6M65.7 31.5h3.6M98.7 31.5h6.6M71.7 34.5h3.6M92.7 34.5h6.6M143.7 76.5h6.6M26.7 79.5h3.6M137.7 79.5h3.6M17.7 82.5h3.6M29.7 82.5h3.6M134.7 82.5h3.6M149.7 82.5h3.6M35.7 85.5h3.6M149.7 85.5h3.6M38.7 88.5h3.6M125.7 88.5h3.6M149.7 88.5h3.6M17.7 91.5h3.6M41.7 91.5h3.6M122.7 91.5h3.6M17.7 94.5h3.6M44.7 94.5h3.6M119.7 94.5h3.6M47.7 100.5h3.6M116.7 100.5h3.6M146.7 103.5h3.6M20.7 106.5h3.6M50.7 106.5h3.6M113.7 106.5h3.6M113.7 109.5h3.6M143.7 109.5h3.6M23.7 112.5h3.6M140.7 112.5h3.6M26.7 115.5h3.6M29.7 118.5h3.6M53.7 118.5h3.6M32.7 121.5h3.6M53.7 121.5h3.6M131.7 121.5h3.6M38.7 124.5h3.6M125.7 124.5h3.6M44.7 127.5h9.6M116.7 127.5h6.6"/>
<path stroke="#1c1c1c" d="M77.7 19.5h3.6M101.7 22.5h3.6M65.7 25.5h3.6M104.7 25.5h3.6M104.7 28.5h3.6M68.7 34.5h3.6M98.7 34.5h3.6M74.7 37.5h18.6M20.7 76.5h6.6M140.7 76.5h3.6M17.7 79.5h3.6M29.7 79.5h3.6M149.7 79.5h3.6M32.7 82.5h3.6M131.7 82.5h3.6M128.7 85.5h3.6M149.7 91.5h3.6M17.7 97.5h3.6M47.7 97.5h3.6M116.7 97.5h3.6M50.7 103.5h3.6M113.7 103.5h3.6M53.7 112.5h3.6M110.7 112.5h3.6M53.7 115.5h3.6M110.7 115.5h3.6M110.7 118.5h3.6M110.7 121.5h3.6M53.7 124.5h3.6M110.7 124.5h3.6M113.7 127.5h3.6"/>
<path stroke="#202020" d="M74.7 19.5h3.6M95.7 19.5h3.6M68.7 22.5h3.6M62.7 28.5h3.6M107.7 28.5h3.6M62.7 31.5h3.6M104.7 31.5h3.6M65.7 34.5h3.6M101.7 34.5h3.6M71.7 37.5h3.6M92.7 37.5h3.6M143.7 73.5h6.6M17.7 76.5h3.6M26.7 76.5h3.6M137.7 76.5h3.6M149.7 76.5h3.6M134.7 79.5h3.6M35.7 82.5h3.6M38.7 85.5h3.6M125.7 85.5h3.6M41.7 88.5h3.6M122.7 88.5h3.6M44.7 91.5h3.6M119.7 91.5h3.6M47.7 94.5h3.6M116.7 94.5h3.6M149.7 94.5h3.6M149.7 97.5h3.6M17.7 100.5h3.6M50.7 100.5h3.6M113.7 100.5h3.6M53.7 106.5h3.6M110.7 106.5h3.6M146.7 106.5h3.6M20.7 109.5h3.6M53.7 109.5h3.6M110.7 109.5h3.6M35.7 124.5h3.6M128.7 124.5h3.6M41.7 127.5h3.6M53.7 127.5h3.6M110.7 127.5h3.6M122.7 127.5h3.6"/>
<path stroke="#242424" d="M98.7 19.5h3.6M107.7 25.5h3.6M107.7 31.5h3.6M62.7 34.5h3.6M68.7 37.5h3.6M95.7 37.5h3.6M77.7 40.5h12.6M17.7 73.5h9.6M140.7 73.5h3.6M32.7 79.5h3.6M131.7 79.5h3.6M128.7 82.5h3.6M44.7 88.5h3.6M50.7 97.5h3.6M113.7 97.5h3.6M53.7 103.5h3.6M110.7 103.5h3.6M56.7 115.5h3.6M140.7 115.5h3.6M26.7 118.5h3.6M56.7 118.5h3.6M107.7 118.5h3.6M137.7 118.5h3.6M56.7 121.5h3.6M107.7 121.5h3.6M134.7 121.5h3.6M56.7 124.5h3.6M107.7 124.5h3.6"/>
<path stroke="#282828" d="M104.7 22.5h3.6M59.7 31.5h3.6M104.7 34.5h3.6M65.7 37.5h3.6M98.7 37.5h3.6M71.7 40.5h6.6M89.7 40.5h6.6M146.7 70.5h3.6M149.7 73.5h3.6M29.7 76.5h3.6M134.7 76.5h3.6M14.7 82.5h3.6M38.7 82.5h3.6M125.7 82.5h3.6M14.7 85.5h3.6M41.7 85.5h3.6M122.7 85.5h3.6M14.7 88.5h3.6M119.7 88.5h3.6M47.7 91.5h3.6M116.7 91.5h3.6M50.7 94.5h3.6M53.7 100.5h3.6M110.7 100.5h3.6M149.7 100.5h3.6M17.7 103.5h3.6M56.7 109.5h3.6M56.7 112.5h3.6M107.7 112.5h3.6M143.7 112.5h3.6M23.7 115.5h3.6M107.7 115.5h3.6M29.7 121.5h3.6M56.7 127.5h3.6M107.7 127.5h3.6M125.7 127.5h3.6M50.7 130.5h6.6M113.7 130.5h3.6"/>
<path stroke="#2c2c2c" d="M83.7 16.5h9.6M71.7 19.5h3.6M62.7 25.5h3.6M110.7 28.5h3.6M110.7 31.5h3.6M59.7 34.5h3.6M107.7 34.5h3.6M62.7 37.5h3.6M101.7 37.5h3.6M68.7 40.5h3.6M95.7 40.5h3.6M20.7 70.5h3.6M143.7 70.5h3.6M26.7 73.5h3.6M137.7 73.5h3.6M32.7 76.5h3.6M14.7 79.5h3.6M35.7 79.5h3.6M128.7 79.5h3.6M14.7 91.5h3.6M113.7 94.5h3.6M53.7 97.5h3.6M56.7 106.5h3.6M107.7 106.5h3.6M107.7 109.5h3.6M32.7 124.5h3.6M131.7 124.5h3.6M38.7 127.5h3.6M47.7 130.5h3.6M110.7 130.5h3.6M116.7 130.5h3.6"/>
<path stroke="#303030" d="M80.7 16.5h3.6M92.7 16.5h3.6M101.7 19.5h3.6M65.7 22.5h3.6M59.7 28.5h3.6M104.7 37.5h3.6M98.7 40.5h3.6M77.7 43.5h12.6M17.7 70.5h3.6M23.7 70.5h3.6M140.7 70.5h3.6M149.7 70.5h3.6M29.7 73.5h3.6M14.7 76.5h3.6M131.7 76.5h3.6M152.7 79.5h3.6M41.7 82.5h3.6M122.7 82.5h3.6M152.7 82.5h3.6M44.7 85.5h3.6M119.7 85.5h3.6M152.7 85.5h3.6M47.7 88.5h3.6M116.7 88.5h3.6M50.7 91.5h3.6M113.7 91.5h3.6M14.7 94.5h3.6M110.7 97.5h3.6M56.7 103.5h3.6M107.7 103.5h3.6M149.7 103.5h3.6M17.7 106.5h3.6M146.7 109.5h3.6M20.7 112.5h3.6M59.7 118.5h3.6M59.7 121.5h3.6M104.7 121.5h3.6M59.7 124.5h3.6M104.7 124.5h3.6M44.7 130.5h3.6M56.7 130.5h3.6M107.7 130.5h3.6M119.7 130.5h3.6"/>
<path stroke="#343434" d="M77.7 16.5h3.6M110.7 25.5h3.6M56.7 34.5h3.6M110.7 34.5h3.6M59.7 37.5h3.6M65.7 40.5h3.6M71.7 43.5h6.6M89.7 43.5h6.6M143.7 67.5h6.6M26.7 70.5h3.6M14.7 73.5h3.6M134.7 73.5h3.6M35.7 76.5h3.6M152.7 76.5h3.6M38.7 79.5h3.6M125.7 79.5h3.6M152.7 88.5h3.6M53.7 94.5h3.6M110.7 94.5h3.6M56.7 100.5h3.6M107.7 100.5h3.6M59.7 112.5h3.6M59.7 115.5h3.6M104.7 115.5h3.6M104.7 118.5h3.6M59.7 127.5h3.6M104.7 127.5h3.6"/>
<path stroke="#383838" d="M107.7 22.5h3.6M113.7 28.5h3.6M56.7 31.5h3.6M113.7 31.5h3.6M107.7 37.5h3.6M62.7 40.5h3.6M101.7 40.5h3.6M20.7 67.5h3.6M137.7 70.5h3.6M32.7 73.5h3.6M128.7 76.5h3.6M44.7 82.5h3.6M47.7 85.5h3.6M116.7 85.5h3.6M50.7 88.5h3.6M152.7 91.5h3.6M14.7 97.5h3.6M56.7 97.5h3.6M59.7 106.5h3.6M59.7 109.5h3.6M104.7 109.5h3.6M104.7 112.5h3.6M140.7 118.5h3.6M137.7 121.5h3.6M128.7 127.5h3.6M59.7 130.5h3.6"/>
<path stroke="#3c3c3c" d="M95.7 16.5h3.6M68.7 19.5h3.6M113.7 34.5h3.6M56.7 37.5h3.6M68.7 43.5h3.6M95.7 43.5h3.6M80.7 46.5h9.6M17.7 67.5h3.6M23.7 67.5h3.6M140.7 67.5h3.6M149.7 67.5h3.6M131.7 73.5h3.6M152.7 73.5h3.6M41.7 79.5h3.6M122.7 79.5h3.6M119.7 82.5h3.6M113.7 88.5h3.6M53.7 91.5h3.6M110.7 91.5h3.6M152.7 94.5h3.6M107.7 97.5h3.6M59.7 103.5h3.6M104.7 106.5h3.6M143.7 115.5h3.6M23.7 118.5h3.6M26.7 121.5h3.6M35.7 127.5h3.6M104.7 130.5h3.6M122.7 130.5h3.6"/>
<path stroke="#404040" d="M74.7 16.5h3.6M110.7 37.5h3.6M59.7 40.5h3.6M104.7 40.5h3.6M65.7 43.5h3.6M98.7 43.5h3.6M74.7 46.5h6.6M89.7 46.5h3.6M146.7 64.5h3.6M14.7 70.5h3.6M29.7 70.5h3.6M134.7 70.5h3.6M38.7 76.5h3.6M125.7 76.5h3.6M56.7 94.5h3.6M14.7 100.5h3.6M104.7 103.5h3.6M149.7 106.5h3.6M17.7 109.5h3.6M62.7 118.5h3.6M62.7 121.5h3.6M62.7 124.5h3.6M101.7 124.5h3.6M134.7 124.5h3.6M62.7 127.5h3.6M41.7 130.5h3.6"/>
<path stroke="#444444" d="M104.7 19.5h3.6M62.7 22.5h3.6M59.7 25.5h3.6M56.7 28.5h3.6M116.7 31.5h3.6M53.7 34.5h3.6M53.7 37.5h3.6M107.7 40.5h3.6M71.7 46.5h3.6M92.7 46.5h3.6M143.7 64.5h3.6M26.7 67.5h3.6M137.7 67.5h3.6M152.7 70.5h3.6M35.7 73.5h3.6M128.7 73.5h3.6M47.7 82.5h3.6M116.7 82.5h3.6M50.7 85.5h3.6M113.7 85.5h3.6M53.7 88.5h3.6M107.7 94.5h3.6M152.7 97.5h3.6M59.7 100.5h3.6M104.7 100.5h3.6M62.7 112.5h3.6M146.7 112.5h3.6M20.7 115.5h3.6M62.7 115.5h3.6M101.7 115.5h3.6M101.7 118.5h3.6M101.7 121.5h3.6M29.7 124.5h3.6M101.7 127.5h3.6M62.7 130.5h3.6M53.7 133.5h6.6M107.7 133.5h6.6"/>
<path stroke="#484848" d="M98.7 16.5h3.6M116.7 34.5h3.6M113.7 37.5h3.6M56.7 40.5h3.6M62.7 43.5h3.6M101.7 43.5h3.6M95.7 46.5h3.6M149.7 64.5h3.6M32.7 70.5h3.6M131.7 70.5h3.6M41.7 76.5h3.6M44.7 79.5h3.6M119.7 79.5h3.6M110.7 88.5h3.6M59.7 97.5h3.6M14.7 103.5h3.6M62.7 109.5h3.6M101.7 109.5h3.6M101.7 112.5h3.6M101.7 130.5h3.6M50.7 133.5h3.6M59.7 133.5h3.6M104.7 133.5h3.6M113.7 133.5h3.6"/>
<path stroke="#4c4c4c" d="M113.7 25.5h3.6M53.7 31.5h3.6M68.7 46.5h3.6M80.7 49.5h6.6M20.7 64.5h6.6M140.7 64.5h3.6M29.7 67.5h3.6M38.7 73.5h3.6M122.7 76.5h3.6M11.7 82.5h3.6M56.7 91.5h3.6M107.7 91.5h3.6M104.7 97.5h3.6M152.7 100.5h3.6M62.7 106.5h3.6M101.7 106.5h3.6M125.7 130.5h3.6"/>
<path stroke="#505050" d="M71.7 16.5h3.6M110.7 22.5h3.6M116.7 28.5h3.6M116.7 37.5h3.6M53.7 40.5h3.6M110.7 40.5h3.6M59.7 43.5h3.6M104.7 43.5h3.6M65.7 46.5h3.6M98.7 46.5h3.6M77.7 49.5h3.6M86.7 49.5h6.6M146.7 61.5h3.6M14.7 67.5h3.6M134.7 67.5h3.6M152.7 67.5h3.6M125.7 73.5h3.6M11.7 79.5h3.6M50.7 82.5h3.6M11.7 85.5h3.6M53.7 85.5h3.6M11.7 88.5h3.6M59.7 94.5h3.6M62.7 103.5h3.6M101.7 103.5h3.6M32.7 127.5h3.6M131.7 127.5h3.6M38.7 130.5h3.6M47.7 133.5h3.6M62.7 133.5h3.6M116.7 133.5h3.6"/>
<path stroke="#545454" d="M83.7 13.5h6.6M65.7 19.5h3.6M50.7 34.5h3.6M119.7 34.5h3.6M50.7 37.5h3.6M74.7 49.5h3.6M92.7 49.5h3.6M143.7 61.5h3.6M17.7 64.5h3.6M26.7 64.5h3.6M137.7 64.5h3.6M35.7 70.5h3.6M128.7 70.5h3.6M11.7 76.5h3.6M44.7 76.5h3.6M47.7 79.5h3.6M116.7 79.5h3.6M113.7 82.5h3.6M110.7 85.5h3.6M56.7 88.5h3.6M104.7 94.5h3.6M62.7 100.5h3.6M149.7 109.5h3.6M17.7 112.5h3.6M65.7 118.5h3.6M65.7 121.5h3.6M98.7 121.5h3.6M65.7 124.5h3.6M98.7 124.5h3.6M65.7 127.5h3.6M98.7 127.5h3.6M101.7 133.5h3.6"/>
<path stroke="#585858" d="M89.7 13.5h3.6M119.7 31.5h3.6M113.7 40.5h3.6M56.7 43.5h3.6M107.7 43.5h3.6M62.7 46.5h3.6M101.7 46.5h3.6M71.7 49.5h3.6M32.7 67.5h3.6M131.7 67.5h3.6M11.7 73.5h3.6M41.7 73.5h3.6M119.7 76.5h3.6M107.7 88.5h3.6M11.7 91.5h3.6M101.7 100.5h3.6M152.7 103.5h3.6M14.7 106.5h3.6M65.7 112.5h3.6M65.7 115.5h3.6M98.7 115.5h3.6M98.7 118.5h3.6M143.7 118.5h3.6M140.7 121.5h3.6M65.7 130.5h3.6M98.7 130.5h3.6"/>
<path stroke="#5c5c5c" d="M80.7 13.5h3.6M101.7 16.5h3.6M107.7 19.5h3.6M119.7 37.5h3.6M50.7 40.5h3.6M68.7 49.5h3.6M95.7 49.5h3.6M140.7 61.5h3.6M149.7 61.5h3.6M29.7 64.5h3.6M38.7 70.5h3.6M122.7 73.5h3.6M155.7 79.5h3.6M155.7 82.5h3.6M155.7 85.5h3.6M59.7 91.5h3.6M104.7 91.5h3.6M11.7 94.5h3.6M62.7 97.5h3.6M65.7 109.5h3.6M98.7 112.5h3.6M23.7 121.5h3.6M44.7 133.5h3.6M119.7 133.5h3.6"/>
<path stroke="#606060" d="M92.7 13.5h3.6M116.7 40.5h3.6M53.7 43.5h3.6M110.7 43.5h3.6M59.7 46.5h3.6M104.7 46.5h3.6M80.7 52.5h6.6M134.7 64.5h3.6M125.7 70.5h3.6M47.7 76.5h3.6M155.7 76.5h3.6M50.7 79.5h3.6M113.7 79.5h3.6M53.7 82.5h3.6M110.7 82.5h3.6M56.7 85.5h3.6M155.7 88.5h3.6M101.7 97.5h3.6M65.7 106.5h3.6M98.7 109.5h3.6M146.7 115.5h3.6M20.7 118.5h3.6M137.7 124.5h3.6M65.7 133.5h3.6M98.7 133.5h3.6"/>
<path stroke="#646464" d="M77.7 13.5h3.6M56.7 25.5h3.6M53.7 28.5h3.6M47.7 37.5h3.6M65.7 49.5h3.6M98.7 49.5h3.6M74.7 52.5h6.6M86.7 52.5h6.6M143.7 58.5h6.6M23.7 61.5h3.6M137.7 61.5h3.6M152.7 64.5h3.6M35.7 67.5h3.6M128.7 67.5h3.6M11.7 70.5h3.6M44.7 73.5h3.6M116.7 76.5h3.6M107.7 85.5h3.6M62.7 94.5h3.6M11.7 97.5h3.6M65.7 103.5h3.6M98.7 106.5h3.6M26.7 124.5h3.6M128.7 130.5h3.6"/>
<path stroke="#686868" d="M68.7 16.5h3.6M59.7 22.5h3.6M50.7 31.5h3.6M122.7 34.5h3.6M122.7 37.5h3.6M47.7 40.5h3.6M50.7 43.5h3.6M113.7 43.5h3.6M56.7 46.5h3.6M107.7 46.5h3.6M20.7 61.5h3.6M26.7 61.5h3.6M32.7 64.5h3.6M41.7 70.5h3.6M119.7 73.5h3.6M155.7 73.5h3.6M59.7 88.5h3.6M104.7 88.5h3.6M155.7 91.5h3.6M101.7 94.5h3.6M98.7 103.5h3.6M35.7 130.5h3.6M59.7 136.5h3.6M104.7 136.5h3.6"/>
<path stroke="#6c6c6c" d="M95.7 13.5h3.6M116.7 25.5h3.6M119.7 28.5h3.6M119.7 40.5h3.6M62.7 49.5h3.6M101.7 49.5h3.6M71.7 52.5h3.6M92.7 52.5h3.6M140.7 58.5h3.6M131.7 64.5h3.6M122.7 70.5h3.6M155.7 94.5h3.6M65.7 100.5h3.6M98.7 100.5h3.6M152.7 106.5h3.6M14.7 109.5h3.6M68.7 118.5h3.6M68.7 121.5h3.6M95.7 121.5h3.6M68.7 124.5h3.6M95.7 124.5h3.6M68.7 127.5h3.6M95.7 127.5h3.6M134.7 127.5h3.6M68.7 130.5h3.6M95.7 130.5h3.6M122.7 133.5h3.6M56.7 136.5h3.6M62.7 136.5h3.6M101.7 136.5h3.6M107.7 136.5h3.6"/>
<path stroke="#707070" d="M113.7 22.5h3.6M47.7 34.5h3.6M68.7 52.5h3.6M95.7 52.5h3.6M149.7 58.5h3.6M29.7 61.5h3.6M134.7 61.5h3.6M14.7 64.5h3.6M38.7 67.5h3.6M125.7 67.5h3.6M155.7 70.5h3.6M50.7 76.5h3.6M113.7 76.5h3.6M53.7 79.5h3.6M110.7 79.5h3.6M56.7 82.5h3.6M62.7 91.5h3.6M101.7 91.5h3.6M65.7 97.5h3.6M11.7 100.5h3.6M68.7 112.5h3.6M149.7 112.5h3.6M17.7 115.5h3.6M68.7 115.5h3.6M95.7 115.5h3.6M95.7 118.5h3.6M29.7 127.5h3.6M41.7 133.5h3.6M68.7 133.5h3.6M53.7 136.5h3.6M110.7 136.5h3.6"/>
<path stroke="#747474" d="M74.7 13.5h3.6M104.7 16.5h3.6M62.7 19.5h3.6M122.7 31.5h3.6M44.7 40.5h3.6M122.7 40.5h3.6M47.7 43.5h3.6M116.7 43.5h3.6M53.7 46.5h3.6M110.7 46.5h3.6M59.7 49.5h3.6M104.7 49.5h3.6M137.7 58.5h3.6M35.7 64.5h3.6M128.7 64.5h3.6M47.7 73.5h3.6M116.7 73.5h3.6M107.7 82.5h3.6M59.7 85.5h3.6M98.7 97.5h3.6M68.7 109.5h3.6M95.7 109.5h3.6M95.7 112.5h3.6M95.7 133.5h3.6M65.7 136.5h3.6M98.7 136.5h3.6"/>
<path stroke="#787878" d="M44.7 37.5h3.6M125.7 37.5h3.6M65.7 52.5h3.6M98.7 52.5h3.6M77.7 55.5h12.6M143.7 55.5h6.6M32.7 61.5h3.6M152.7 61.5h3.6M11.7 67.5h3.6M44.7 70.5h3.6M119.7 70.5h3.6M104.7 85.5h3.6M155.7 97.5h3.6M68.7 106.5h3.6M95.7 106.5h3.6M50.7 136.5h3.6M113.7 136.5h3.6"/>
<path stroke="#7c7c7c" d="M110.7 19.5h3.6M44.7 43.5h3.6M119.7 43.5h3.6M50.7 46.5h3.6M113.7 46.5h3.6M56.7 49.5h3.6M107.7 49.5h3.6M74.7 55.5h3.6M89.7 55.5h3.6M140.7 55.5h3.6M26.7 58.5h3.6M131.7 61.5h3.6M41.7 67.5h3.6M122.7 67.5h3.6M62.7 88.5h3.6M101.7 88.5h3.6M65.7 94.5h3.6M98.7 94.5h3.6M68.7 103.5h3.6"/>
<path stroke="#808080" d="M98.7 13.5h3.6M125.7 34.5h3.6M125.7 40.5h3.6M62.7 52.5h3.6M101.7 52.5h3.6M71.7 55.5h3.6M92.7 55.5h3.6M23.7 58.5h3.6M29.7 58.5h3.6M134.7 58.5h3.6M17.7 61.5h3.6M38.7 64.5h3.6M125.7 64.5h3.6M155.7 67.5h3.6M50.7 73.5h3.6M53.7 76.5h3.6M110.7 76.5h3.6M56.7 79.5h3.6M107.7 79.5h3.6M68.7 100.5h3.6M155.7 100.5h3.6M11.7 103.5h3.6M95.7 103.5h3.6M143.7 121.5h3.6M131.7 130.5h3.6M125.7 133.5h3.6M68.7 136.5h3.6M95.7 136.5h3.6"/>
<path stroke="#838383" d="M41.7 40.5h3.6M122.7 43.5h3.6M47.7 46.5h3.6M116.7 46.5h3.6M53.7 49.5h3.6M110.7 49.5h3.6M95.7 55.5h3.6M137.7 55.5h3.6M35.7 61.5h3.6M47.7 70.5h3.6M116.7 70.5h3.6M113.7 73.5h3.6M8.7 82.5h3.6M59.7 82.5h3.6M104.7 82.5h3.6M65.7 91.5h3.6M95.7 100.5h3.6M152.7 109.5h3.6M14.7 112.5h3.6M146.7 118.5h3.6M20.7 121.5h3.6M71.7 124.5h3.6M92.7 124.5h3.6M140.7 124.5h3.6M71.7 127.5h3.6M92.7 127.5h3.6M32.7 130.5h3.6M71.7 130.5h3.6M92.7 130.5h3.6M38.7 133.5h3.6M47.7 136.5h3.6M116.7 136.5h3.6"/>
<path stroke="#878787" d="M71.7 13.5h3.6M65.7 16.5h3.6M41.7 43.5h3.6M59.7 52.5h3.6M104.7 52.5h3.6M143.7 52.5h3.6M68.7 55.5h3.6M32.7 58.5h3.6M128.7 61.5h3.6M44.7 67.5h3.6M119.7 67.5h3.6M8.7 76.5h3.6M8.7 79.5h3.6M8.7 85.5h3.6M62.7 85.5h3.6M8.7 88.5h3.6M98.7 91.5h3.6M68.7 97.5h3.6M71.7 115.5h3.6M92.7 115.5h3.6M71.7 118.5h3.6M92.7 118.5h3.6M71.7 121.5h3.6M92.7 121.5h3.6M23.7 124.5h3.6M71.7 133.5h3.6M92.7 133.5h3.6"/>
<path stroke="#8b8b8b" d="M86.7 10.5h3.6M56.7 22.5h3.6M53.7 25.5h3.6M50.7 28.5h3.6M47.7 31.5h3.6M128.7 37.5h3.6M128.7 40.5h3.6M125.7 43.5h3.6M44.7 46.5h3.6M119.7 46.5h3.6M50.7 49.5h3.6M113.7 49.5h3.6M140.7 52.5h3.6M29.7 55.5h3.6M65.7 55.5h3.6M98.7 55.5h3.6M131.7 58.5h3.6M41.7 64.5h3.6M122.7 64.5h3.6M8.7 73.5h3.6M101.7 85.5h3.6M8.7 91.5h3.6M95.7 97.5h3.6M155.7 103.5h3.6M11.7 106.5h3.6M71.7 109.5h3.6M71.7 112.5h3.6M92.7 112.5h3.6M149.7 115.5h3.6M17.7 118.5h3.6M26.7 127.5h3.6M137.7 127.5h3.6"/>
<path stroke="#8f8f8f" d="M83.7 10.5h3.6M89.7 10.5h3.6M101.7 13.5h3.6M107.7 16.5h3.6M116.7 22.5h3.6M119.7 25.5h3.6M122.7 28.5h3.6M44.7 34.5h3.6M38.7 43.5h3.6M41.7 46.5h3.6M56.7 52.5h3.6M107.7 52.5h3.6M137.7 52.5h3.6M26.7 55.5h3.6M134.7 55.5h3.6M149.7 55.5h3.6M35.7 58.5h3.6M77.7 58.5h12.6M38.7 61.5h3.6M125.7 61.5h3.6M155.7 64.5h3.6M50.7 70.5h3.6M53.7 73.5h3.6M110.7 73.5h3.6M56.7 76.5h3.6M107.7 76.5h3.6M59.7 79.5h3.6M158.7 79.5h3.6M158.7 82.5h3.6M65.7 88.5h3.6M68.7 94.5h3.6M71.7 106.5h3.6M92.7 109.5h3.6M44.7 136.5h3.6M71.7 136.5h3.6M92.7 136.5h3.6M119.7 136.5h3.6"/>
<path stroke="#939393" d="M80.7 10.5h3.6M59.7 19.5h3.6M41.7 37.5h3.6M128.7 43.5h3.6M122.7 46.5h3.6M47.7 49.5h3.6M116.7 49.5h3.6M146.7 52.5h3.6M32.7 55.5h3.6M62.7 55.5h3.6M101.7 55.5h3.6M20.7 58.5h3.6M74.7 58.5h3.6M89.7 58.5h3.6M128.7 58.5h3.6M152.7 58.5h3.6M47.7 67.5h3.6M116.7 67.5h3.6M8.7 70.5h3.6M113.7 70.5h3.6M158.7 76.5h3.6M104.7 79.5h3.6M158.7 85.5h3.6M98.7 88.5h3.6M158.7 88.5h3.6M8.7 94.5h3.6M95.7 94.5h3.6M71.7 103.5h3.6M92.7 106.5h3.6M128.7 133.5h3.6"/>
<path stroke="#979797" d="M92.7 10.5h3.6M113.7 19.5h3.6M125.7 31.5h3.6M38.7 40.5h3.6M131.7 40.5h3.6M131.7 43.5h3.6M38.7 46.5h3.6M125.7 46.5h3.6M44.7 49.5h3.6M137.7 49.5h6.6M29.7 52.5h6.6M53.7 52.5h3.6M110.7 52.5h3.6M134.7 52.5h3.6M35.7 55.5h3.6M104.7 55.5h3.6M131.7 55.5h3.6M38.7 58.5h3.6M71.7 58.5h3.6M92.7 58.5h3.6M41.7 61.5h3.6M11.7 64.5h3.6M44.7 64.5h3.6M119.7 64.5h3.6M158.7 73.5h3.6M62.7 82.5h3.6M101.7 82.5h3.6M158.7 91.5h3.6M8.7 97.5h3.6M92.7 103.5h3.6M155.7 106.5h3.6M11.7 109.5h3.6M152.7 112.5h3.6M14.7 115.5h3.6M29.7 130.5h3.6M134.7 130.5h3.6M35.7 133.5h3.6M56.7 139.5h12.6M98.7 139.5h12.6"/>
<path stroke="#9b9b9b" d="M77.7 10.5h3.6M68.7 13.5h3.6M35.7 46.5h3.6M128.7 46.5h9.6M32.7 49.5h12.6M119.7 49.5h3.6M134.7 49.5h3.6M35.7 52.5h3.6M50.7 52.5h3.6M113.7 52.5h3.6M59.7 55.5h3.6M68.7 58.5h3.6M95.7 58.5h3.6M125.7 58.5h3.6M14.7 61.5h3.6M122.7 61.5h3.6M65.7 85.5h3.6M68.7 91.5h3.6M158.7 94.5h3.6M8.7 100.5h3.6M71.7 100.5h3.6M92.7 100.5h3.6M89.7 127.5h3.6M89.7 130.5h3.6M89.7 133.5h3.6M41.7 136.5h3.6M122.7 136.5h3.6M53.7 139.5h3.6M110.7 139.5h3.6"/>
<path stroke="#9f9f9f" d="M95.7 10.5h3.6M104.7 13.5h3.6M62.7 16.5h3.6M110.7 16.5h3.6M128.7 34.5h3.6M35.7 43.5h3.6M134.7 43.5h3.6M137.7 46.5h3.6M122.7 49.5h3.6M131.7 49.5h3.6M143.7 49.5h3.6M38.7 52.5h3.6M47.7 52.5h3.6M131.7 52.5h3.6M38.7 55.5h3.6M56.7 55.5h3.6M107.7 55.5h3.6M128.7 55.5h3.6M41.7 58.5h3.6M65.7 58.5h3.6M98.7 58.5h3.6M44.7 61.5h3.6M155.7 61.5h3.6M47.7 64.5h3.6M8.7 67.5h3.6M50.7 67.5h3.6M113.7 67.5h3.6M53.7 70.5h3.6M110.7 70.5h3.6M158.7 70.5h3.6M56.7 73.5h3.6M107.7 73.5h3.6M59.7 76.5h3.6M98.7 85.5h3.6M95.7 91.5h3.6M71.7 97.5h3.6M158.7 97.5h3.6M89.7 118.5h3.6M149.7 118.5h3.6M17.7 121.5h3.6M74.7 121.5h3.6M89.7 121.5h3.6M146.7 121.5h3.6M20.7 124.5h3.6M74.7 124.5h3.6M89.7 124.5h3.6M143.7 124.5h3.6M23.7 127.5h3.6M74.7 127.5h3.6M140.7 127.5h3.6M74.7 130.5h3.6M74.7 133.5h3.6M131.7 133.5h3.6M50.7 139.5h3.6M68.7 139.5h3.6M95.7 139.5h3.6M113.7 139.5h3.6"/>
<path stroke="#a3a3a3" d="M74.7 10.5h3.6M98.7 10.5h3.6M32.7 46.5h3.6M125.7 49.5h6.6M41.7 52.5h6.6M116.7 52.5h3.6M128.7 52.5h3.6M23.7 55.5h3.6M41.7 55.5h3.6M53.7 55.5h3.6M110.7 55.5h3.6M125.7 55.5h3.6M62.7 58.5h3.6M101.7 58.5h3.6M122.7 58.5h3.6M119.7 61.5h3.6M116.7 64.5h3.6M158.7 67.5h3.6M104.7 76.5h3.6M62.7 79.5h3.6M92.7 97.5h3.6M158.7 100.5h3.6M8.7 103.5h3.6M155.7 109.5h3.6M11.7 112.5h3.6M74.7 112.5h3.6M89.7 112.5h3.6M74.7 115.5h3.6M89.7 115.5h3.6M152.7 115.5h3.6M14.7 118.5h3.6M74.7 118.5h3.6M26.7 130.5h3.6M137.7 130.5h3.6M32.7 133.5h3.6M38.7 136.5h3.6M74.7 136.5h3.6M89.7 136.5h3.6M125.7 136.5h3.6M47.7 139.5h3.6M116.7 139.5h3.6"/>
<path stroke="#a7a7a7" d="M86.7 7.5h3.6M71.7 10.5h3.6M101.7 10.5h3.6M65.7 13.5h3.6M107.7 13.5h3.6M59.7 16.5h3.6M56.7 19.5h3.6M116.7 19.5h3.6M53.7 22.5h3.6M119.7 22.5h3.6M50.7 25.5h3.6M122.7 25.5h3.6M47.7 28.5h3.6M44.7 31.5h3.6M131.7 37.5h3.6M29.7 49.5h3.6M26.7 52.5h3.6M119.7 52.5h9.6M44.7 55.5h9.6M113.7 55.5h3.6M122.7 55.5h3.6M44.7 58.5h3.6M59.7 58.5h3.6M104.7 58.5h3.6M47.7 61.5h3.6M77.7 61.5h15.6M50.7 64.5h3.6M53.7 67.5h3.6M5.7 73.5h3.6M5.7 76.5h3.6M5.7 79.5h3.6M101.7 79.5h3.6M161.7 79.5h3.6M5.7 82.5h3.6M161.7 82.5h3.6M5.7 85.5h3.6M161.7 85.5h3.6M5.7 88.5h3.6M68.7 88.5h3.6M5.7 91.5h3.6M5.7 94.5h3.6M71.7 94.5h3.6M158.7 103.5h3.6M8.7 106.5h3.6M74.7 106.5h3.6M89.7 106.5h3.6M74.7 109.5h3.6M89.7 109.5h3.6M155.7 112.5h3.6M11.7 115.5h3.6M146.7 124.5h3.6M134.7 133.5h3.6M128.7 136.5h3.6M44.7 139.5h3.6M71.7 139.5h3.6M92.7 139.5h3.6M119.7 139.5h3.6"/>
<path stroke="#ababab" d="M74.7 7.5h12.6M89.7 7.5h9.6M68.7 10.5h3.6M104.7 10.5h3.6M62.7 13.5h3.6M110.7 13.5h3.6M113.7 16.5h3.6M53.7 19.5h3.6M50.7 22.5h3.6M125.7 28.5h3.6M41.7 34.5h3.6M38.7 37.5h3.6M134.7 40.5h3.6M140.7 46.5h3.6M149.7 52.5h3.6M116.7 55.5h6.6M152.7 55.5h3.6M17.7 58.5h3.6M47.7 58.5h3.6M56.7 58.5h3.6M107.7 58.5h3.6M116.7 58.5h6.6M155.7 58.5h3.6M71.7 61.5h6.6M92.7 61.5h3.6M116.7 61.5h3.6M8.7 64.5h3.6M113.7 64.5h3.6M158.7 64.5h3.6M5.7 67.5h3.6M110.7 67.5h3.6M5.7 70.5h3.6M56.7 70.5h3.6M107.7 70.5h3.6M161.7 70.5h3.6M59.7 73.5h3.6M161.7 73.5h3.6M161.7 76.5h3.6M65.7 82.5h3.6M98.7 82.5h3.6M95.7 88.5h3.6M161.7 88.5h3.6M161.7 91.5h3.6M92.7 94.5h3.6M161.7 94.5h3.6M5.7 97.5h3.6M161.7 97.5h3.6M5.7 100.5h3.6M74.7 103.5h3.6M89.7 103.5h3.6M158.7 106.5h3.6M8.7 109.5h3.6M152.7 118.5h3.6M14.7 121.5h3.6M149.7 121.5h3.6M17.7 124.5h3.6M20.7 127.5h3.6M143.7 127.5h3.6M23.7 130.5h3.6M140.7 130.5h3.6M29.7 133.5h3.6M35.7 136.5h3.6M131.7 136.5h3.6M41.7 139.5h3.6M122.7 139.5h3.6M53.7 142.5h9.6M104.7 142.5h9.6"/>
<path stroke="#afafaf" d="M83.7 4.5h9.6M71.7 7.5h3.6M98.7 7.5h6.6M65.7 10.5h3.6M107.7 10.5h3.6M59.7 13.5h3.6M113.7 13.5h3.6M56.7 16.5h3.6M116.7 16.5h3.6M119.7 19.5h3.6M122.7 22.5h3.6M47.7 25.5h3.6M125.7 25.5h3.6M44.7 28.5h3.6M128.7 31.5h3.6M35.7 40.5h3.6M137.7 43.5h3.6M50.7 58.5h6.6M110.7 58.5h6.6M158.7 58.5h3.6M11.7 61.5h3.6M50.7 61.5h3.6M68.7 61.5h3.6M95.7 61.5h6.6M113.7 61.5h3.6M158.7 61.5h3.6M5.7 64.5h3.6M53.7 64.5h3.6M161.7 64.5h3.6M161.7 67.5h3.6M2.7 73.5h3.6M104.7 73.5h3.6M2.7 76.5h3.6M62.7 76.5h3.6M2.7 79.5h3.6M2.7 82.5h3.6M2.7 85.5h3.6M2.7 88.5h3.6M2.7 91.5h3.6M74.7 100.5h3.6M161.7 100.5h3.6M5.7 103.5h3.6M161.7 103.5h3.6M5.7 106.5h3.6M158.7 109.5h3.6M8.7 112.5h3.6M155.7 115.5h3.6M11.7 118.5h3.6M152.7 121.5h3.6M149.7 124.5h3.6M17.7 127.5h3.6M146.7 127.5h3.6M143.7 130.5h3.6M26.7 133.5h3.6M86.7 133.5h3.6M137.7 133.5h3.6M32.7 136.5h3.6M86.7 136.5h3.6M38.7 139.5h3.6M89.7 139.5h3.6M125.7 139.5h3.6M47.7 142.5h6.6M62.7 142.5h6.6M98.7 142.5h6.6M113.7 142.5h6.6"/>
<path stroke="#b3b3b3" d="M74.7 4.5h9.6M92.7 4.5h9.6M65.7 7.5h6.6M104.7 7.5h3.6M62.7 10.5h3.6M110.7 10.5h3.6M56.7 13.5h3.6M116.7 13.5h3.6M53.7 16.5h3.6M119.7 16.5h3.6M50.7 19.5h3.6M122.7 19.5h3.6M47.7 22.5h3.6M125.7 22.5h3.6M44.7 25.5h3.6M128.7 25.5h3.6M41.7 28.5h3.6M128.7 28.5h6.6M38.7 31.5h6.6M38.7 34.5h3.6M32.7 43.5h3.6M146.7 49.5h3.6M155.7 52.5h3.6M20.7 55.5h3.6M155.7 55.5h6.6M11.7 58.5h6.6M8.7 61.5h3.6M53.7 61.5h15.6M101.7 61.5h12.6M161.7 61.5h3.6M110.7 64.5h3.6M2.7 67.5h3.6M56.7 67.5h3.6M107.7 67.5h3.6M2.7 70.5h3.6M164.7 70.5h3.6M164.7 73.5h3.6M101.7 76.5h3.6M164.7 76.5h3.6M164.7 79.5h3.6M164.7 82.5h3.6M68.7 85.5h3.6M164.7 85.5h3.6M164.7 88.5h3.6M71.7 91.5h3.6M92.7 91.5h3.6M164.7 91.5h3.6M2.7 94.5h3.6M164.7 94.5h3.6M2.7 97.5h3.6M2.7 100.5h3.6M89.7 100.5h3.6M161.7 106.5h3.6M5.7 109.5h3.6M158.7 112.5h3.6M8.7 115.5h3.6M158.7 115.5h3.6M8.7 118.5h3.6M155.7 118.5h3.6M11.7 121.5h3.6M14.7 124.5h3.6M86.7 124.5h3.6M77.7 127.5h3.6M86.7 127.5h3.6M20.7 130.5h3.6M77.7 130.5h3.6M86.7 130.5h3.6M23.7 133.5h3.6M77.7 133.5h3.6M140.7 133.5h3.6M29.7 136.5h3.6M77.7 136.5h3.6M134.7 136.5h3.6M35.7 139.5h3.6M74.7 139.5h3.6M128.7 139.5h6.6M41.7 142.5h6.6M68.7 142.5h3.6M95.7 142.5h3.6M119.7 142.5h6.6M53.7 145.5h15.6M98.7 145.5h15.6"/>
<path stroke="#b7b7b7" d="M77.7 1.5h21.6M68.7 4.5h6.6M101.7 4.5h6.6M62.7 7.5h3.6M107.7 7.5h6.6M56.7 10.5h6.6M113.7 10.5h6.6M53.7 13.5h3.6M119.7 13.5h3.6M50.7 16.5h3.6M122.7 16.5h3.6M47.7 19.5h3.6M125.7 19.5h3.6M41.7 22.5h6.6M128.7 22.5h3.6M38.7 25.5h6.6M131.7 25.5h3.6M35.7 28.5h6.6M134.7 28.5h3.6M35.7 31.5h3.6M131.7 31.5h9.6M32.7 34.5h6.6M131.7 34.5h9.6M29.7 37.5h9.6M29.7 46.5h3.6M149.7 46.5h6.6M20.7 49.5h3.6M152.7 49.5h6.6M14.7 52.5h6.6M152.7 52.5h3.6M158.7 52.5h3.6M11.7 55.5h9.6M161.7 55.5h3.6M8.7 58.5h3.6M161.7 58.5h3.6M5.7 61.5h3.6M164.7 61.5h3.6M2.7 64.5h3.6M56.7 64.5h3.6M107.7 64.5h3.6M164.7 64.5h3.6M-0.3 67.5h3.6M164.7 67.5h3.6M-0.3 70.5h3.6M59.7 70.5h3.6M104.7 70.5h3.6M167.7 70.5h3.6M-0.3 73.5h3.6M167.7 73.5h3.6M-0.3 76.5h3.6M167.7 76.5h3.6M-0.3 79.5h3.6M65.7 79.5h3.6M98.7 79.5h3.6M167.7 79.5h3.6M-0.3 82.5h3.6M167.7 82.5h3.6M-0.3 85.5h3.6M95.7 85.5h3.6M167.7 85.5h3.6M-0.3 88.5h3.6M167.7 88.5h3.6M-0.3 91.5h3.6M167.7 91.5h3.6M-0.3 94.5h3.6M-0.3 97.5h3.6M74.7 97.5h3.6M89.7 97.5h3.6M164.7 97.5h3.6M164.7 100.5h3.6M2.7 103.5h3.6M164.7 103.5h3.6M2.7 106.5h3.6M164.7 106.5h3.6M2.7 109.5h3.6M161.7 109.5h3.6M5.7 112.5h3.6M77.7 112.5h3.6M86.7 112.5h3.6M161.7 112.5h3.6M5.7 115.5h3.6M77.7 115.5h3.6M86.7 115.5h3.6M77.7 118.5h3.6M86.7 118.5h3.6M158.7 118.5h3.6M8.7 121.5h3.6M77.7 121.5h3.6M86.7 121.5h3.6M155.7 121.5h3.6M11.7 124.5h3.6M77.7 124.5h3.6M152.7 124.5h3.6M14.7 127.5h3.6M149.7 127.5h6.6M17.7 130.5h3.6M146.7 130.5h6.6M20.7 133.5h3.6M143.7 133.5h3.6M23.7 136.5h6.6M137.7 136.5h6.6M29.7 139.5h6.6M134.7 139.5h3.6M35.7 142.5h6.6M125.7 142.5h6.6M44.7 145.5h9.6M68.7 145.5h6.6M92.7 145.5h6.6M113.7 145.5h12.6M56.7 148.5h15.6M95.7 148.5h15.6"/>
<path stroke="#bfbfbf" d="M137.7 40.5h6.6M29.7 43.5h3.6M140.7 43.5h6.6M26.7 46.5h3.6M146.7 46.5h3.6M23.7 49.5h3.6M65.7 64.5h39.6M62.7 70.5h3.6M65.7 76.5h3.6M68.7 82.5h3.6M95.7 82.5h3.6M92.7 88.5h3.6M74.7 94.5h3.6M89.7 94.5h3.6M77.7 103.5h3.6M86.7 103.5h3.6M83.7 127.5h3.6M80.7 130.5h6.6M80.7 133.5h3.6M83.7 139.5h3.6M74.7 142.5h3.6M89.7 142.5h3.6M77.7 145.5h12.6"/>
<path stroke="#c3c3c3" d="M62.7 67.5h3.6M101.7 67.5h3.6M101.7 70.5h3.6M98.7 76.5h3.6M77.7 100.5h3.6M86.7 100.5h3.6M80.7 112.5h6.6M80.7 115.5h6.6M80.7 118.5h6.6M80.7 121.5h6.6M80.7 124.5h6.6M80.7 127.5h3.6M80.7 139.5h3.6"/>
<path stroke="#c7c7c7" d="M65.7 67.5h3.6M98.7 67.5h3.6M65.7 73.5h3.6M98.7 73.5h3.6M68.7 79.5h3.6M71.7 85.5h3.6M74.7 91.5h3.6M89.7 91.5h3.6M77.7 97.5h3.6M86.7 97.5h3.6M80.7 106.5h6.6M80.7 109.5h6.6M77.7 142.5h3.6M86.7 142.5h3.6"/>
<path stroke="#cbcbcb" d="M68.7 67.5h3.6M95.7 67.5h3.6M65.7 70.5h3.6M98.7 70.5h3.6M95.7 79.5h3.6M92.7 85.5h3.6M80.7 103.5h6.6M80.7 142.5h6.6"/>
<path stroke="#cfcfcf" d="M71.7 67.5h9.6M86.7 67.5h9.6M68.7 76.5h3.6M71.7 82.5h3.6M74.7 88.5h3.6M89.7 88.5h3.6M77.7 94.5h3.6M86.7 94.5h3.6M80.7 100.5h6.6"/>
<path stroke="#d3d3d3" d="M80.7 67.5h6.6M68.7 70.5h3.6M95.7 70.5h3.6M68.7 73.5h3.6M95.7 73.5h3.6M95.7 76.5h3.6M92.7 82.5h3.6M77.7 91.5h3.6M80.7 97.5h6.6"/>
<path stroke="#d7d7d7" d="M71.7 70.5h3.6M92.7 70.5h3.6M71.7 79.5h3.6M74.7 85.5h3.6M86.7 91.5h3.6M80.7 94.5h6.6"/>
<path stroke="#dbdbdb" d="M74.7 70.5h3.6M89.7 70.5h3.6M71.7 73.5h3.6M71.7 76.5h3.6M92.7 79.5h3.6M89.7 85.5h3.6M77.7 88.5h3.6M80.7 91.5h6.6"/>
<path stroke="#dfdfdf" d="M77.7 70.5h3.6M86.7 70.5h3.6M92.7 73.5h3.6M92.7 76.5h3.6M74.7 82.5h3.6M86.7 88.5h3.6"/>
<path stroke="#e3e3e3" d="M80.7 70.5h6.6M74.7 73.5h3.6M89.7 73.5h3.6M74.7 79.5h3.6M89.7 82.5h3.6M77.7 85.5h3.6M80.7 88.5h6.6"/>
<path stroke="#e7e7e7" d="M77.7 73.5h3.6M74.7 76.5h3.6M89.7 76.5h3.6M89.7 79.5h3.6M86.7 85.5h3.6"/>
<path stroke="#ebebeb" d="M80.7 73.5h9.6M77.7 82.5h3.6M86.7 82.5h3.6M80.7 85.5h6.6"/>
<path stroke="#efefef" d="M77.7 76.5h3.6M86.7 76.5h3.6M77.7 79.5h3.6M86.7 79.5h3.6M80.7 82.5h6.6"/>
<path stroke="#f3f3f3" d="M80.7 76.5h6.6M80.7 79.5h6.6"/></g></g>
</g></g>
<rect x="182.7" y="0" width="7.2" height="159.0" fill="url(#cb)"/>
<rect x="191" y="158.50" width="2.5" height="1" fill="#3a3a3a"/><text class="t" x="196" y="161.90">0.00</text>
<rect x="191" y="142.42" width="2.5" height="1" fill="#3a3a3a"/><text class="t" x="196" y="145.82">0.11</text>
<rect x="191" y="126.34" width="2.5" height="1" fill="#3a3a3a"/><text class="t" x="196" y="129.74">0.22</text>
<rect x="191" y="110.26" width="2.5" height="1" fill="#3a3a3a"/><text class="t" x="196" y="113.66">0.33</text>
<rect x="191" y="94.18" width="2.5" height="1" fill="#3a3a3a"/><text class="t" x="196" y="97.58">0.44</text>
<rect x="191" y="78.09" width="2.5" height="1" fill="#3a3a3a"/><text class="t" x="196" y="81.49">0.55</text>
<rect x="191" y="62.01" width="2.5" height="1" fill="#3a3a3a"/><text class="t" x="196" y="65.41">0.67</text>
<rect x="191" y="45.93" width="2.5" height="1" fill="#3a3a3a"/><text class="t" x="196" y="49.33">0.78</text>
<rect x="191" y="29.85" width="2.5" height="1" fill="#3a3a3a"/><text class="t" x="196" y="33.25">0.89</text>
<rect x="191" y="13.77" width="2.5" height="1" fill="#3a3a3a"/><text class="t" x="196" y="17.17">1.00</text>
</g>
<g transform="translate(500.0,238.5)">
<g clip-path="url(#cp)"><g transform="translate(-0,-0.5)">
<g filter="url(#cm_f)">
<rect x="-12" y="-12" width="195" height="183" fill="#404040"/>
<clipPath id="o_f"><path d="M161.9 77.5L163 82.6L163.7 87.8L163.8 93.1L163 98.3L161.7 103.4L160 108.4L158.1 113.3L156 118.2L153.4 122.9L150.3 127.2L146.6 131.1L142.3 134.3L137.5 136.8L132.4 138.7L127.3 140.1L122.4 141.3L117.6 142.5L113 143.8L108.5 145.3L104.1 146.8L99.5 147.9L94.9 148.5L90.2 148.7L85.5 148.5L80.9 148.1L76.3 147.4L71.8 146.5L67.3 145.5L62.9 144.2L58.5 142.8L54.1 141.2L49.7 139.4L45.4 137.5L41 135.4L36.7 133.1L32.5 130.5L28.4 127.6L24.6 124.3L21 120.6L17.9 116.5L15.2 112.2L12.9 107.6L11 102.8L9.5 97.9L8.2 92.9L7.4 87.8L7 82.6L7.1 77.5L7.6 72.4L8.4 67.4L9.7 62.4L11.4 57.6L13.3 53L15.6 48.5L18.1 44.3L20.9 40.2L24 36.4L27.2 32.8L30.7 29.4L34.3 26.3L38.1 23.4L42 20.8L46 18.4L50.1 16.1L54.2 14.1L58.5 12.3L62.8 10.6L67.2 9.1L71.6 7.8L76.2 6.7L80.8 6.1L85.5 6.1L90.1 6.8L94.7 8L99 9.5L103.3 11.2L107.4 13L111.4 15L115.3 17.1L119.1 19.3L122.7 21.8L126.2 24.4L129.6 27.2L132.8 30.2L135.8 33.4L138.7 36.6L141.5 40.1L144.2 43.6L146.8 47.3L149.4 51L151.8 55L154.2 59.1L156.5 63.4L158.5 67.9L160.3 72.6Z"/></clipPath>
<g clip-path="url(#o_f)"><g filter="url(#cellblur)">
<g fill="none" stroke-width="3.6"><rect x="-11" y="-11" width="196" height="184" stroke="none" fill="#000000"/></g>
</g></g>
</g>
</g></g>
<rect x="182.7" y="0" width="7.2" height="159.0" fill="url(#cb)"/>
<rect x="191" y="158.50" width="2.5" height="1" fill="#3a3a3a"/><text class="t" x="196" y="161.90">0.00</text>
<rect x="191" y="142.42" width="2.5" height="1" fill="#3a3a3a"/><text class="t" x="196" y="145.82">0.11</text>
<rect x="191" y="126.34" width="2.5" height="1" fill="#3a3a3a"/><text class="t" x="196" y="129.74">0.22</text>
<rect x="191" y="110.26" width="2.5" height="1" fill="#3a3a3a"/><text class="t" x="196" y="113.66">0.33</text>
<rect x="191" y="94.18" width="2.5" height="1" fill="#3a3a3a"/><text class="t" x="196" y="97.58">0.44</text>
<rect x="191" y="78.09" width="2.5" height="1" fill="#3a3a3a"/><text class="t" x="196" y="81.49">0.55</text>
<rect x="191" y="62.01" width="2.5" height="1" fill="#3a3a3a"/><text class="t" x="196" y="65.41">0.67</text>
<rect x="191" y="45.93" width="2.5" height="1" fill="#3a3a3a"/><text class="t" x="196" y="49.33">0.78</text>
<rect x="191" y="29.85" width="2.5" height="1" fill="#3a3a3a"/><text class="t" x="196" y="33.25">0.89</text>
<rect x="191" y="13.77" width="2.5" height="1" fill="#3a3a3a"/><text class="t" x="196" y="17.17">1.00</text>
</g>
<text class="c" x="10.3" y="435.8">(d)</text><text class="c" x="36.1" y="435.8" textLength="165.9" lengthAdjust="spacing">Total Uncertainty - RKL</text>
<text class="c" x="256.6" y="435.8">(e)</text><text class="c" x="282.7" y="435.8" textLength="161.3" lengthAdjust="spacing">Data Uncertainty - RKL</text>
<text class="c" x="493.6" y="435.8">(f)</text><text class="c" x="517.7" y="435.8" textLength="179.0" lengthAdjust="spacing">Mutual Information - RKL</text>
</svg>
</body></html>
